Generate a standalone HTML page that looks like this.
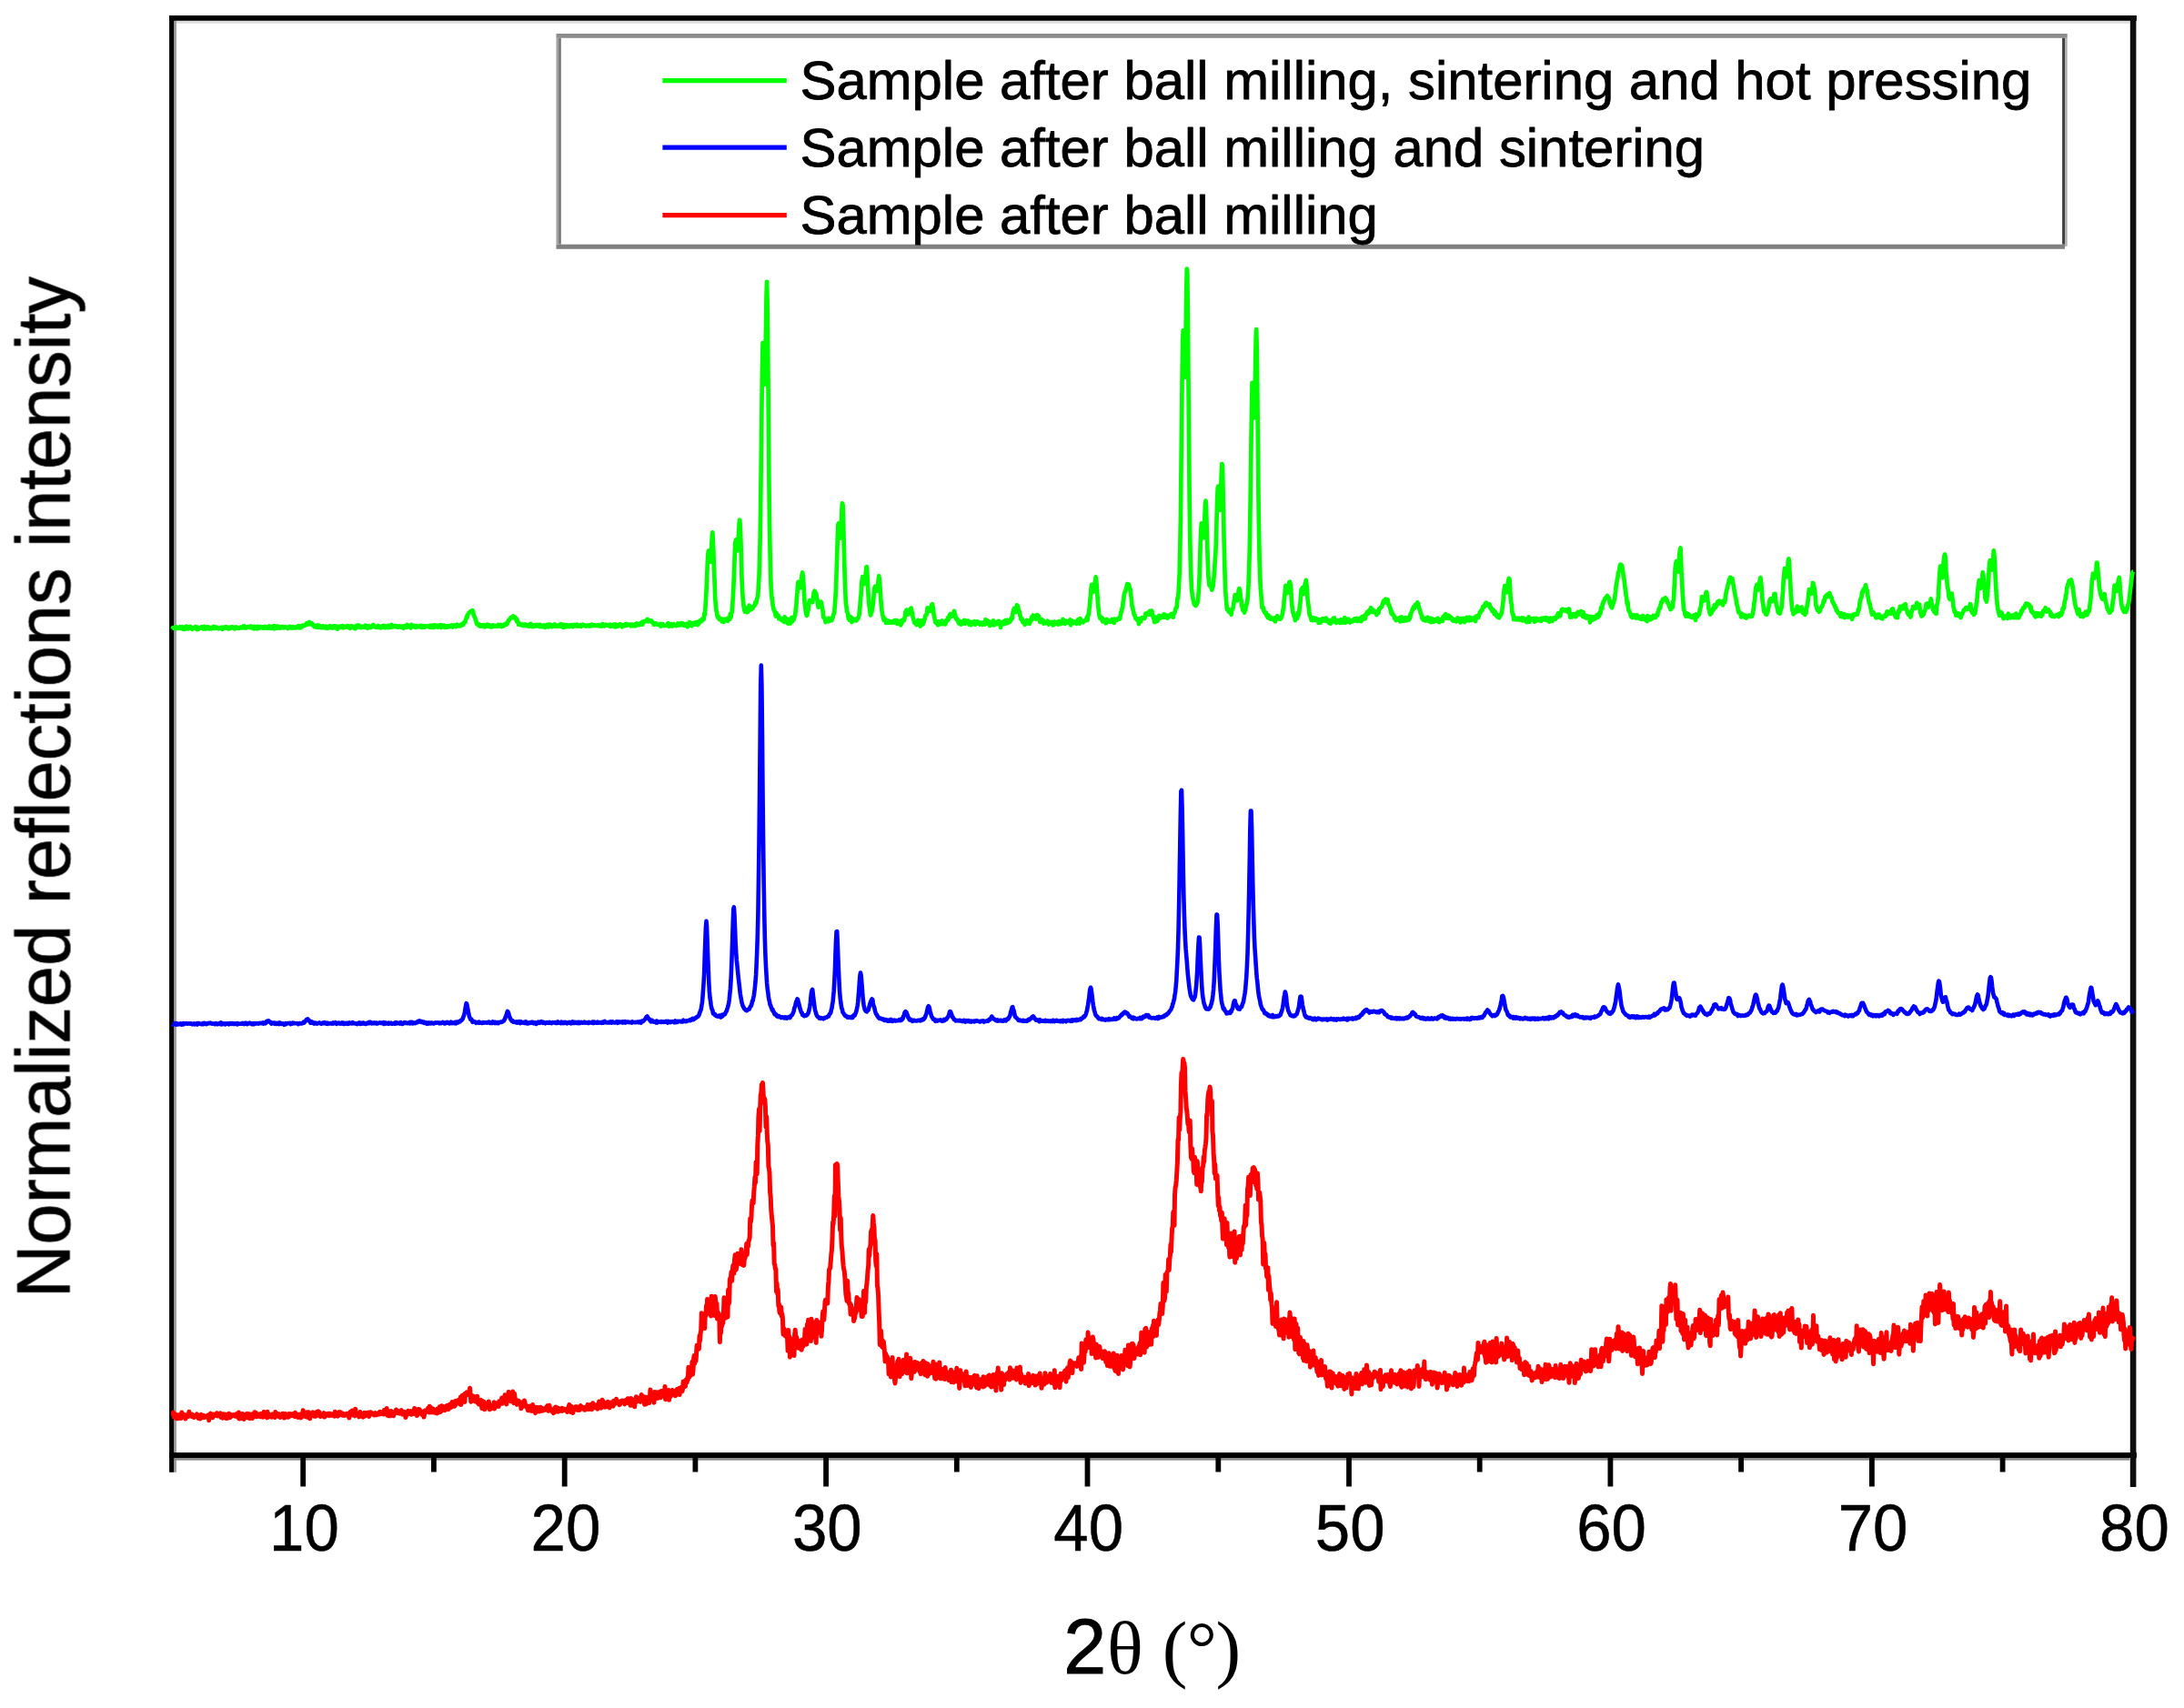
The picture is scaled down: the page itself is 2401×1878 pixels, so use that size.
<!DOCTYPE html>
<html lang="en">
<head>
<meta charset="utf-8">
<title>XRD patterns</title>
<style>
html,body{margin:0;padding:0;background:#fff;}
body{width:2401px;height:1878px;overflow:hidden;}
svg{display:block;}
.sans{font-family:"Liberation Sans",sans-serif;}
.serif{font-family:"Liberation Serif",serif;}
</style>
</head>
<body>
<svg width="2401" height="1878" viewBox="0 0 2401 1878">
<defs><filter id="soft" filterUnits="userSpaceOnUse" x="0" y="0" width="2401" height="1878"><feGaussianBlur stdDeviation="0.6"/></filter></defs>
<rect x="0" y="0" width="2401" height="1878" fill="#ffffff"/>
<g filter="url(#soft)">
<rect x="0" y="0" width="2401" height="1878" fill="#ffffff"/>
<!-- frame -->
<rect x="191.2" y="22.8" width="2150" height="3" fill="#dedede"/>
<rect x="191.2" y="22.8" width="2.8" height="1596" fill="#a0a0a0"/>
<rect x="191.2" y="1603" width="2150" height="2.7" fill="#8a8a8a"/>
<rect x="186.1" y="17" width="2162.8" height="5.8" fill="#000"/>
<rect x="186.1" y="17" width="5.1" height="1601.8" fill="#000"/>
<rect x="186.1" y="1597.1" width="2162.8" height="5.9" fill="#000"/>
<rect x="2341.8" y="17" width="6.6" height="1618" fill="#0a0a0a"/>
<g stroke="#000" stroke-width="5.8" fill="none" stroke-linecap="butt">
<line x1="333.2" y1="1600.0" x2="333.2" y2="1634.5"/><line x1="476.9" y1="1600.0" x2="476.9" y2="1618.5"/><line x1="620.7" y1="1600.0" x2="620.7" y2="1634.5"/><line x1="764.4" y1="1600.0" x2="764.4" y2="1618.5"/><line x1="908.1" y1="1600.0" x2="908.1" y2="1634.5"/><line x1="1051.8" y1="1600.0" x2="1051.8" y2="1618.5"/><line x1="1195.5" y1="1600.0" x2="1195.5" y2="1634.5"/><line x1="1339.3" y1="1600.0" x2="1339.3" y2="1618.5"/><line x1="1483.0" y1="1600.0" x2="1483.0" y2="1634.5"/><line x1="1626.7" y1="1600.0" x2="1626.7" y2="1618.5"/><line x1="1770.4" y1="1600.0" x2="1770.4" y2="1634.5"/><line x1="1914.1" y1="1600.0" x2="1914.1" y2="1618.5"/><line x1="2057.9" y1="1600.0" x2="2057.9" y2="1634.5"/><line x1="2201.6" y1="1600.0" x2="2201.6" y2="1618.5"/>
</g>
<!-- curves -->
<g fill="none" stroke-linejoin="round" stroke-linecap="butt">
<path stroke="#ff0000" stroke-width="5.0" d="M189.5 1557.5L190.1 1556.8L190.6 1552.9L191.2 1558.0L191.8 1555.2L192.4 1558.6L192.9 1559.1L193.5 1555.3L194.1 1557.3L194.7 1559.7L195.2 1559.8L195.8 1558.6L196.4 1556.3L197.0 1557.7L197.5 1555.6L198.1 1559.5L198.7 1557.6L199.3 1559.3L199.8 1553.1L200.4 1556.2L201.0 1556.2L201.6 1556.4L202.1 1555.0L202.7 1557.8L203.3 1555.6L203.9 1560.0L204.4 1556.4L205.0 1556.3L205.6 1555.9L206.2 1557.9L206.7 1557.5L207.3 1555.5L207.9 1552.2L208.5 1556.4L209.0 1555.6L209.6 1557.0L210.2 1555.6L210.8 1557.4L211.3 1555.1L211.9 1557.4L212.5 1556.6L213.1 1558.5L213.6 1556.7L214.2 1557.9L214.8 1556.5L215.4 1556.6L215.9 1555.8L216.5 1554.8L217.1 1557.2L217.7 1556.9L218.2 1559.4L218.8 1557.6L219.4 1559.9L220.0 1560.0L220.5 1557.3L221.1 1555.3L221.7 1556.5L222.3 1558.5L222.8 1556.8L223.4 1558.6L224.0 1556.3L224.6 1557.0L225.1 1558.4L225.7 1557.9L226.3 1557.4L226.9 1557.3L227.4 1557.8L228.0 1556.7L228.6 1558.5L229.2 1555.9L229.7 1561.7L230.3 1557.2L230.9 1555.5L231.5 1554.2L232.0 1555.4L232.6 1557.5L233.2 1556.0L233.8 1558.7L234.3 1556.2L234.9 1555.1L235.5 1556.3L236.1 1555.9L236.6 1556.4L237.2 1554.9L237.8 1556.5L238.4 1553.7L238.9 1557.0L239.5 1556.5L240.1 1556.5L240.7 1555.4L241.2 1556.6L241.8 1557.0L242.4 1553.9L243.0 1558.3L243.5 1556.4L244.1 1557.5L244.7 1559.1L245.3 1554.7L245.8 1555.1L246.4 1555.1L247.0 1556.7L247.6 1555.0L248.1 1555.2L248.7 1559.5L249.3 1556.2L249.9 1557.3L250.4 1558.3L251.0 1559.0L251.6 1554.3L252.2 1557.2L252.7 1557.9L253.3 1558.4L253.9 1555.5L254.5 1555.9L255.0 1556.9L255.6 1556.7L256.2 1556.0L256.8 1555.6L257.3 1556.4L257.9 1556.1L258.5 1557.0L259.1 1555.5L259.6 1554.9L260.2 1555.8L260.8 1556.2L261.4 1558.3L261.9 1555.9L262.5 1553.0L263.1 1560.1L263.7 1558.5L264.2 1557.5L264.8 1557.3L265.4 1556.5L266.0 1559.4L266.5 1554.5L267.1 1557.7L267.7 1557.7L268.3 1560.4L268.8 1556.3L269.4 1559.0L270.0 1557.2L270.6 1554.8L271.1 1554.6L271.7 1558.4L272.3 1554.4L272.9 1555.9L273.4 1559.2L274.0 1554.8L274.6 1557.3L275.2 1559.6L275.7 1558.9L276.3 1557.7L276.9 1555.1L277.5 1559.4L278.0 1557.2L278.6 1556.4L279.2 1554.5L279.8 1552.7L280.3 1557.0L280.9 1555.6L281.5 1553.5L282.1 1557.8L282.6 1556.7L283.2 1555.3L283.8 1555.6L284.4 1557.2L284.9 1557.1L285.5 1554.7L286.1 1557.8L286.7 1555.9L287.2 1554.5L287.8 1556.0L288.4 1556.3L289.0 1558.2L289.5 1557.3L290.1 1552.4L290.7 1554.1L291.3 1557.5L291.8 1556.6L292.4 1554.6L293.0 1555.3L293.6 1558.9L294.1 1552.2L294.7 1558.2L295.3 1557.9L295.9 1555.1L296.4 1555.7L297.0 1556.7L297.6 1556.2L298.2 1556.8L298.7 1558.1L299.3 1555.0L299.9 1556.1L300.5 1556.8L301.0 1555.3L301.6 1556.0L302.2 1558.5L302.8 1552.6L303.3 1556.5L303.9 1555.1L304.5 1554.1L305.1 1555.6L305.6 1556.6L306.2 1557.4L306.8 1554.7L307.4 1557.1L307.9 1558.4L308.5 1556.3L309.1 1557.2L309.6 1556.7L310.2 1557.1L310.8 1554.3L311.4 1558.0L311.9 1556.7L312.5 1559.0L313.1 1557.3L313.7 1554.4L314.2 1557.9L314.8 1558.2L315.4 1557.7L316.0 1555.4L316.5 1555.2L317.1 1558.2L317.7 1554.6L318.3 1557.3L318.8 1556.1L319.4 1554.7L320.0 1555.2L320.6 1554.9L321.1 1556.7L321.7 1554.7L322.3 1555.7L322.9 1555.4L323.4 1556.5L324.0 1557.5L324.6 1553.3L325.2 1556.5L325.7 1554.6L326.3 1555.4L326.9 1555.5L327.5 1558.4L328.0 1558.3L328.6 1555.3L329.2 1555.3L329.8 1558.2L330.3 1556.6L330.9 1558.9L331.5 1554.5L332.1 1557.6L332.6 1554.8L333.2 1550.7L333.8 1557.0L334.4 1554.0L334.9 1556.9L335.5 1555.1L336.1 1557.8L336.7 1553.3L337.2 1552.9L337.8 1558.2L338.4 1557.5L339.0 1555.8L339.5 1552.8L340.1 1557.1L340.7 1559.8L341.3 1554.9L341.8 1554.9L342.4 1554.1L343.0 1556.3L343.6 1555.4L344.1 1552.9L344.7 1554.3L345.3 1557.1L345.9 1553.5L346.4 1555.9L347.0 1557.2L347.6 1556.7L348.2 1552.4L348.7 1556.4L349.3 1553.5L349.9 1551.9L350.5 1555.9L351.0 1552.6L351.6 1555.0L352.2 1557.5L352.8 1556.3L353.3 1555.1L353.9 1556.9L354.5 1555.4L355.1 1556.7L355.6 1557.2L356.2 1553.6L356.8 1558.1L357.4 1555.0L357.9 1555.4L358.5 1555.6L359.1 1554.8L359.7 1554.5L360.2 1556.1L360.8 1554.2L361.4 1556.0L362.0 1556.5L362.5 1554.2L363.1 1554.6L363.7 1556.1L364.3 1555.1L364.8 1556.2L365.4 1555.0L366.0 1554.6L366.6 1554.7L367.1 1555.7L367.7 1557.1L368.3 1552.2L368.9 1554.2L369.4 1554.4L370.0 1553.7L370.6 1554.2L371.2 1557.1L371.7 1556.8L372.3 1554.0L372.9 1552.5L373.5 1555.7L374.0 1555.8L374.6 1552.9L375.2 1555.3L375.8 1555.7L376.3 1556.1L376.9 1554.1L377.5 1555.8L378.1 1554.7L378.6 1556.4L379.2 1555.4L379.8 1556.0L380.4 1554.9L380.9 1554.5L381.5 1555.3L382.1 1556.4L382.7 1554.2L383.2 1555.5L383.8 1559.1L384.4 1553.7L385.0 1552.5L385.5 1553.2L386.1 1554.3L386.7 1554.8L387.3 1550.9L387.8 1551.3L388.4 1556.1L389.0 1552.3L389.6 1556.0L390.1 1556.9L390.7 1549.3L391.3 1555.7L391.9 1554.8L392.4 1554.1L393.0 1555.4L393.6 1554.6L394.2 1555.6L394.7 1557.9L395.3 1555.2L395.9 1552.5L396.5 1557.1L397.0 1556.6L397.6 1557.2L398.2 1555.3L398.8 1556.2L399.3 1558.1L399.9 1554.5L400.5 1553.5L401.1 1557.1L401.6 1553.9L402.2 1556.6L402.8 1553.6L403.4 1553.7L403.9 1555.0L404.5 1555.1L405.1 1553.1L405.7 1557.4L406.2 1553.7L406.8 1555.7L407.4 1552.8L408.0 1553.4L408.5 1553.4L409.1 1554.7L409.7 1554.7L410.3 1554.8L410.8 1554.4L411.4 1556.0L412.0 1556.0L412.6 1553.6L413.1 1554.6L413.7 1555.1L414.3 1555.6L414.9 1555.2L415.4 1553.7L416.0 1553.7L416.6 1554.4L417.2 1555.1L417.7 1552.3L418.3 1552.4L418.9 1553.5L419.5 1554.3L420.0 1553.0L420.6 1553.4L421.2 1552.7L421.8 1555.0L422.3 1550.5L422.9 1554.1L423.5 1552.9L424.1 1554.1L424.6 1554.4L425.2 1548.6L425.8 1556.0L426.4 1555.3L426.9 1556.8L427.5 1555.3L428.1 1555.6L428.7 1554.9L429.2 1556.8L429.8 1551.5L430.4 1553.7L430.9 1552.2L431.5 1555.4L432.1 1554.3L432.7 1556.7L433.2 1554.0L433.8 1553.4L434.4 1553.4L435.0 1552.4L435.5 1550.0L436.1 1553.6L436.7 1552.9L437.3 1552.8L437.8 1551.5L438.4 1553.8L439.0 1551.7L439.6 1554.1L440.1 1553.1L440.7 1552.9L441.3 1550.6L441.9 1554.1L442.4 1555.1L443.0 1553.2L443.6 1552.4L444.2 1554.5L444.7 1554.8L445.3 1552.6L445.9 1558.4L446.5 1555.6L447.0 1556.1L447.6 1554.1L448.2 1554.0L448.8 1551.4L449.3 1552.7L449.9 1553.3L450.5 1554.5L451.1 1552.2L451.6 1551.6L452.2 1555.3L452.8 1553.3L453.4 1554.8L453.9 1553.3L454.5 1551.9L455.1 1553.0L455.7 1548.4L456.2 1554.8L456.8 1554.0L457.4 1555.1L458.0 1552.5L458.5 1556.6L459.1 1555.1L459.7 1549.5L460.3 1549.4L460.8 1553.2L461.4 1550.0L462.0 1552.4L462.6 1552.3L463.1 1552.0L463.7 1555.4L464.3 1553.6L464.9 1553.7L465.4 1552.9L466.0 1558.1L466.6 1554.9L467.2 1550.9L467.7 1553.3L468.3 1550.7L468.9 1551.8L469.5 1551.9L470.0 1549.3L470.6 1548.3L471.2 1549.5L471.8 1552.9L472.3 1546.3L472.9 1552.9L473.5 1547.4L474.1 1550.0L474.6 1550.4L475.2 1552.9L475.8 1551.4L476.4 1549.1L476.9 1550.0L477.5 1551.6L478.1 1553.3L478.7 1551.5L479.2 1550.7L479.8 1550.3L480.4 1554.0L481.0 1549.0L481.5 1549.6L482.1 1551.2L482.7 1553.0L483.3 1546.7L483.8 1552.2L484.4 1552.5L485.0 1550.5L485.6 1545.8L486.1 1548.2L486.7 1549.3L487.3 1550.1L487.9 1546.7L488.4 1548.8L489.0 1550.7L489.6 1547.9L490.2 1548.3L490.7 1547.8L491.3 1545.5L491.9 1547.6L492.5 1547.7L493.0 1549.6L493.6 1545.8L494.2 1544.3L494.8 1545.8L495.3 1544.5L495.9 1547.6L496.5 1544.5L497.1 1541.6L497.6 1546.6L498.2 1544.5L498.8 1544.7L499.4 1544.8L499.9 1546.2L500.5 1540.6L501.1 1544.2L501.7 1542.3L502.2 1541.9L502.8 1541.1L503.4 1539.7L504.0 1541.2L504.5 1540.3L505.1 1541.9L505.7 1543.9L506.3 1536.3L506.8 1544.5L507.4 1541.6L508.0 1534.5L508.6 1537.1L509.1 1537.1L509.7 1540.4L510.3 1533.3L510.9 1541.4L511.4 1532.2L512.0 1534.1L512.6 1533.1L513.2 1530.8L513.7 1531.0L514.3 1532.6L514.9 1533.6L515.5 1532.5L516.0 1531.5L516.6 1526.3L517.2 1534.0L517.8 1541.2L518.3 1540.7L518.9 1539.4L519.5 1534.8L520.1 1538.0L520.6 1535.1L521.2 1535.7L521.8 1538.0L522.4 1541.0L522.9 1536.9L523.5 1536.8L524.1 1539.1L524.7 1535.3L525.2 1542.4L525.8 1543.2L526.4 1544.0L527.0 1543.1L527.5 1539.6L528.1 1540.9L528.7 1539.4L529.3 1543.1L529.8 1548.4L530.4 1540.4L531.0 1545.0L531.6 1547.2L532.1 1541.3L532.7 1549.7L533.3 1543.0L533.9 1544.7L534.4 1546.4L535.0 1547.9L535.6 1547.8L536.2 1545.5L536.7 1544.8L537.3 1541.0L537.9 1545.5L538.5 1549.8L539.0 1545.1L539.6 1548.4L540.2 1548.7L540.8 1547.3L541.3 1545.5L541.9 1545.3L542.5 1546.3L543.1 1541.8L543.6 1549.1L544.2 1542.8L544.8 1543.4L545.4 1542.9L545.9 1543.3L546.5 1544.6L547.1 1546.3L547.7 1543.3L548.2 1546.5L548.8 1540.8L549.4 1543.3L549.9 1543.3L550.5 1541.1L551.1 1542.2L551.7 1536.9L552.2 1543.3L552.8 1541.3L553.4 1539.0L554.0 1537.0L554.5 1540.1L555.1 1533.8L555.7 1539.0L556.3 1539.3L556.8 1544.0L557.4 1535.6L558.0 1540.0L558.6 1537.6L559.1 1530.4L559.7 1531.5L560.3 1534.0L560.9 1539.6L561.4 1540.7L562.0 1535.7L562.6 1538.1L563.2 1537.8L563.7 1529.9L564.3 1541.3L564.9 1542.6L565.5 1532.2L566.0 1536.5L566.6 1539.5L567.2 1539.9L567.8 1543.6L568.3 1544.3L568.9 1539.9L569.5 1543.6L570.1 1540.3L570.6 1541.6L571.2 1543.3L571.8 1544.5L572.4 1541.7L572.9 1548.7L573.5 1544.6L574.1 1544.4L574.7 1546.7L575.2 1543.6L575.8 1546.3L576.4 1539.9L577.0 1542.0L577.5 1545.6L578.1 1545.7L578.7 1546.3L579.3 1545.9L579.8 1549.0L580.4 1550.7L581.0 1547.0L581.6 1550.7L582.1 1549.4L582.7 1546.0L583.3 1545.8L583.9 1549.0L584.4 1551.4L585.0 1547.0L585.6 1544.5L586.2 1551.2L586.7 1551.6L587.3 1548.6L587.9 1551.5L588.5 1553.6L589.0 1547.3L589.6 1548.3L590.2 1548.4L590.8 1551.6L591.3 1547.4L591.9 1548.5L592.5 1552.0L593.1 1551.5L593.6 1551.6L594.2 1547.3L594.8 1550.3L595.4 1548.1L595.9 1551.3L596.5 1550.5L597.1 1550.9L597.7 1549.0L598.2 1549.7L598.8 1550.2L599.4 1549.0L600.0 1550.1L600.5 1547.3L601.1 1546.9L601.7 1545.8L602.3 1549.2L602.8 1551.3L603.4 1550.4L604.0 1545.2L604.6 1550.4L605.1 1549.6L605.7 1549.2L606.3 1550.0L606.9 1550.8L607.4 1552.5L608.0 1552.2L608.6 1553.7L609.2 1550.8L609.7 1548.3L610.3 1552.4L610.9 1547.0L611.5 1551.4L612.0 1547.4L612.6 1548.4L613.2 1552.2L613.8 1548.3L614.3 1551.9L614.9 1551.0L615.5 1549.3L616.1 1551.2L616.6 1550.9L617.2 1549.9L617.8 1548.3L618.4 1551.4L618.9 1548.9L619.5 1549.5L620.1 1550.6L620.7 1549.4L621.2 1550.2L621.8 1550.3L622.4 1550.2L623.0 1549.9L623.5 1552.5L624.1 1548.5L624.7 1548.6L625.3 1546.9L625.8 1544.5L626.4 1550.9L627.0 1550.5L627.6 1552.5L628.1 1546.3L628.7 1547.7L629.3 1548.1L629.9 1553.5L630.4 1551.2L631.0 1548.8L631.6 1549.1L632.2 1549.8L632.7 1546.7L633.3 1549.8L633.9 1546.7L634.5 1549.2L635.0 1550.4L635.6 1549.4L636.2 1547.3L636.8 1548.1L637.3 1550.4L637.9 1547.5L638.5 1545.6L639.1 1547.9L639.6 1547.3L640.2 1547.9L640.8 1548.3L641.4 1547.4L641.9 1547.4L642.5 1550.1L643.1 1549.3L643.7 1550.1L644.2 1548.0L644.8 1546.9L645.4 1548.4L646.0 1544.4L646.5 1545.0L647.1 1549.4L647.7 1546.3L648.3 1545.8L648.8 1544.8L649.4 1548.2L650.0 1544.3L650.6 1549.8L651.1 1547.4L651.7 1542.8L652.3 1545.6L652.9 1544.3L653.4 1547.8L654.0 1547.7L654.6 1545.3L655.2 1544.8L655.7 1547.3L656.3 1544.7L656.9 1549.2L657.5 1544.4L658.0 1546.7L658.6 1541.1L659.2 1546.6L659.8 1544.1L660.3 1546.2L660.9 1548.1L661.5 1544.9L662.1 1539.2L662.6 1540.2L663.2 1545.3L663.8 1542.8L664.4 1542.1L664.9 1547.3L665.5 1544.2L666.1 1546.9L666.7 1546.8L667.2 1543.5L667.8 1544.7L668.4 1541.3L668.9 1545.2L669.5 1544.0L670.1 1547.9L670.7 1546.0L671.2 1543.4L671.8 1542.0L672.4 1543.1L673.0 1543.6L673.5 1545.4L674.1 1546.0L674.7 1540.2L675.3 1540.6L675.8 1544.0L676.4 1539.9L677.0 1542.7L677.6 1538.3L678.1 1542.0L678.7 1541.5L679.3 1541.8L679.9 1540.9L680.4 1543.7L681.0 1544.7L681.6 1544.2L682.2 1541.5L682.7 1541.3L683.3 1540.3L683.9 1540.0L684.5 1541.4L685.0 1541.3L685.6 1541.1L686.2 1542.2L686.8 1543.8L687.3 1539.7L687.9 1540.7L688.5 1542.7L689.1 1541.7L689.6 1538.9L690.2 1537.8L690.8 1542.6L691.4 1537.9L691.9 1541.8L692.5 1537.9L693.1 1545.3L693.7 1537.5L694.2 1545.3L694.8 1542.3L695.4 1544.0L696.0 1543.5L696.5 1541.5L697.1 1539.1L697.7 1546.7L698.3 1538.6L698.8 1540.2L699.4 1535.8L700.0 1539.4L700.6 1541.0L701.1 1537.3L701.7 1539.5L702.3 1538.2L702.9 1538.0L703.4 1540.6L704.0 1541.2L704.6 1536.5L705.2 1533.5L705.7 1539.8L706.3 1535.1L706.9 1536.9L707.5 1535.7L708.0 1540.9L708.6 1544.3L709.2 1536.0L709.8 1544.1L710.3 1538.0L710.9 1536.4L711.5 1540.6L712.1 1542.9L712.6 1536.4L713.2 1536.0L713.8 1542.4L714.4 1539.4L714.9 1528.1L715.5 1536.0L716.1 1533.9L716.7 1534.4L717.2 1536.5L717.8 1534.5L718.4 1534.6L719.0 1542.2L719.5 1530.6L720.1 1536.0L720.7 1537.2L721.3 1530.7L721.8 1531.5L722.4 1531.4L723.0 1537.6L723.6 1531.3L724.1 1536.2L724.7 1530.7L725.3 1530.3L725.9 1535.7L726.4 1536.8L727.0 1529.6L727.6 1530.5L728.2 1534.5L728.7 1530.4L729.3 1529.6L729.9 1529.7L730.5 1534.1L731.0 1524.4L731.6 1538.7L732.2 1538.1L732.8 1536.8L733.3 1531.8L733.9 1530.2L734.5 1534.1L735.1 1528.5L735.6 1539.3L736.2 1529.9L736.8 1535.9L737.4 1534.5L737.9 1530.1L738.5 1530.7L739.1 1528.5L739.7 1531.6L740.2 1533.1L740.8 1531.0L741.4 1529.6L742.0 1530.7L742.5 1534.8L743.1 1533.4L743.7 1531.8L744.3 1527.6L744.8 1527.9L745.4 1531.2L746.0 1527.7L746.6 1526.4L747.1 1533.6L747.7 1528.7L748.3 1528.9L748.9 1525.5L749.4 1528.3L750.0 1529.7L750.6 1526.8L751.2 1519.0L751.7 1521.8L752.3 1524.8L752.9 1522.3L753.5 1524.3L754.0 1517.3L754.6 1517.0L755.2 1520.0L755.8 1514.2L756.3 1517.2L756.9 1503.3L757.5 1505.9L758.1 1514.1L758.6 1512.4L759.2 1511.1L759.8 1510.8L760.4 1509.8L760.9 1497.5L761.5 1511.2L762.1 1505.9L762.7 1492.9L763.2 1490.5L763.8 1499.1L764.4 1490.9L765.0 1496.5L765.5 1489.5L766.1 1479.3L766.7 1480.8L767.3 1481.0L767.8 1480.5L768.4 1483.2L769.0 1469.1L769.6 1474.2L770.1 1465.7L770.7 1463.2L771.3 1443.7L771.9 1454.3L772.4 1444.6L773.0 1458.1L773.6 1458.6L774.2 1451.0L774.7 1460.7L775.3 1444.5L775.9 1446.6L776.5 1435.7L777.0 1439.8L777.6 1428.6L778.2 1434.0L778.8 1444.2L779.3 1436.3L779.9 1433.9L780.5 1435.5L781.1 1440.3L781.6 1447.0L782.2 1425.2L782.8 1436.6L783.4 1435.8L783.9 1435.1L784.5 1436.9L785.1 1441.2L785.7 1446.5L786.2 1425.4L786.8 1431.0L787.4 1442.9L788.0 1433.3L788.5 1450.2L789.1 1442.7L789.7 1450.3L790.2 1444.3L790.8 1447.6L791.4 1475.8L792.0 1452.6L792.5 1465.7L793.1 1453.8L793.7 1458.1L794.3 1446.2L794.8 1454.9L795.4 1445.9L796.0 1426.8L796.6 1427.0L797.1 1444.8L797.7 1449.2L798.3 1436.4L798.9 1432.1L799.4 1433.6L800.0 1448.0L800.6 1418.3L801.2 1433.4L801.7 1432.3L802.3 1407.4L802.9 1405.2L803.5 1404.5L804.0 1398.5L804.6 1408.4L805.2 1398.9L805.8 1391.4L806.3 1395.9L806.9 1400.1L807.5 1385.4L808.1 1379.7L808.6 1391.6L809.2 1396.3L809.8 1393.6L810.4 1386.7L810.9 1378.3L811.5 1385.7L812.1 1383.8L812.7 1384.7L813.2 1380.3L813.8 1389.6L814.4 1389.5L815.0 1373.7L815.5 1390.4L816.1 1378.0L816.7 1387.6L817.3 1386.2L817.8 1391.4L818.4 1383.5L819.0 1383.4L819.6 1380.4L820.1 1378.0L820.7 1367.6L821.3 1379.6L821.9 1367.2L822.4 1370.8L823.0 1364.2L823.6 1363.6L824.2 1360.2L824.7 1339.9L825.3 1343.6L825.9 1339.9L826.5 1326.3L827.0 1320.0L827.6 1321.8L828.2 1322.8L828.8 1310.3L829.3 1304.7L829.9 1294.5L830.5 1300.5L831.1 1277.8L831.6 1277.7L832.2 1291.0L832.8 1258.8L833.4 1248.4L833.9 1227.9L834.5 1219.5L835.1 1243.6L835.7 1218.6L836.2 1203.8L836.8 1202.1L837.4 1192.5L838.0 1198.1L838.5 1190.4L839.1 1201.5L839.7 1212.1L840.3 1207.3L840.8 1208.6L841.4 1216.9L842.0 1239.1L842.6 1227.6L843.1 1241.5L843.7 1254.6L844.3 1258.8L844.9 1282.5L845.4 1284.6L846.0 1289.4L846.6 1311.2L847.2 1315.6L847.7 1329.5L848.3 1336.4L848.9 1342.4L849.5 1348.1L850.0 1369.5L850.6 1366.8L851.2 1389.5L851.8 1390.4L852.3 1394.9L852.9 1395.2L853.5 1420.3L854.1 1411.1L854.6 1422.5L855.2 1417.9L855.8 1435.9L856.4 1433.9L856.9 1442.1L857.5 1443.9L858.1 1439.8L858.7 1437.1L859.2 1447.1L859.8 1444.5L860.4 1449.1L861.0 1467.2L861.5 1463.6L862.1 1461.0L862.7 1465.5L863.3 1469.0L863.8 1465.4L864.4 1464.9L865.0 1467.8L865.6 1472.0L866.1 1485.3L866.7 1462.5L867.3 1472.9L867.9 1469.6L868.4 1492.3L869.0 1471.5L869.6 1485.5L870.2 1481.1L870.7 1480.4L871.3 1484.7L871.9 1479.8L872.5 1474.4L873.0 1490.6L873.6 1467.7L874.2 1462.3L874.8 1470.2L875.3 1481.0L875.9 1470.5L876.5 1476.0L877.1 1481.9L877.6 1479.8L878.2 1477.5L878.8 1482.4L879.4 1474.2L879.9 1481.6L880.5 1474.8L881.1 1484.3L881.7 1480.8L882.2 1472.9L882.8 1480.6L883.4 1478.4L884.0 1477.4L884.5 1473.2L885.1 1461.4L885.7 1465.8L886.3 1475.9L886.8 1478.1L887.4 1456.3L888.0 1460.4L888.6 1451.3L889.1 1456.0L889.7 1470.0L890.3 1460.3L890.9 1468.1L891.4 1474.6L892.0 1450.3L892.6 1463.9L893.2 1465.0L893.7 1465.6L894.3 1469.7L894.9 1470.3L895.5 1465.6L896.0 1453.8L896.6 1469.3L897.2 1476.4L897.8 1451.6L898.3 1458.6L898.9 1461.7L899.5 1455.8L900.1 1459.8L900.6 1459.7L901.2 1465.4L901.8 1453.7L902.4 1454.4L902.9 1469.3L903.5 1462.1L904.1 1449.3L904.7 1442.1L905.2 1449.1L905.8 1451.4L906.4 1443.0L907.0 1431.4L907.5 1429.3L908.1 1430.3L908.7 1432.0L909.2 1430.4L909.8 1433.1L910.4 1414.6L911.0 1408.7L911.5 1395.9L912.1 1395.1L912.7 1394.2L913.3 1386.4L913.8 1379.5L914.4 1374.6L915.0 1361.7L915.6 1343.9L916.1 1346.0L916.7 1335.6L917.3 1314.7L917.9 1337.3L918.4 1280.7L919.0 1280.4L919.6 1281.1L920.2 1279.5L920.7 1282.0L921.3 1300.0L921.9 1315.7L922.5 1321.1L923.0 1329.8L923.6 1352.6L924.2 1338.9L924.8 1359.6L925.3 1370.0L925.9 1374.9L926.5 1384.4L927.1 1391.5L927.6 1395.2L928.2 1397.5L928.8 1403.9L929.4 1414.4L929.9 1423.3L930.5 1426.5L931.1 1430.6L931.7 1408.2L932.2 1422.0L932.8 1422.0L933.4 1432.9L934.0 1434.7L934.5 1433.0L935.1 1445.2L935.7 1435.1L936.3 1440.8L936.8 1444.8L937.4 1445.0L938.0 1439.3L938.6 1452.6L939.1 1447.6L939.7 1449.5L940.3 1443.8L940.9 1443.3L941.4 1435.6L942.0 1426.5L942.6 1432.3L943.2 1428.7L943.7 1440.0L944.3 1428.6L944.9 1435.4L945.5 1431.6L946.0 1438.2L946.6 1436.2L947.2 1447.6L947.8 1443.2L948.3 1447.5L948.9 1435.4L949.5 1419.6L950.1 1439.0L950.6 1443.5L951.2 1421.7L951.8 1431.8L952.4 1414.8L952.9 1412.1L953.5 1405.2L954.1 1396.3L954.7 1391.3L955.2 1373.8L955.8 1380.8L956.4 1372.2L957.0 1368.6L957.5 1354.9L958.1 1352.2L958.7 1360.1L959.3 1345.1L959.8 1336.4L960.4 1345.0L961.0 1350.1L961.6 1368.1L962.1 1363.3L962.7 1386.5L963.3 1392.3L963.9 1378.7L964.4 1413.3L965.0 1416.2L965.6 1424.6L966.2 1442.4L966.7 1454.5L967.3 1478.7L967.9 1466.0L968.5 1463.1L969.0 1472.7L969.6 1480.8L970.2 1473.7L970.8 1481.8L971.3 1474.9L971.9 1480.2L972.5 1487.7L973.1 1497.1L973.6 1488.2L974.2 1490.0L974.8 1496.0L975.4 1491.6L975.9 1495.6L976.5 1494.6L977.1 1511.0L977.7 1499.3L978.2 1510.7L978.8 1504.3L979.4 1514.1L980.0 1499.4L980.5 1506.1L981.1 1492.4L981.7 1512.6L982.3 1508.9L982.8 1503.5L983.4 1516.5L984.0 1521.0L984.6 1513.6L985.1 1513.9L985.7 1505.4L986.3 1500.5L986.9 1496.6L987.4 1510.5L988.0 1494.2L988.6 1503.3L989.2 1513.7L989.7 1506.1L990.3 1496.9L990.9 1499.0L991.5 1510.8L992.0 1497.5L992.6 1500.8L993.2 1495.3L993.8 1502.7L994.3 1499.4L994.9 1508.6L995.5 1497.1L996.1 1500.2L996.6 1489.1L997.2 1510.0L997.8 1509.4L998.4 1500.9L998.9 1503.4L999.5 1505.1L1000.1 1508.7L1000.7 1493.3L1001.2 1497.6L1001.8 1515.7L1002.4 1509.5L1003.0 1506.3L1003.5 1503.2L1004.1 1507.9L1004.7 1508.3L1005.3 1508.4L1005.8 1497.6L1006.4 1503.8L1007.0 1506.0L1007.6 1505.6L1008.1 1498.3L1008.7 1503.0L1009.3 1498.9L1009.9 1502.2L1010.4 1505.9L1011.0 1508.0L1011.6 1508.2L1012.2 1510.6L1012.7 1506.1L1013.3 1498.5L1013.9 1505.8L1014.5 1503.1L1015.0 1496.5L1015.6 1502.4L1016.2 1508.2L1016.8 1511.7L1017.3 1505.5L1017.9 1498.7L1018.5 1506.0L1019.1 1502.5L1019.6 1513.3L1020.2 1499.8L1020.8 1511.3L1021.4 1505.5L1021.9 1509.0L1022.5 1503.1L1023.1 1509.8L1023.7 1507.1L1024.2 1506.2L1024.8 1501.5L1025.4 1504.3L1026.0 1497.3L1026.5 1510.3L1027.1 1506.0L1027.7 1515.6L1028.2 1499.7L1028.8 1516.2L1029.4 1510.3L1030.0 1505.6L1030.5 1510.7L1031.1 1501.5L1031.7 1501.0L1032.3 1514.8L1032.8 1497.9L1033.4 1508.6L1034.0 1515.8L1034.6 1509.3L1035.1 1515.8L1035.7 1507.7L1036.3 1505.5L1036.9 1515.2L1037.4 1513.8L1038.0 1508.9L1038.6 1516.6L1039.2 1503.6L1039.7 1515.0L1040.3 1507.7L1040.9 1511.1L1041.5 1510.6L1042.0 1511.1L1042.6 1513.0L1043.2 1517.7L1043.8 1517.8L1044.3 1511.3L1044.9 1511.4L1045.5 1506.2L1046.1 1519.8L1046.6 1516.4L1047.2 1508.8L1047.8 1513.1L1048.4 1519.9L1048.9 1509.2L1049.5 1514.3L1050.1 1513.2L1050.7 1512.1L1051.2 1514.2L1051.8 1504.3L1052.4 1519.1L1053.0 1512.4L1053.5 1515.5L1054.1 1508.4L1054.7 1526.4L1055.3 1518.4L1055.8 1506.8L1056.4 1513.3L1057.0 1514.9L1057.6 1512.1L1058.1 1510.6L1058.7 1511.0L1059.3 1513.4L1059.9 1518.3L1060.4 1518.8L1061.0 1523.8L1061.6 1517.4L1062.2 1508.1L1062.7 1517.8L1063.3 1523.5L1063.9 1513.4L1064.5 1519.6L1065.0 1520.3L1065.6 1514.4L1066.2 1518.1L1066.8 1514.5L1067.3 1525.5L1067.9 1521.9L1068.5 1519.3L1069.1 1522.1L1069.6 1522.0L1070.2 1515.2L1070.8 1513.1L1071.4 1512.5L1071.9 1513.2L1072.5 1522.6L1073.1 1523.8L1073.7 1525.7L1074.2 1512.8L1074.8 1518.7L1075.4 1524.2L1076.0 1526.7L1076.5 1517.2L1077.1 1516.9L1077.7 1516.8L1078.3 1520.5L1078.8 1522.1L1079.4 1522.8L1080.0 1516.3L1080.6 1524.9L1081.1 1513.7L1081.7 1521.0L1082.3 1524.2L1082.9 1523.1L1083.4 1519.9L1084.0 1516.1L1084.6 1517.5L1085.2 1514.4L1085.7 1514.5L1086.3 1513.0L1086.9 1522.6L1087.5 1512.0L1088.0 1514.1L1088.6 1523.4L1089.2 1519.0L1089.8 1525.1L1090.3 1524.2L1090.9 1518.9L1091.5 1522.0L1092.1 1511.5L1092.6 1517.8L1093.2 1524.7L1093.8 1518.7L1094.4 1517.8L1094.9 1529.0L1095.5 1520.0L1096.1 1509.3L1096.7 1521.4L1097.2 1504.0L1097.8 1518.2L1098.4 1517.5L1099.0 1513.4L1099.5 1511.7L1100.1 1513.3L1100.7 1528.2L1101.3 1509.8L1101.8 1511.0L1102.4 1513.7L1103.0 1512.4L1103.6 1522.5L1104.1 1515.4L1104.7 1512.7L1105.3 1516.9L1105.9 1514.4L1106.4 1511.6L1107.0 1510.6L1107.6 1511.1L1108.2 1510.8L1108.7 1509.1L1109.3 1510.5L1109.9 1517.1L1110.5 1503.8L1111.0 1512.0L1111.6 1513.6L1112.2 1509.1L1112.8 1509.2L1113.3 1515.2L1113.9 1506.9L1114.5 1512.2L1115.1 1511.8L1115.6 1510.0L1116.2 1510.2L1116.8 1513.6L1117.4 1517.0L1117.9 1504.1L1118.5 1515.3L1119.1 1506.8L1119.7 1506.1L1120.2 1511.9L1120.8 1512.3L1121.4 1503.1L1122.0 1520.4L1122.5 1510.4L1123.1 1516.5L1123.7 1515.5L1124.3 1517.0L1124.8 1514.8L1125.4 1516.3L1126.0 1515.6L1126.6 1514.0L1127.1 1521.2L1127.7 1517.0L1128.3 1518.1L1128.9 1514.1L1129.4 1513.9L1130.0 1517.8L1130.6 1510.5L1131.2 1523.7L1131.7 1515.4L1132.3 1515.7L1132.9 1514.9L1133.5 1517.9L1134.0 1519.7L1134.6 1520.6L1135.2 1514.3L1135.8 1512.3L1136.3 1516.8L1136.9 1516.9L1137.5 1514.1L1138.1 1523.1L1138.6 1512.9L1139.2 1513.6L1139.8 1521.9L1140.4 1515.8L1140.9 1516.8L1141.5 1513.8L1142.1 1512.0L1142.7 1514.4L1143.2 1510.0L1143.8 1521.0L1144.4 1519.0L1145.0 1526.3L1145.5 1517.4L1146.1 1515.3L1146.7 1522.3L1147.3 1515.4L1147.8 1522.3L1148.4 1515.6L1149.0 1509.7L1149.5 1516.3L1150.1 1516.4L1150.7 1520.2L1151.3 1515.8L1151.8 1519.0L1152.4 1518.9L1153.0 1513.9L1153.6 1512.8L1154.1 1514.4L1154.7 1510.4L1155.3 1518.0L1155.9 1520.4L1156.4 1516.0L1157.0 1514.4L1157.6 1511.8L1158.2 1519.9L1158.7 1521.7L1159.3 1506.8L1159.9 1525.8L1160.5 1523.3L1161.0 1513.6L1161.6 1515.7L1162.2 1516.3L1162.8 1517.1L1163.3 1513.3L1163.9 1516.6L1164.5 1517.5L1165.1 1525.7L1165.6 1513.5L1166.2 1510.4L1166.8 1518.0L1167.4 1512.7L1167.9 1513.3L1168.5 1512.6L1169.1 1510.1L1169.7 1509.3L1170.2 1508.8L1170.8 1507.0L1171.4 1508.2L1172.0 1519.2L1172.5 1509.3L1173.1 1505.3L1173.7 1503.8L1174.3 1514.6L1174.8 1505.0L1175.4 1508.6L1176.0 1498.4L1176.6 1496.1L1177.1 1507.8L1177.7 1497.2L1178.3 1506.7L1178.9 1509.7L1179.4 1500.0L1180.0 1501.2L1180.6 1500.9L1181.2 1498.8L1181.7 1499.9L1182.3 1499.0L1182.9 1499.6L1183.5 1500.4L1184.0 1502.4L1184.6 1501.4L1185.2 1498.4L1185.8 1492.8L1186.3 1499.5L1186.9 1500.4L1187.5 1495.5L1188.1 1491.2L1188.6 1505.6L1189.2 1476.9L1189.8 1493.7L1190.4 1489.9L1190.9 1497.0L1191.5 1498.2L1192.1 1488.9L1192.7 1480.2L1193.2 1486.1L1193.8 1473.0L1194.4 1480.7L1195.0 1473.7L1195.5 1482.0L1196.1 1465.1L1196.7 1474.9L1197.3 1478.5L1197.8 1475.3L1198.4 1474.6L1199.0 1471.8L1199.6 1475.8L1200.1 1488.6L1200.7 1474.3L1201.3 1469.9L1201.9 1472.4L1202.4 1477.4L1203.0 1486.0L1203.6 1480.1L1204.2 1488.0L1204.7 1492.9L1205.3 1478.3L1205.9 1486.5L1206.5 1483.7L1207.0 1492.5L1207.6 1492.3L1208.2 1490.0L1208.8 1480.6L1209.3 1486.1L1209.9 1488.3L1210.5 1488.8L1211.1 1485.9L1211.6 1491.9L1212.2 1493.6L1212.8 1493.4L1213.4 1487.0L1213.9 1490.0L1214.5 1485.7L1215.1 1488.9L1215.7 1497.6L1216.2 1493.0L1216.8 1493.7L1217.4 1501.6L1218.0 1492.3L1218.5 1496.1L1219.1 1487.8L1219.7 1502.2L1220.3 1496.2L1220.8 1502.1L1221.4 1502.3L1222.0 1497.9L1222.6 1501.5L1223.1 1490.3L1223.7 1495.7L1224.3 1488.0L1224.9 1504.5L1225.4 1502.5L1226.0 1507.2L1226.6 1506.7L1227.2 1507.9L1227.7 1497.9L1228.3 1490.3L1228.9 1496.4L1229.5 1510.5L1230.0 1501.6L1230.6 1505.0L1231.2 1502.4L1231.8 1501.1L1232.3 1495.5L1232.9 1490.5L1233.5 1502.0L1234.1 1491.1L1234.6 1505.9L1235.2 1499.1L1235.8 1499.4L1236.4 1495.1L1236.9 1484.3L1237.5 1488.8L1238.1 1499.6L1238.7 1485.6L1239.2 1485.4L1239.8 1501.7L1240.4 1478.9L1241.0 1491.0L1241.5 1493.4L1242.1 1503.1L1242.7 1497.0L1243.3 1492.6L1243.8 1478.0L1244.4 1487.1L1245.0 1477.2L1245.6 1489.7L1246.1 1478.4L1246.7 1493.7L1247.3 1490.9L1247.9 1482.6L1248.4 1488.6L1249.0 1486.8L1249.6 1485.6L1250.2 1484.4L1250.7 1488.9L1251.3 1483.8L1251.9 1480.2L1252.5 1484.9L1253.0 1476.8L1253.6 1489.8L1254.2 1486.4L1254.8 1465.3L1255.3 1477.3L1255.9 1477.9L1256.5 1477.6L1257.1 1481.1L1257.6 1486.6L1258.2 1487.1L1258.8 1461.2L1259.4 1481.3L1259.9 1460.2L1260.5 1481.1L1261.1 1475.9L1261.7 1466.0L1262.2 1467.5L1262.8 1466.7L1263.4 1478.5L1264.0 1464.5L1264.5 1464.7L1265.1 1469.9L1265.7 1478.2L1266.3 1460.7L1266.8 1466.1L1267.4 1457.6L1268.0 1469.5L1268.5 1452.2L1269.1 1462.5L1269.7 1461.4L1270.3 1454.3L1270.8 1464.4L1271.4 1468.4L1272.0 1453.0L1272.6 1453.8L1273.1 1451.1L1273.7 1456.6L1274.3 1451.8L1274.9 1444.3L1275.4 1441.0L1276.0 1433.5L1276.6 1434.8L1277.2 1434.5L1277.7 1444.6L1278.3 1435.9L1278.9 1410.5L1279.5 1420.0L1280.0 1430.4L1280.6 1426.7L1281.2 1401.4L1281.8 1410.8L1282.3 1420.2L1282.9 1399.1L1283.5 1397.6L1284.1 1397.5L1284.6 1384.8L1285.2 1396.6L1285.8 1385.3L1286.4 1380.5L1286.9 1368.5L1287.5 1376.4L1288.1 1359.7L1288.7 1350.1L1289.2 1348.6L1289.8 1332.9L1290.4 1332.0L1291.0 1347.4L1291.5 1314.7L1292.1 1305.4L1292.7 1303.8L1293.3 1297.2L1293.8 1288.7L1294.4 1278.0L1295.0 1253.0L1295.6 1253.4L1296.1 1228.8L1296.7 1242.4L1297.3 1229.4L1297.9 1222.4L1298.4 1192.5L1299.0 1179.4L1299.6 1189.4L1300.2 1172.2L1300.7 1164.6L1301.3 1168.1L1301.9 1168.6L1302.5 1173.9L1303.0 1199.4L1303.6 1206.3L1304.2 1217.8L1304.8 1221.5L1305.3 1226.9L1305.9 1236.2L1306.5 1235.4L1307.1 1243.4L1307.6 1245.3L1308.2 1231.9L1308.8 1257.6L1309.4 1272.3L1309.9 1274.1L1310.5 1262.7L1311.1 1270.5L1311.7 1272.2L1312.2 1287.5L1312.8 1289.6L1313.4 1272.3L1314.0 1275.1L1314.5 1280.5L1315.1 1282.3L1315.7 1302.4L1316.3 1276.7L1316.8 1285.4L1317.4 1284.8L1318.0 1292.3L1318.6 1303.7L1319.1 1290.1L1319.7 1304.7L1320.3 1309.8L1320.9 1294.8L1321.4 1299.5L1322.0 1283.3L1322.6 1282.9L1323.2 1272.1L1323.7 1277.6L1324.3 1265.1L1324.9 1261.6L1325.5 1257.5L1326.0 1251.3L1326.6 1225.6L1327.2 1226.4L1327.8 1208.7L1328.3 1203.6L1328.9 1200.0L1329.5 1199.7L1330.1 1195.1L1330.6 1198.9L1331.2 1218.7L1331.8 1220.8L1332.4 1210.4L1332.9 1243.7L1333.5 1248.3L1334.1 1267.2L1334.7 1275.6L1335.2 1290.1L1335.8 1280.0L1336.4 1296.1L1337.0 1293.4L1337.5 1294.6L1338.1 1292.5L1338.7 1312.0L1339.3 1325.8L1339.8 1316.6L1340.4 1331.0L1341.0 1327.1L1341.6 1336.9L1342.1 1332.9L1342.7 1342.1L1343.3 1333.2L1343.9 1350.2L1344.4 1362.2L1345.0 1358.6L1345.6 1348.2L1346.2 1339.7L1346.7 1357.9L1347.3 1349.0L1347.9 1358.5L1348.5 1368.8L1349.0 1344.6L1349.6 1361.8L1350.2 1363.9L1350.8 1372.3L1351.3 1371.0L1351.9 1382.2L1352.5 1373.4L1353.1 1376.4L1353.6 1356.0L1354.2 1372.5L1354.8 1370.6L1355.4 1373.2L1355.9 1382.1L1356.5 1364.5L1357.1 1354.0L1357.7 1388.3L1358.2 1372.3L1358.8 1370.1L1359.4 1383.7L1360.0 1378.0L1360.5 1372.2L1361.1 1371.9L1361.7 1374.0L1362.3 1359.6L1362.8 1366.3L1363.4 1380.1L1364.0 1366.6L1364.6 1362.7L1365.1 1374.3L1365.7 1358.4L1366.3 1367.5L1366.9 1355.1L1367.4 1348.3L1368.0 1349.5L1368.6 1344.1L1369.2 1325.3L1369.7 1347.2L1370.3 1328.9L1370.9 1336.6L1371.5 1307.4L1372.0 1305.4L1372.6 1294.3L1373.2 1300.3L1373.8 1304.8L1374.3 1314.6L1374.9 1291.8L1375.5 1291.1L1376.1 1300.2L1376.6 1295.1L1377.2 1284.5L1377.8 1285.5L1378.4 1283.6L1378.9 1299.4L1379.5 1285.7L1380.1 1289.2L1380.7 1303.5L1381.2 1291.4L1381.8 1307.3L1382.4 1290.0L1383.0 1299.4L1383.5 1319.1L1384.1 1317.4L1384.7 1311.1L1385.3 1316.0L1385.8 1320.0L1386.4 1343.8L1387.0 1346.9L1387.5 1358.6L1388.1 1362.0L1388.7 1390.2L1389.3 1383.3L1389.8 1366.5L1390.4 1385.6L1391.0 1378.7L1391.6 1394.8L1392.1 1395.3L1392.7 1403.8L1393.3 1403.4L1393.9 1393.7L1394.4 1418.5L1395.0 1403.1L1395.6 1413.8L1396.2 1418.8L1396.7 1429.4L1397.3 1422.1L1397.9 1433.5L1398.5 1438.3L1399.0 1455.4L1399.6 1438.0L1400.2 1447.2L1400.8 1452.0L1401.3 1447.1L1401.9 1451.3L1402.5 1458.6L1403.1 1447.5L1403.6 1431.8L1404.2 1452.8L1404.8 1458.4L1405.4 1461.1L1405.9 1461.9L1406.5 1468.0L1407.1 1460.3L1407.7 1455.8L1408.2 1452.2L1408.8 1451.2L1409.4 1468.6L1410.0 1456.6L1410.5 1454.8L1411.1 1471.9L1411.7 1449.9L1412.3 1465.8L1412.8 1450.8L1413.4 1453.8L1414.0 1453.1L1414.6 1459.4L1415.1 1453.3L1415.7 1462.9L1416.3 1451.0L1416.9 1470.3L1417.4 1453.4L1418.0 1442.9L1418.6 1450.1L1419.2 1451.0L1419.7 1461.4L1420.3 1449.7L1420.9 1470.3L1421.5 1455.6L1422.0 1459.9L1422.6 1473.2L1423.2 1450.0L1423.8 1483.8L1424.3 1462.2L1424.9 1455.4L1425.5 1482.9L1426.1 1470.8L1426.6 1459.9L1427.2 1479.3L1427.8 1487.8L1428.4 1488.8L1428.9 1481.8L1429.5 1470.6L1430.1 1475.0L1430.7 1486.2L1431.2 1484.2L1431.8 1479.7L1432.4 1493.3L1433.0 1474.4L1433.5 1496.1L1434.1 1477.5L1434.7 1482.6L1435.3 1486.4L1435.8 1493.3L1436.4 1496.9L1437.0 1478.8L1437.6 1483.9L1438.1 1486.2L1438.7 1490.7L1439.3 1486.9L1439.9 1485.7L1440.4 1503.3L1441.0 1498.7L1441.6 1494.9L1442.2 1501.1L1442.7 1494.3L1443.3 1486.6L1443.9 1485.1L1444.5 1501.1L1445.0 1497.3L1445.6 1497.6L1446.2 1492.5L1446.8 1500.0L1447.3 1501.0L1447.9 1508.4L1448.5 1508.2L1449.1 1497.3L1449.6 1512.5L1450.2 1507.6L1450.8 1511.6L1451.4 1502.4L1451.9 1509.8L1452.5 1495.6L1453.1 1512.0L1453.7 1501.9L1454.2 1509.0L1454.8 1503.8L1455.4 1508.2L1456.0 1509.2L1456.5 1502.6L1457.1 1510.9L1457.7 1515.9L1458.3 1511.9L1458.8 1517.8L1459.4 1524.2L1460.0 1513.5L1460.6 1520.2L1461.1 1514.5L1461.7 1508.1L1462.3 1518.0L1462.9 1508.3L1463.4 1514.8L1464.0 1526.1L1464.6 1511.7L1465.2 1509.8L1465.7 1513.8L1466.3 1517.9L1466.9 1520.1L1467.5 1513.5L1468.0 1513.5L1468.6 1519.6L1469.2 1516.6L1469.8 1522.0L1470.3 1513.5L1470.9 1524.2L1471.5 1519.0L1472.1 1517.7L1472.6 1510.6L1473.2 1516.8L1473.8 1517.9L1474.4 1523.8L1474.9 1519.5L1475.5 1514.3L1476.1 1512.7L1476.7 1523.2L1477.2 1514.0L1477.8 1527.4L1478.4 1520.7L1479.0 1517.3L1479.5 1516.0L1480.1 1526.1L1480.7 1519.2L1481.3 1520.8L1481.8 1511.0L1482.4 1520.8L1483.0 1515.6L1483.6 1510.0L1484.1 1519.2L1484.7 1519.7L1485.3 1514.7L1485.9 1533.0L1486.4 1515.0L1487.0 1516.2L1487.6 1521.4L1488.2 1521.5L1488.7 1521.1L1489.3 1518.4L1489.9 1526.5L1490.5 1515.5L1491.0 1510.4L1491.6 1513.7L1492.2 1517.6L1492.8 1518.3L1493.3 1527.0L1493.9 1516.8L1494.5 1514.7L1495.1 1513.9L1495.6 1512.2L1496.2 1519.3L1496.8 1509.6L1497.4 1521.9L1497.9 1510.1L1498.5 1511.2L1499.1 1514.5L1499.7 1505.8L1500.2 1514.4L1500.8 1513.5L1501.4 1520.2L1502.0 1517.0L1502.5 1500.9L1503.1 1515.0L1503.7 1508.1L1504.3 1508.2L1504.8 1508.9L1505.4 1523.4L1506.0 1511.1L1506.6 1513.4L1507.1 1517.9L1507.7 1522.7L1508.3 1511.6L1508.8 1514.3L1509.4 1515.0L1510.0 1514.2L1510.6 1512.8L1511.1 1508.3L1511.7 1511.5L1512.3 1510.2L1512.9 1509.4L1513.4 1511.7L1514.0 1514.2L1514.6 1511.3L1515.2 1512.8L1515.7 1519.3L1516.3 1518.6L1516.9 1510.4L1517.5 1506.4L1518.0 1527.7L1518.6 1514.5L1519.2 1524.1L1519.8 1515.4L1520.3 1524.4L1520.9 1518.0L1521.5 1515.6L1522.1 1513.4L1522.6 1515.3L1523.2 1511.8L1523.8 1517.7L1524.4 1516.1L1524.9 1518.9L1525.5 1519.1L1526.1 1511.3L1526.7 1518.0L1527.2 1516.8L1527.8 1521.8L1528.4 1524.6L1529.0 1514.9L1529.5 1506.8L1530.1 1516.7L1530.7 1516.7L1531.3 1512.3L1531.8 1519.0L1532.4 1516.0L1533.0 1520.2L1533.6 1511.2L1534.1 1518.5L1534.7 1516.3L1535.3 1516.2L1535.9 1521.9L1536.4 1514.5L1537.0 1515.5L1537.6 1520.9L1538.2 1510.3L1538.7 1520.6L1539.3 1514.0L1539.9 1506.7L1540.5 1524.0L1541.0 1525.1L1541.6 1517.8L1542.2 1512.5L1542.8 1508.8L1543.3 1518.5L1543.9 1524.0L1544.5 1509.5L1545.1 1516.1L1545.6 1523.6L1546.2 1519.7L1546.8 1514.6L1547.4 1525.2L1547.9 1508.6L1548.5 1517.1L1549.1 1519.4L1549.7 1507.2L1550.2 1511.1L1550.8 1511.2L1551.4 1526.9L1552.0 1512.3L1552.5 1511.8L1553.1 1509.2L1553.7 1525.0L1554.3 1521.9L1554.8 1506.9L1555.4 1507.3L1556.0 1514.2L1556.6 1512.0L1557.1 1512.9L1557.7 1507.1L1558.3 1501.4L1558.9 1511.7L1559.4 1505.9L1560.0 1524.5L1560.6 1512.0L1561.2 1512.5L1561.7 1513.3L1562.3 1507.9L1562.9 1512.3L1563.5 1505.5L1564.0 1511.4L1564.6 1513.9L1565.2 1511.7L1565.8 1497.1L1566.3 1514.6L1566.9 1507.7L1567.5 1516.8L1568.1 1512.4L1568.6 1511.9L1569.2 1514.6L1569.8 1508.9L1570.4 1512.6L1570.9 1510.6L1571.5 1515.3L1572.1 1517.2L1572.7 1508.6L1573.2 1510.6L1573.8 1508.9L1574.4 1522.2L1575.0 1509.3L1575.5 1512.9L1576.1 1512.3L1576.7 1509.1L1577.3 1516.6L1577.8 1512.7L1578.4 1519.5L1579.0 1510.1L1579.6 1516.6L1580.1 1526.0L1580.7 1519.8L1581.3 1515.7L1581.9 1520.4L1582.4 1510.5L1583.0 1518.9L1583.6 1518.5L1584.2 1519.4L1584.7 1519.7L1585.3 1520.7L1585.9 1514.6L1586.5 1515.1L1587.0 1512.8L1587.6 1519.9L1588.2 1509.2L1588.8 1517.0L1589.3 1513.7L1589.9 1518.5L1590.5 1528.0L1591.1 1515.0L1591.6 1522.6L1592.2 1524.0L1592.8 1512.3L1593.4 1516.8L1593.9 1518.7L1594.5 1513.6L1595.1 1515.5L1595.7 1516.5L1596.2 1518.3L1596.8 1515.1L1597.4 1522.8L1598.0 1520.1L1598.5 1517.2L1599.1 1518.9L1599.7 1509.6L1600.3 1510.6L1600.8 1511.3L1601.4 1518.4L1602.0 1524.4L1602.6 1515.3L1603.1 1512.2L1603.7 1513.2L1604.3 1518.5L1604.9 1511.5L1605.4 1513.4L1606.0 1520.6L1606.6 1523.2L1607.2 1518.0L1607.7 1517.4L1608.3 1516.0L1608.9 1520.1L1609.5 1504.0L1610.0 1518.2L1610.6 1518.1L1611.2 1515.4L1611.8 1515.0L1612.3 1518.3L1612.9 1513.7L1613.5 1518.6L1614.1 1511.4L1614.6 1516.6L1615.2 1518.6L1615.8 1508.6L1616.4 1518.0L1616.9 1514.4L1617.5 1513.2L1618.1 1517.7L1618.7 1512.7L1619.2 1505.1L1619.8 1511.7L1620.4 1512.6L1621.0 1502.2L1621.5 1500.1L1622.1 1497.1L1622.7 1492.8L1623.3 1487.7L1623.8 1495.1L1624.4 1495.1L1625.0 1476.4L1625.6 1482.8L1626.1 1479.8L1626.7 1485.7L1627.3 1486.7L1627.8 1480.6L1628.4 1485.5L1629.0 1483.3L1629.6 1481.7L1630.1 1481.7L1630.7 1487.5L1631.3 1477.4L1631.9 1475.2L1632.4 1490.9L1633.0 1492.7L1633.6 1498.2L1634.2 1486.4L1634.7 1479.1L1635.3 1489.6L1635.9 1496.9L1636.5 1482.9L1637.0 1486.0L1637.6 1483.2L1638.2 1476.6L1638.8 1495.2L1639.3 1484.0L1639.9 1498.0L1640.5 1484.1L1641.1 1475.0L1641.6 1480.5L1642.2 1480.3L1642.8 1482.1L1643.4 1485.3L1643.9 1484.3L1644.5 1498.1L1645.1 1471.5L1645.7 1479.9L1646.2 1487.5L1646.8 1491.9L1647.4 1487.5L1648.0 1486.6L1648.5 1490.5L1649.1 1485.5L1649.7 1484.8L1650.3 1489.3L1650.8 1476.9L1651.4 1486.9L1652.0 1481.3L1652.6 1488.4L1653.1 1485.2L1653.7 1495.0L1654.3 1490.1L1654.9 1488.3L1655.4 1480.6L1656.0 1489.7L1656.6 1471.0L1657.2 1491.7L1657.7 1491.4L1658.3 1486.7L1658.9 1489.9L1659.5 1475.4L1660.0 1481.6L1660.6 1478.7L1661.2 1488.9L1661.8 1488.8L1662.3 1495.7L1662.9 1477.4L1663.5 1478.5L1664.1 1487.9L1664.6 1481.2L1665.2 1481.7L1665.8 1491.4L1666.4 1488.4L1666.9 1485.9L1667.5 1498.1L1668.1 1491.6L1668.7 1484.9L1669.2 1493.8L1669.8 1496.3L1670.4 1493.3L1671.0 1504.6L1671.5 1501.0L1672.1 1504.0L1672.7 1505.7L1673.3 1499.7L1673.8 1500.6L1674.4 1503.1L1675.0 1501.1L1675.6 1511.7L1676.1 1499.6L1676.7 1497.7L1677.3 1508.5L1677.9 1505.0L1678.4 1499.0L1679.0 1510.8L1679.6 1511.4L1680.2 1503.3L1680.7 1502.0L1681.3 1512.6L1681.9 1512.4L1682.5 1513.0L1683.0 1507.5L1683.6 1513.7L1684.2 1517.9L1684.8 1513.2L1685.3 1512.9L1685.9 1515.4L1686.5 1512.1L1687.1 1509.7L1687.6 1511.5L1688.2 1514.6L1688.8 1511.3L1689.4 1513.2L1689.9 1507.7L1690.5 1509.3L1691.1 1502.3L1691.7 1514.3L1692.2 1511.6L1692.8 1504.6L1693.4 1512.1L1694.0 1505.8L1694.5 1512.4L1695.1 1519.6L1695.7 1510.5L1696.3 1506.1L1696.8 1507.5L1697.4 1511.1L1698.0 1507.7L1698.6 1513.1L1699.1 1500.2L1699.7 1516.8L1700.3 1509.0L1700.9 1509.6L1701.4 1516.3L1702.0 1514.7L1702.6 1500.7L1703.2 1502.7L1703.7 1514.2L1704.3 1507.7L1704.9 1505.1L1705.5 1513.6L1706.0 1509.0L1706.6 1511.6L1707.2 1505.4L1707.8 1507.3L1708.3 1508.6L1708.9 1510.9L1709.5 1514.7L1710.1 1501.4L1710.6 1505.5L1711.2 1505.7L1711.8 1510.1L1712.4 1505.8L1712.9 1509.8L1713.5 1515.1L1714.1 1510.2L1714.7 1515.6L1715.2 1509.3L1715.8 1500.3L1716.4 1509.2L1717.0 1510.8L1717.5 1506.0L1718.1 1508.5L1718.7 1515.6L1719.3 1511.5L1719.8 1503.5L1720.4 1502.5L1721.0 1512.2L1721.6 1511.8L1722.1 1502.6L1722.7 1507.6L1723.3 1508.9L1723.9 1513.5L1724.4 1512.5L1725.0 1520.3L1725.6 1504.6L1726.2 1498.7L1726.7 1507.3L1727.3 1513.0L1727.9 1501.7L1728.5 1501.9L1729.0 1508.5L1729.6 1507.3L1730.2 1513.8L1730.8 1504.3L1731.3 1520.6L1731.9 1511.3L1732.5 1511.2L1733.1 1499.3L1733.6 1508.7L1734.2 1515.8L1734.8 1504.5L1735.4 1515.3L1735.9 1509.9L1736.5 1512.0L1737.1 1507.6L1737.7 1510.6L1738.2 1495.3L1738.8 1503.9L1739.4 1501.9L1740.0 1504.7L1740.5 1501.6L1741.1 1496.9L1741.7 1505.7L1742.3 1505.0L1742.8 1502.8L1743.4 1507.9L1744.0 1500.3L1744.6 1507.4L1745.1 1506.2L1745.7 1496.5L1746.3 1505.9L1746.8 1499.3L1747.4 1502.6L1748.0 1497.9L1748.6 1507.6L1749.1 1502.4L1749.7 1483.7L1750.3 1493.3L1750.9 1491.1L1751.4 1496.5L1752.0 1501.9L1752.6 1497.9L1753.2 1486.6L1753.7 1483.8L1754.3 1496.3L1754.9 1494.2L1755.5 1500.6L1756.0 1498.6L1756.6 1496.3L1757.2 1503.0L1757.8 1496.0L1758.3 1497.9L1758.9 1489.9L1759.5 1494.8L1760.1 1502.7L1760.6 1483.9L1761.2 1482.4L1761.8 1486.9L1762.4 1496.7L1762.9 1489.1L1763.5 1483.1L1764.1 1491.5L1764.7 1486.4L1765.2 1486.1L1765.8 1476.4L1766.4 1471.9L1767.0 1487.4L1767.5 1479.7L1768.1 1488.0L1768.7 1496.8L1769.3 1487.7L1769.8 1472.2L1770.4 1482.1L1771.0 1475.0L1771.6 1480.8L1772.1 1484.4L1772.7 1474.5L1773.3 1480.3L1773.9 1476.4L1774.4 1478.4L1775.0 1480.5L1775.6 1473.2L1776.2 1481.9L1776.7 1483.0L1777.3 1466.6L1777.9 1472.0L1778.5 1473.0L1779.0 1458.7L1779.6 1466.5L1780.2 1483.1L1780.8 1478.0L1781.3 1474.2L1781.9 1475.3L1782.5 1481.2L1783.1 1465.1L1783.6 1485.4L1784.2 1470.0L1784.8 1471.6L1785.4 1466.8L1785.9 1477.1L1786.5 1468.5L1787.1 1474.4L1787.7 1468.5L1788.2 1484.2L1788.8 1485.6L1789.4 1470.4L1790.0 1466.3L1790.5 1467.2L1791.1 1483.2L1791.7 1468.0L1792.3 1471.8L1792.8 1478.3L1793.4 1490.4L1794.0 1480.5L1794.6 1478.7L1795.1 1486.3L1795.7 1469.9L1796.3 1474.9L1796.9 1490.2L1797.4 1491.7L1798.0 1488.5L1798.6 1488.1L1799.2 1484.1L1799.7 1485.4L1800.3 1499.8L1800.9 1482.4L1801.5 1498.4L1802.0 1490.8L1802.6 1482.1L1803.2 1496.6L1803.8 1489.0L1804.3 1497.4L1804.9 1497.9L1805.5 1510.5L1806.1 1493.3L1806.6 1485.4L1807.2 1500.0L1807.8 1501.4L1808.4 1495.9L1808.9 1492.7L1809.5 1499.9L1810.1 1500.8L1810.7 1493.6L1811.2 1500.8L1811.8 1495.4L1812.4 1494.0L1813.0 1486.2L1813.5 1488.9L1814.1 1496.6L1814.7 1499.6L1815.3 1498.1L1815.8 1489.2L1816.4 1487.9L1817.0 1482.2L1817.6 1481.7L1818.1 1483.6L1818.7 1491.9L1819.3 1492.6L1819.9 1485.7L1820.4 1486.1L1821.0 1473.9L1821.6 1478.0L1822.2 1483.1L1822.7 1476.8L1823.3 1479.1L1823.9 1463.2L1824.5 1482.7L1825.0 1467.1L1825.6 1462.9L1826.2 1466.6L1826.8 1435.8L1827.3 1459.5L1827.9 1475.3L1828.5 1453.6L1829.1 1462.9L1829.6 1440.5L1830.2 1440.1L1830.8 1436.2L1831.4 1456.4L1831.9 1428.9L1832.5 1443.4L1833.1 1432.6L1833.7 1442.0L1834.2 1426.8L1834.8 1427.8L1835.4 1434.0L1836.0 1415.6L1836.5 1411.4L1837.1 1441.2L1837.7 1425.0L1838.3 1427.5L1838.8 1423.5L1839.4 1427.0L1840.0 1425.7L1840.6 1430.8L1841.1 1420.5L1841.7 1412.7L1842.3 1430.6L1842.9 1450.6L1843.4 1436.2L1844.0 1429.3L1844.6 1457.0L1845.2 1454.8L1845.7 1443.8L1846.3 1455.7L1846.9 1455.5L1847.5 1443.2L1848.0 1463.5L1848.6 1460.5L1849.2 1460.3L1849.8 1466.5L1850.3 1444.4L1850.9 1459.3L1851.5 1472.9L1852.1 1471.6L1852.6 1451.3L1853.2 1468.0L1853.8 1458.8L1854.4 1467.2L1854.9 1459.0L1855.5 1475.8L1856.1 1481.9L1856.7 1474.5L1857.2 1475.0L1857.8 1468.6L1858.4 1465.9L1859.0 1478.9L1859.5 1473.9L1860.1 1469.4L1860.7 1461.9L1861.3 1457.6L1861.8 1472.1L1862.4 1471.2L1863.0 1463.7L1863.6 1463.4L1864.1 1450.6L1864.7 1455.0L1865.3 1451.9L1865.9 1462.4L1866.4 1455.5L1867.0 1455.9L1867.6 1449.2L1868.1 1454.5L1868.7 1440.3L1869.3 1465.7L1869.9 1451.8L1870.4 1454.9L1871.0 1454.1L1871.6 1444.1L1872.2 1461.2L1872.7 1452.3L1873.3 1450.3L1873.9 1460.1L1874.5 1446.1L1875.0 1459.1L1875.6 1468.7L1876.2 1452.7L1876.8 1461.0L1877.3 1448.7L1877.9 1461.9L1878.5 1463.4L1879.1 1449.9L1879.6 1475.7L1880.2 1479.8L1880.8 1450.5L1881.4 1468.6L1881.9 1462.5L1882.5 1463.8L1883.1 1468.4L1883.7 1464.9L1884.2 1461.8L1884.8 1464.1L1885.4 1457.3L1886.0 1460.1L1886.5 1451.3L1887.1 1461.3L1887.7 1467.9L1888.3 1450.8L1888.8 1446.4L1889.4 1457.0L1890.0 1428.8L1890.6 1439.8L1891.1 1429.4L1891.7 1431.0L1892.3 1424.3L1892.9 1428.1L1893.4 1438.2L1894.0 1421.1L1894.6 1426.0L1895.2 1437.1L1895.7 1433.3L1896.3 1436.6L1896.9 1431.7L1897.5 1430.8L1898.0 1433.6L1898.6 1436.5L1899.2 1431.7L1899.8 1426.0L1900.3 1442.4L1900.9 1450.1L1901.5 1445.8L1902.1 1459.8L1902.6 1461.5L1903.2 1454.5L1903.8 1452.5L1904.4 1459.6L1904.9 1453.5L1905.5 1456.9L1906.1 1453.3L1906.7 1455.9L1907.2 1466.4L1907.8 1460.0L1908.4 1468.0L1909.0 1465.3L1909.5 1466.8L1910.1 1469.7L1910.7 1451.4L1911.3 1465.7L1911.8 1472.0L1912.4 1481.5L1913.0 1475.2L1913.6 1491.1L1914.1 1482.2L1914.7 1474.0L1915.3 1463.5L1915.9 1471.3L1916.4 1472.1L1917.0 1474.5L1917.6 1476.7L1918.2 1463.7L1918.7 1477.3L1919.3 1471.0L1919.9 1467.7L1920.5 1462.5L1921.0 1473.2L1921.6 1467.1L1922.2 1453.2L1922.8 1470.0L1923.3 1467.2L1923.9 1455.3L1924.5 1471.9L1925.1 1464.1L1925.6 1468.3L1926.2 1455.1L1926.8 1459.7L1927.4 1465.8L1927.9 1467.4L1928.5 1456.4L1929.1 1441.0L1929.7 1462.3L1930.2 1458.6L1930.8 1470.5L1931.4 1451.9L1932.0 1462.9L1932.5 1447.8L1933.1 1461.1L1933.7 1455.8L1934.3 1460.0L1934.8 1457.5L1935.4 1456.5L1936.0 1469.6L1936.6 1466.4L1937.1 1457.3L1937.7 1449.9L1938.3 1450.6L1938.9 1464.8L1939.4 1456.8L1940.0 1450.8L1940.6 1451.0L1941.2 1466.5L1941.7 1456.9L1942.3 1449.1L1942.9 1467.3L1943.5 1458.5L1944.0 1444.9L1944.6 1445.8L1945.2 1457.7L1945.8 1449.6L1946.3 1451.8L1946.9 1469.0L1947.5 1470.1L1948.1 1468.8L1948.6 1458.6L1949.2 1456.9L1949.8 1446.1L1950.4 1445.7L1950.9 1455.5L1951.5 1455.8L1952.1 1461.9L1952.7 1460.8L1953.2 1458.1L1953.8 1459.2L1954.4 1456.3L1955.0 1464.4L1955.5 1445.8L1956.1 1469.5L1956.7 1458.7L1957.3 1443.8L1957.8 1456.2L1958.4 1467.3L1959.0 1449.3L1959.6 1458.0L1960.1 1453.4L1960.7 1465.2L1961.3 1455.6L1961.9 1449.0L1962.4 1457.3L1963.0 1457.4L1963.6 1454.6L1964.2 1449.5L1964.7 1442.9L1965.3 1453.4L1965.9 1441.2L1966.5 1447.0L1967.0 1454.2L1967.6 1461.9L1968.2 1460.5L1968.8 1440.3L1969.3 1461.4L1969.9 1438.4L1970.5 1456.4L1971.1 1456.1L1971.6 1462.7L1972.2 1458.0L1972.8 1465.4L1973.4 1453.5L1973.9 1458.0L1974.5 1466.4L1975.1 1456.5L1975.7 1457.1L1976.2 1462.6L1976.8 1450.9L1977.4 1461.5L1978.0 1456.1L1978.5 1475.6L1979.1 1474.3L1979.7 1470.5L1980.3 1482.1L1980.8 1467.3L1981.4 1463.2L1982.0 1468.9L1982.6 1468.9L1983.1 1464.7L1983.7 1469.8L1984.3 1458.1L1984.9 1460.1L1985.4 1469.9L1986.0 1458.6L1986.6 1476.6L1987.1 1471.6L1987.7 1464.0L1988.3 1477.2L1988.9 1470.8L1989.4 1481.8L1990.0 1467.9L1990.6 1465.6L1991.2 1473.2L1991.7 1462.3L1992.3 1478.2L1992.9 1473.5L1993.5 1446.2L1994.0 1470.9L1994.6 1472.9L1995.2 1462.4L1995.8 1469.8L1996.3 1469.9L1996.9 1457.8L1997.5 1475.3L1998.1 1473.3L1998.6 1468.9L1999.2 1471.4L1999.8 1475.4L2000.4 1483.8L2000.9 1479.5L2001.5 1474.5L2002.1 1474.2L2002.7 1473.7L2003.2 1485.1L2003.8 1481.1L2004.4 1475.0L2005.0 1489.4L2005.5 1485.7L2006.1 1474.1L2006.7 1484.5L2007.3 1482.5L2007.8 1484.2L2008.4 1487.0L2009.0 1479.7L2009.6 1478.7L2010.1 1474.8L2010.7 1485.0L2011.3 1482.5L2011.9 1470.8L2012.4 1483.6L2013.0 1486.2L2013.6 1484.8L2014.2 1481.7L2014.7 1489.0L2015.3 1480.0L2015.9 1473.5L2016.5 1494.8L2017.0 1474.1L2017.6 1486.4L2018.2 1496.9L2018.8 1481.3L2019.3 1493.2L2019.9 1483.3L2020.5 1483.1L2021.1 1472.7L2021.6 1489.7L2022.2 1480.7L2022.8 1490.5L2023.4 1479.2L2023.9 1486.2L2024.5 1486.4L2025.1 1494.7L2025.7 1491.3L2026.2 1477.5L2026.8 1492.1L2027.4 1484.8L2028.0 1480.8L2028.5 1482.4L2029.1 1492.3L2029.7 1474.5L2030.3 1482.1L2030.8 1477.7L2031.4 1485.1L2032.0 1482.6L2032.6 1475.9L2033.1 1481.9L2033.7 1481.6L2034.3 1479.9L2034.9 1482.5L2035.4 1489.6L2036.0 1480.4L2036.6 1480.2L2037.2 1483.8L2037.7 1476.8L2038.3 1476.2L2038.9 1472.8L2039.5 1471.8L2040.0 1470.8L2040.6 1477.2L2041.2 1457.8L2041.8 1471.7L2042.3 1476.5L2042.9 1482.8L2043.5 1486.1L2044.1 1463.6L2044.6 1470.1L2045.2 1474.3L2045.8 1462.1L2046.4 1469.9L2046.9 1476.4L2047.5 1473.5L2048.1 1461.7L2048.7 1481.1L2049.2 1469.0L2049.8 1476.1L2050.4 1463.4L2051.0 1475.6L2051.5 1482.9L2052.1 1483.5L2052.7 1483.3L2053.3 1480.6L2053.8 1470.3L2054.4 1466.6L2055.0 1487.7L2055.6 1468.1L2056.1 1470.8L2056.7 1483.2L2057.3 1478.6L2057.9 1487.7L2058.4 1475.0L2059.0 1486.3L2059.6 1499.8L2060.2 1474.2L2060.7 1478.5L2061.3 1474.9L2061.9 1477.8L2062.5 1475.8L2063.0 1484.6L2063.6 1486.1L2064.2 1481.2L2064.8 1485.5L2065.3 1472.4L2065.9 1482.8L2066.5 1475.4L2067.1 1487.6L2067.6 1482.4L2068.2 1465.6L2068.8 1479.5L2069.4 1470.0L2069.9 1477.2L2070.5 1486.8L2071.1 1494.2L2071.7 1482.5L2072.2 1482.6L2072.8 1482.8L2073.4 1477.1L2074.0 1464.7L2074.5 1484.7L2075.1 1480.0L2075.7 1478.2L2076.3 1480.3L2076.8 1481.2L2077.4 1478.4L2078.0 1484.9L2078.6 1476.8L2079.1 1485.4L2079.7 1474.2L2080.3 1473.6L2080.9 1468.2L2081.4 1469.8L2082.0 1457.0L2082.6 1466.1L2083.2 1473.3L2083.7 1481.8L2084.3 1468.2L2084.9 1471.9L2085.5 1472.9L2086.0 1473.6L2086.6 1459.2L2087.2 1469.6L2087.8 1489.2L2088.3 1480.3L2088.9 1468.0L2089.5 1474.3L2090.1 1480.0L2090.6 1470.9L2091.2 1476.8L2091.8 1473.3L2092.4 1465.9L2092.9 1472.4L2093.5 1463.0L2094.1 1471.1L2094.7 1473.9L2095.2 1467.2L2095.8 1474.7L2096.4 1472.7L2097.0 1471.1L2097.5 1467.2L2098.1 1464.4L2098.7 1471.4L2099.3 1471.2L2099.8 1477.2L2100.4 1456.2L2101.0 1471.6L2101.6 1467.0L2102.1 1465.6L2102.7 1459.4L2103.3 1485.2L2103.9 1473.3L2104.4 1468.2L2105.0 1471.1L2105.6 1455.2L2106.1 1465.8L2106.7 1467.9L2107.3 1465.3L2107.9 1454.3L2108.4 1460.7L2109.0 1474.5L2109.6 1467.6L2110.2 1461.6L2110.7 1461.4L2111.3 1474.7L2111.9 1457.1L2112.5 1447.1L2113.0 1437.0L2113.6 1448.9L2114.2 1446.4L2114.8 1430.7L2115.3 1440.6L2115.9 1442.4L2116.5 1439.2L2117.1 1423.9L2117.6 1430.6L2118.2 1429.3L2118.8 1447.1L2119.4 1435.5L2119.9 1427.9L2120.5 1440.6L2121.1 1421.9L2121.7 1431.7L2122.2 1439.1L2122.8 1427.8L2123.4 1427.6L2124.0 1422.4L2124.5 1429.2L2125.1 1441.6L2125.7 1438.7L2126.3 1443.8L2126.8 1431.9L2127.4 1456.0L2128.0 1424.0L2128.6 1429.7L2129.1 1420.4L2129.7 1441.2L2130.3 1439.8L2130.9 1454.4L2131.4 1434.5L2132.0 1435.1L2132.6 1412.5L2133.2 1420.5L2133.7 1438.1L2134.3 1431.7L2134.9 1440.8L2135.5 1428.0L2136.0 1437.4L2136.6 1435.4L2137.2 1420.0L2137.8 1436.9L2138.3 1439.9L2138.9 1431.1L2139.5 1435.6L2140.1 1433.9L2140.6 1426.6L2141.2 1433.6L2141.8 1442.6L2142.4 1421.1L2142.9 1433.8L2143.5 1429.7L2144.1 1435.0L2144.7 1435.0L2145.2 1437.7L2145.8 1444.1L2146.4 1441.5L2147.0 1450.3L2147.5 1433.6L2148.1 1456.9L2148.7 1446.5L2149.3 1446.7L2149.8 1460.6L2150.4 1458.8L2151.0 1458.4L2151.6 1458.7L2152.1 1456.3L2152.7 1447.6L2153.3 1460.0L2153.9 1459.0L2154.4 1461.0L2155.0 1455.2L2155.6 1455.4L2156.2 1451.8L2156.7 1468.1L2157.3 1452.3L2157.9 1462.1L2158.5 1454.7L2159.0 1449.7L2159.6 1456.6L2160.2 1447.7L2160.8 1456.2L2161.3 1458.3L2161.9 1452.0L2162.5 1455.7L2163.1 1459.2L2163.6 1458.0L2164.2 1449.1L2164.8 1458.6L2165.4 1451.8L2165.9 1450.2L2166.5 1454.7L2167.1 1453.1L2167.7 1461.8L2168.2 1456.6L2168.8 1451.3L2169.4 1470.5L2170.0 1463.4L2170.5 1437.6L2171.1 1441.9L2171.7 1444.7L2172.3 1461.0L2172.8 1443.1L2173.4 1450.8L2174.0 1448.7L2174.6 1459.4L2175.1 1447.1L2175.7 1453.1L2176.3 1447.9L2176.9 1458.8L2177.4 1452.1L2178.0 1453.4L2178.6 1444.9L2179.2 1445.6L2179.7 1453.9L2180.3 1460.0L2180.9 1444.2L2181.5 1448.2L2182.0 1436.3L2182.6 1455.1L2183.2 1434.5L2183.8 1446.0L2184.3 1445.6L2184.9 1436.0L2185.5 1432.7L2186.1 1440.3L2186.6 1448.7L2187.2 1430.3L2187.8 1437.8L2188.4 1420.4L2188.9 1439.6L2189.5 1432.1L2190.1 1437.1L2190.7 1441.4L2191.2 1436.4L2191.8 1447.9L2192.4 1451.3L2193.0 1452.2L2193.5 1442.7L2194.1 1440.3L2194.7 1450.2L2195.3 1452.9L2195.8 1441.6L2196.4 1445.8L2197.0 1444.9L2197.6 1453.2L2198.1 1444.0L2198.7 1430.8L2199.3 1453.7L2199.9 1456.9L2200.4 1452.0L2201.0 1457.4L2201.6 1451.2L2202.2 1442.7L2202.7 1455.9L2203.3 1450.4L2203.9 1445.3L2204.5 1464.1L2205.0 1456.3L2205.6 1436.0L2206.2 1463.1L2206.8 1460.2L2207.3 1457.1L2207.9 1458.6L2208.5 1466.8L2209.1 1468.9L2209.6 1470.2L2210.2 1474.7L2210.8 1462.1L2211.4 1480.0L2211.9 1489.1L2212.5 1470.5L2213.1 1473.7L2213.7 1474.7L2214.2 1480.9L2214.8 1462.0L2215.4 1480.5L2216.0 1468.6L2216.5 1473.5L2217.1 1476.8L2217.7 1478.9L2218.3 1473.1L2218.8 1478.4L2219.4 1484.0L2220.0 1477.7L2220.6 1485.8L2221.1 1474.6L2221.7 1461.9L2222.3 1476.1L2222.9 1476.9L2223.4 1477.2L2224.0 1466.1L2224.6 1468.0L2225.2 1475.0L2225.7 1478.7L2226.3 1477.1L2226.9 1488.0L2227.4 1483.2L2228.0 1481.6L2228.6 1478.0L2229.2 1468.9L2229.7 1482.9L2230.3 1478.3L2230.9 1483.2L2231.5 1494.3L2232.0 1481.0L2232.6 1495.9L2233.2 1477.1L2233.8 1477.2L2234.3 1474.3L2234.9 1482.7L2235.5 1466.9L2236.1 1483.7L2236.6 1485.2L2237.2 1487.6L2237.8 1484.8L2238.4 1487.9L2238.9 1487.5L2239.5 1483.1L2240.1 1484.8L2240.7 1479.2L2241.2 1481.5L2241.8 1493.3L2242.4 1474.6L2243.0 1490.9L2243.5 1488.5L2244.1 1471.8L2244.7 1471.2L2245.3 1478.6L2245.8 1485.1L2246.4 1479.5L2247.0 1487.3L2247.6 1480.6L2248.1 1472.1L2248.7 1485.2L2249.3 1487.0L2249.9 1479.2L2250.4 1479.0L2251.0 1470.5L2251.6 1486.1L2252.2 1492.2L2252.7 1480.3L2253.3 1469.1L2253.9 1469.0L2254.5 1478.2L2255.0 1468.7L2255.6 1473.8L2256.2 1468.7L2256.8 1478.3L2257.3 1468.0L2257.9 1483.7L2258.5 1487.8L2259.1 1487.2L2259.6 1463.9L2260.2 1484.7L2260.8 1478.0L2261.4 1479.3L2261.9 1478.2L2262.5 1479.5L2263.1 1477.2L2263.7 1475.1L2264.2 1472.7L2264.8 1468.2L2265.4 1480.8L2266.0 1471.5L2266.5 1469.3L2267.1 1478.3L2267.7 1475.0L2268.3 1470.1L2268.8 1470.6L2269.4 1456.0L2270.0 1461.3L2270.6 1466.7L2271.1 1471.3L2271.7 1471.7L2272.3 1459.1L2272.9 1464.4L2273.4 1469.3L2274.0 1473.9L2274.6 1461.3L2275.2 1460.1L2275.7 1456.5L2276.3 1465.4L2276.9 1467.8L2277.5 1472.7L2278.0 1463.0L2278.6 1471.6L2279.2 1464.8L2279.8 1465.7L2280.3 1454.2L2280.9 1476.4L2281.5 1461.5L2282.1 1471.9L2282.6 1467.6L2283.2 1459.8L2283.8 1457.4L2284.4 1467.4L2284.9 1457.0L2285.5 1455.1L2286.1 1454.9L2286.7 1454.6L2287.2 1455.3L2287.8 1471.4L2288.4 1460.8L2289.0 1468.5L2289.5 1463.2L2290.1 1458.7L2290.7 1456.8L2291.3 1451.4L2291.8 1461.6L2292.4 1459.4L2293.0 1459.2L2293.6 1458.1L2294.1 1462.8L2294.7 1454.6L2295.3 1449.0L2295.9 1453.8L2296.4 1444.9L2297.0 1459.9L2297.6 1470.1L2298.2 1454.5L2298.7 1465.2L2299.3 1472.9L2299.9 1455.9L2300.5 1461.6L2301.0 1462.9L2301.6 1469.5L2302.2 1460.3L2302.8 1451.9L2303.3 1452.7L2303.9 1449.6L2304.5 1455.3L2305.1 1461.5L2305.6 1460.9L2306.2 1452.3L2306.8 1460.3L2307.4 1442.9L2307.9 1455.0L2308.5 1465.3L2309.1 1454.3L2309.7 1451.7L2310.2 1464.1L2310.8 1464.5L2311.4 1454.5L2312.0 1438.0L2312.5 1458.7L2313.1 1467.0L2313.7 1445.8L2314.3 1469.7L2314.8 1444.9L2315.4 1459.3L2316.0 1458.0L2316.6 1456.2L2317.1 1443.6L2317.7 1455.0L2318.3 1437.1L2318.9 1446.8L2319.4 1445.3L2320.0 1444.7L2320.6 1434.2L2321.2 1435.9L2321.7 1426.7L2322.3 1453.1L2322.9 1440.4L2323.5 1432.9L2324.0 1440.0L2324.6 1437.9L2325.2 1450.7L2325.8 1434.7L2326.3 1448.9L2326.9 1430.0L2327.5 1441.3L2328.1 1447.2L2328.6 1443.0L2329.2 1453.8L2329.8 1448.8L2330.4 1444.4L2330.9 1446.4L2331.5 1461.9L2332.1 1453.5L2332.7 1453.0L2333.2 1445.4L2333.8 1448.7L2334.4 1454.3L2335.0 1468.0L2335.5 1473.8L2336.1 1461.3L2336.7 1483.0L2337.3 1469.7L2337.8 1469.8L2338.4 1471.1L2339.0 1463.6L2339.6 1477.9L2340.1 1472.1L2340.7 1476.3L2341.3 1459.5L2341.9 1461.8L2342.4 1478.4L2343.0 1483.5L2343.6 1471.2L2344.2 1471.1L2344.7 1472.7L2345.3 1469.5"/>
<path stroke="#0000ff" stroke-width="4.6" d="M189.5 1126.0L190.1 1126.6L190.6 1126.4L191.2 1125.8L191.8 1125.3L192.4 1126.1L192.9 1125.5L193.5 1126.5L194.1 1125.1L194.7 1125.6L195.2 1126.5L195.8 1125.8L196.4 1126.1L197.0 1126.1L197.5 1125.6L198.1 1126.1L198.7 1125.4L199.3 1125.6L199.8 1126.7L200.4 1125.7L201.0 1125.9L201.6 1125.3L202.1 1126.3L202.7 1125.4L203.3 1125.4L203.9 1125.5L204.4 1125.3L205.0 1125.1L205.6 1125.6L206.2 1125.5L206.7 1125.7L207.3 1125.3L207.9 1125.3L208.5 1125.6L209.0 1125.7L209.6 1125.3L210.2 1125.7L210.8 1125.6L211.3 1126.2L211.9 1126.0L212.5 1125.9L213.1 1126.2L213.6 1125.4L214.2 1126.3L214.8 1125.8L215.4 1125.5L215.9 1125.9L216.5 1125.2L217.1 1126.5L217.7 1125.8L218.2 1125.0L218.8 1125.2L219.4 1125.5L220.0 1125.5L220.5 1125.9L221.1 1126.1L221.7 1126.1L222.3 1125.9L222.8 1125.3L223.4 1126.2L224.0 1126.2L224.6 1124.8L225.1 1125.4L225.7 1125.5L226.3 1125.3L226.9 1126.1L227.4 1125.9L228.0 1125.7L228.6 1125.1L229.2 1124.8L229.7 1125.3L230.3 1125.3L230.9 1125.3L231.5 1124.7L232.0 1125.0L232.6 1125.5L233.2 1125.8L233.8 1125.4L234.3 1125.5L234.9 1125.6L235.5 1125.6L236.1 1126.2L236.6 1125.3L237.2 1125.7L237.8 1125.1L238.4 1126.1L238.9 1125.9L239.5 1126.1L240.1 1125.7L240.7 1125.6L241.2 1125.1L241.8 1125.8L242.4 1126.2L243.0 1124.4L243.5 1126.4L244.1 1125.3L244.7 1125.8L245.3 1125.3L245.8 1125.5L246.4 1126.0L247.0 1125.5L247.6 1126.4L248.1 1125.6L248.7 1125.9L249.3 1125.3L249.9 1125.4L250.4 1125.4L251.0 1125.8L251.6 1126.3L252.2 1125.6L252.7 1125.0L253.3 1125.3L253.9 1125.0L254.5 1125.8L255.0 1125.6L255.6 1125.1L256.2 1125.4L256.8 1126.0L257.3 1125.8L257.9 1125.3L258.5 1125.9L259.1 1125.7L259.6 1125.3L260.2 1125.6L260.8 1126.4L261.4 1125.1L261.9 1126.0L262.5 1125.5L263.1 1125.8L263.7 1125.7L264.2 1125.7L264.8 1125.5L265.4 1125.5L266.0 1125.8L266.5 1125.7L267.1 1124.9L267.7 1125.7L268.3 1126.1L268.8 1125.9L269.4 1125.6L270.0 1124.7L270.6 1125.8L271.1 1125.8L271.7 1126.2L272.3 1125.1L272.9 1125.4L273.4 1125.3L274.0 1125.4L274.6 1124.7L275.2 1125.3L275.7 1125.3L276.3 1125.3L276.9 1126.2L277.5 1125.2L278.0 1125.3L278.6 1126.0L279.2 1125.2L279.8 1126.0L280.3 1125.6L280.9 1125.2L281.5 1125.1L282.1 1125.5L282.6 1125.3L283.2 1125.4L283.8 1125.1L284.4 1125.6L284.9 1125.1L285.5 1125.1L286.1 1125.2L286.7 1124.8L287.2 1125.1L287.8 1125.2L288.4 1124.6L289.0 1124.4L289.5 1125.6L290.1 1124.9L290.7 1124.8L291.3 1124.5L291.8 1125.3L292.4 1124.2L293.0 1123.2L293.6 1123.7L294.1 1122.6L294.7 1122.8L295.3 1122.4L295.9 1123.2L296.4 1123.3L297.0 1123.4L297.6 1124.6L298.2 1125.5L298.7 1124.3L299.3 1125.2L299.9 1125.0L300.5 1125.2L301.0 1124.5L301.6 1124.7L302.2 1125.8L302.8 1125.3L303.3 1125.0L303.9 1126.0L304.5 1125.8L305.1 1125.6L305.6 1124.9L306.2 1125.3L306.8 1126.0L307.4 1124.4L307.9 1124.6L308.5 1125.0L309.1 1125.8L309.6 1125.4L310.2 1125.6L310.8 1125.4L311.4 1125.4L311.9 1125.9L312.5 1126.9L313.1 1125.6L313.7 1125.9L314.2 1125.1L314.8 1126.1L315.4 1125.4L316.0 1125.4L316.5 1125.1L317.1 1125.0L317.7 1125.1L318.3 1124.9L318.8 1124.8L319.4 1126.1L320.0 1125.5L320.6 1125.8L321.1 1125.5L321.7 1124.7L322.3 1125.3L322.9 1124.9L323.4 1124.9L324.0 1125.2L324.6 1125.3L325.2 1125.3L325.7 1125.3L326.3 1125.1L326.9 1125.2L327.5 1125.7L328.0 1126.1L328.6 1125.6L329.2 1125.0L329.8 1125.2L330.3 1125.4L330.9 1125.4L331.5 1125.4L332.1 1125.3L332.6 1124.8L333.2 1124.4L333.8 1123.6L334.4 1124.5L334.9 1123.9L335.5 1122.8L336.1 1122.5L336.7 1121.6L337.2 1120.8L337.8 1121.2L338.4 1120.3L339.0 1122.0L339.5 1121.7L340.1 1122.2L340.7 1123.2L341.3 1124.7L341.8 1123.9L342.4 1124.5L343.0 1123.5L343.6 1124.9L344.1 1124.1L344.7 1124.8L345.3 1125.5L345.9 1124.8L346.4 1125.3L347.0 1124.9L347.6 1124.9L348.2 1125.2L348.7 1125.6L349.3 1125.2L349.9 1125.1L350.5 1124.7L351.0 1124.4L351.6 1125.2L352.2 1125.1L352.8 1125.3L353.3 1125.7L353.9 1125.6L354.5 1124.8L355.1 1125.3L355.6 1125.3L356.2 1125.1L356.8 1124.2L357.4 1124.9L357.9 1125.2L358.5 1125.6L359.1 1125.1L359.7 1124.6L360.2 1125.8L360.8 1125.2L361.4 1125.0L362.0 1125.5L362.5 1125.5L363.1 1125.2L363.7 1125.0L364.3 1125.0L364.8 1125.6L365.4 1125.2L366.0 1125.5L366.6 1124.4L367.1 1125.0L367.7 1125.1L368.3 1125.0L368.9 1124.3L369.4 1125.0L370.0 1125.9L370.6 1125.4L371.2 1125.0L371.7 1124.9L372.3 1124.6L372.9 1125.3L373.5 1124.9L374.0 1125.0L374.6 1125.6L375.2 1125.6L375.8 1125.5L376.3 1124.5L376.9 1125.0L377.5 1125.7L378.1 1124.7L378.6 1125.8L379.2 1125.2L379.8 1125.6L380.4 1125.0L380.9 1124.7L381.5 1124.7L382.1 1125.8L382.7 1125.0L383.2 1124.6L383.8 1125.6L384.4 1124.5L385.0 1125.1L385.5 1125.3L386.1 1125.3L386.7 1125.4L387.3 1125.1L387.8 1124.1L388.4 1125.3L389.0 1125.2L389.6 1125.1L390.1 1125.4L390.7 1125.5L391.3 1125.3L391.9 1125.8L392.4 1126.1L393.0 1125.3L393.6 1125.0L394.2 1124.6L394.7 1125.4L395.3 1124.4L395.9 1125.9L396.5 1125.6L397.0 1124.9L397.6 1125.5L398.2 1124.8L398.8 1124.6L399.3 1125.5L399.9 1124.7L400.5 1125.2L401.1 1125.1L401.6 1125.8L402.2 1125.3L402.8 1125.8L403.4 1125.5L403.9 1124.8L404.5 1124.6L405.1 1124.2L405.7 1125.1L406.2 1123.9L406.8 1124.7L407.4 1124.0L408.0 1124.8L408.5 1125.4L409.1 1124.7L409.7 1124.9L410.3 1124.9L410.8 1125.2L411.4 1124.4L412.0 1125.1L412.6 1125.1L413.1 1124.6L413.7 1124.6L414.3 1125.6L414.9 1125.4L415.4 1125.3L416.0 1124.7L416.6 1124.9L417.2 1124.5L417.7 1124.3L418.3 1124.9L418.9 1124.8L419.5 1124.5L420.0 1124.5L420.6 1125.2L421.2 1124.9L421.8 1124.3L422.3 1126.0L422.9 1124.3L423.5 1125.1L424.1 1124.6L424.6 1125.4L425.2 1125.1L425.8 1125.5L426.4 1125.0L426.9 1124.7L427.5 1125.7L428.1 1125.0L428.7 1124.9L429.2 1125.0L429.8 1124.7L430.4 1125.2L430.9 1125.8L431.5 1125.7L432.1 1125.2L432.7 1125.3L433.2 1125.4L433.8 1124.7L434.4 1125.7L435.0 1125.1L435.5 1124.2L436.1 1125.3L436.7 1124.6L437.3 1125.1L437.8 1125.3L438.4 1124.9L439.0 1125.1L439.6 1125.6L440.1 1124.4L440.7 1124.1L441.3 1124.9L441.9 1124.9L442.4 1125.9L443.0 1125.4L443.6 1125.2L444.2 1124.9L444.7 1124.1L445.3 1124.3L445.9 1124.8L446.5 1125.0L447.0 1124.7L447.6 1125.0L448.2 1125.2L448.8 1124.6L449.3 1124.7L449.9 1124.5L450.5 1125.4L451.1 1124.0L451.6 1125.1L452.2 1125.2L452.8 1123.9L453.4 1124.6L453.9 1125.3L454.5 1124.4L455.1 1124.5L455.7 1124.7L456.2 1125.2L456.8 1124.9L457.4 1124.2L458.0 1123.8L458.5 1123.6L459.1 1124.2L459.7 1122.8L460.3 1123.2L460.8 1123.4L461.4 1122.4L462.0 1122.8L462.6 1123.1L463.1 1123.8L463.7 1123.1L464.3 1124.0L464.9 1124.2L465.4 1124.4L466.0 1123.7L466.6 1124.8L467.2 1124.2L467.7 1124.6L468.3 1124.3L468.9 1125.6L469.5 1124.7L470.0 1125.7L470.6 1124.5L471.2 1124.6L471.8 1125.4L472.3 1124.6L472.9 1125.0L473.5 1125.3L474.1 1124.6L474.6 1124.5L475.2 1124.7L475.8 1125.2L476.4 1125.0L476.9 1125.4L477.5 1124.7L478.1 1124.6L478.7 1124.3L479.2 1124.6L479.8 1124.5L480.4 1124.7L481.0 1124.3L481.5 1124.4L482.1 1124.6L482.7 1125.2L483.3 1124.6L483.8 1124.5L484.4 1125.2L485.0 1125.3L485.6 1124.6L486.1 1124.6L486.7 1123.9L487.3 1124.0L487.9 1124.7L488.4 1125.3L489.0 1125.5L489.6 1125.0L490.2 1124.4L490.7 1124.9L491.3 1124.0L491.9 1124.6L492.5 1124.1L493.0 1124.6L493.6 1125.2L494.2 1125.5L494.8 1124.6L495.3 1124.7L495.9 1123.7L496.5 1124.2L497.1 1125.1L497.6 1124.9L498.2 1124.7L498.8 1124.5L499.4 1125.0L499.9 1124.1L500.5 1124.1L501.1 1125.4L501.7 1123.6L502.2 1124.1L502.8 1123.7L503.4 1124.4L504.0 1123.5L504.5 1123.3L505.1 1123.1L505.7 1123.4L506.3 1122.2L506.8 1121.7L507.4 1121.8L508.0 1121.0L508.6 1120.6L509.1 1119.0L509.7 1117.4L510.3 1115.7L510.9 1113.0L511.4 1110.0L512.0 1106.3L512.6 1103.2L513.2 1104.0L513.7 1106.3L514.3 1109.5L514.9 1113.1L515.5 1115.4L516.0 1118.1L516.6 1119.0L517.2 1120.9L517.8 1120.7L518.3 1120.7L518.9 1121.8L519.5 1123.9L520.1 1122.8L520.6 1123.1L521.2 1123.5L521.8 1123.3L522.4 1123.8L522.9 1123.8L523.5 1124.8L524.1 1124.5L524.7 1124.1L525.2 1124.4L525.8 1124.4L526.4 1123.7L527.0 1124.7L527.5 1123.9L528.1 1124.6L528.7 1124.4L529.3 1124.7L529.8 1125.0L530.4 1124.6L531.0 1124.1L531.6 1124.2L532.1 1124.6L532.7 1124.2L533.3 1124.2L533.9 1124.4L534.4 1124.3L535.0 1124.7L535.6 1124.2L536.2 1124.5L536.7 1124.1L537.3 1123.6L537.9 1124.8L538.5 1124.9L539.0 1124.2L539.6 1124.8L540.2 1124.5L540.8 1123.9L541.3 1124.9L541.9 1123.5L542.5 1124.3L543.1 1124.7L543.6 1123.8L544.2 1125.0L544.8 1124.0L545.4 1124.8L545.9 1124.2L546.5 1124.5L547.1 1124.1L547.7 1125.2L548.2 1124.2L548.8 1124.5L549.4 1124.2L549.9 1123.9L550.5 1123.6L551.1 1123.8L551.7 1123.9L552.2 1123.6L552.8 1123.2L553.4 1122.5L554.0 1122.4L554.5 1120.9L555.1 1120.4L555.7 1118.3L556.3 1117.3L556.8 1115.7L557.4 1113.2L558.0 1112.0L558.6 1112.9L559.1 1114.0L559.7 1116.2L560.3 1118.2L560.9 1119.5L561.4 1120.8L562.0 1121.5L562.6 1122.6L563.2 1121.9L563.7 1122.8L564.3 1123.7L564.9 1123.8L565.5 1123.6L566.0 1123.6L566.6 1124.2L567.2 1123.9L567.8 1123.5L568.3 1124.6L568.9 1124.0L569.5 1124.3L570.1 1123.5L570.6 1123.1L571.2 1124.5L571.8 1125.1L572.4 1123.3L572.9 1124.1L573.5 1124.6L574.1 1124.5L574.7 1124.4L575.2 1124.4L575.8 1124.0L576.4 1124.9L577.0 1124.9L577.5 1124.6L578.1 1123.4L578.7 1125.2L579.3 1124.5L579.8 1124.7L580.4 1125.4L581.0 1125.1L581.6 1124.5L582.1 1125.0L582.7 1124.8L583.3 1124.2L583.9 1124.6L584.4 1123.7L585.0 1123.8L585.6 1124.6L586.2 1125.2L586.7 1124.1L587.3 1125.1L587.9 1124.6L588.5 1125.3L589.0 1124.4L589.6 1125.9L590.2 1124.7L590.8 1124.4L591.3 1124.6L591.9 1123.7L592.5 1124.7L593.1 1124.4L593.6 1124.8L594.2 1124.4L594.8 1123.3L595.4 1123.3L595.9 1124.2L596.5 1123.9L597.1 1124.9L597.7 1124.0L598.2 1124.7L598.8 1124.4L599.4 1125.2L600.0 1124.6L600.5 1124.6L601.1 1124.1L601.7 1124.7L602.3 1124.8L602.8 1124.5L603.4 1124.8L604.0 1124.0L604.6 1124.4L605.1 1124.7L605.7 1124.4L606.3 1125.1L606.9 1124.8L607.4 1124.2L608.0 1124.1L608.6 1124.5L609.2 1124.2L609.7 1124.3L610.3 1124.0L610.9 1124.8L611.5 1124.6L612.0 1124.6L612.6 1124.9L613.2 1123.4L613.8 1124.5L614.3 1124.4L614.9 1124.8L615.5 1124.7L616.1 1124.7L616.6 1125.1L617.2 1123.6L617.8 1124.0L618.4 1125.0L618.9 1125.1L619.5 1124.1L620.1 1125.0L620.7 1124.8L621.2 1123.8L621.8 1124.2L622.4 1124.6L623.0 1124.4L623.5 1125.3L624.1 1124.7L624.7 1124.8L625.3 1124.1L625.8 1123.9L626.4 1124.2L627.0 1125.1L627.6 1125.3L628.1 1124.1L628.7 1124.4L629.3 1123.3L629.9 1125.0L630.4 1123.9L631.0 1124.8L631.6 1125.0L632.2 1123.8L632.7 1124.0L633.3 1124.7L633.9 1125.0L634.5 1124.2L635.0 1123.9L635.6 1124.6L636.2 1125.0L636.8 1123.9L637.3 1124.0L637.9 1124.9L638.5 1124.5L639.1 1124.0L639.6 1124.4L640.2 1124.6L640.8 1124.8L641.4 1124.5L641.9 1124.4L642.5 1123.6L643.1 1124.6L643.7 1124.6L644.2 1124.5L644.8 1124.4L645.4 1124.4L646.0 1124.8L646.5 1124.2L647.1 1123.8L647.7 1124.8L648.3 1124.2L648.8 1124.2L649.4 1124.5L650.0 1124.2L650.6 1124.3L651.1 1123.8L651.7 1124.9L652.3 1123.7L652.9 1124.9L653.4 1123.7L654.0 1124.0L654.6 1124.1L655.2 1124.7L655.7 1124.4L656.3 1124.1L656.9 1123.7L657.5 1124.7L658.0 1124.3L658.6 1124.5L659.2 1124.2L659.8 1124.1L660.3 1124.6L660.9 1124.4L661.5 1124.8L662.1 1124.4L662.6 1123.6L663.2 1124.6L663.8 1124.3L664.4 1124.2L664.9 1122.9L665.5 1123.9L666.1 1124.3L666.7 1124.0L667.2 1124.4L667.8 1124.5L668.4 1124.2L668.9 1123.8L669.5 1124.4L670.1 1124.4L670.7 1124.1L671.2 1123.4L671.8 1123.7L672.4 1124.6L673.0 1124.1L673.5 1123.4L674.1 1124.1L674.7 1124.2L675.3 1124.5L675.8 1124.4L676.4 1124.4L677.0 1123.8L677.6 1123.4L678.1 1123.9L678.7 1124.8L679.3 1123.5L679.9 1124.6L680.4 1123.5L681.0 1123.6L681.6 1124.2L682.2 1123.8L682.7 1124.0L683.3 1123.6L683.9 1124.2L684.5 1124.5L685.0 1123.4L685.6 1124.3L686.2 1124.3L686.8 1124.4L687.3 1123.1L687.9 1124.5L688.5 1123.6L689.1 1124.0L689.6 1123.9L690.2 1123.6L690.8 1123.7L691.4 1123.7L691.9 1124.1L692.5 1124.3L693.1 1123.9L693.7 1124.3L694.2 1124.1L694.8 1124.5L695.4 1123.4L696.0 1124.0L696.5 1123.9L697.1 1124.0L697.7 1124.1L698.3 1124.3L698.8 1123.9L699.4 1124.1L700.0 1123.7L700.6 1123.7L701.1 1123.5L701.7 1124.2L702.3 1124.0L702.9 1124.2L703.4 1123.4L704.0 1123.4L704.6 1124.6L705.2 1123.8L705.7 1122.6L706.3 1123.4L706.9 1123.0L707.5 1122.4L708.0 1122.0L708.6 1121.3L709.2 1120.7L709.8 1119.7L710.3 1118.6L710.9 1118.1L711.5 1117.5L712.1 1118.6L712.6 1119.6L713.2 1120.0L713.8 1120.7L714.4 1121.9L714.9 1122.0L715.5 1123.4L716.1 1121.6L716.7 1121.9L717.2 1122.6L717.8 1123.4L718.4 1123.6L719.0 1123.1L719.5 1123.4L720.1 1123.3L720.7 1123.7L721.3 1124.4L721.8 1122.5L722.4 1124.6L723.0 1124.0L723.6 1123.4L724.1 1123.8L724.7 1123.6L725.3 1123.8L725.9 1123.8L726.4 1123.9L727.0 1123.1L727.6 1123.9L728.2 1123.3L728.7 1123.5L729.3 1123.9L729.9 1123.4L730.5 1123.7L731.0 1123.7L731.6 1123.6L732.2 1123.0L732.8 1123.8L733.3 1123.6L733.9 1124.5L734.5 1123.0L735.1 1124.0L735.6 1123.3L736.2 1123.3L736.8 1124.2L737.4 1123.4L737.9 1123.8L738.5 1123.5L739.1 1123.0L739.7 1123.3L740.2 1123.2L740.8 1123.2L741.4 1124.2L742.0 1123.5L742.5 1122.5L743.1 1124.1L743.7 1123.4L744.3 1123.6L744.8 1123.9L745.4 1122.8L746.0 1123.3L746.6 1123.0L747.1 1122.9L747.7 1122.9L748.3 1123.0L748.9 1123.5L749.4 1123.3L750.0 1123.0L750.6 1123.4L751.2 1121.7L751.7 1122.8L752.3 1122.8L752.9 1122.8L753.5 1123.2L754.0 1122.6L754.6 1123.1L755.2 1122.3L755.8 1122.6L756.3 1122.3L756.9 1122.0L757.5 1122.3L758.1 1122.2L758.6 1121.4L759.2 1122.1L759.8 1121.4L760.4 1121.4L760.9 1120.0L761.5 1121.0L762.1 1120.0L762.7 1121.0L763.2 1120.0L763.8 1119.9L764.4 1119.7L765.0 1118.8L765.5 1119.0L766.1 1117.9L766.7 1117.8L767.3 1117.7L767.8 1117.1L768.4 1116.2L769.0 1114.3L769.6 1112.6L770.1 1111.5L770.7 1109.8L771.3 1105.8L771.9 1102.9L772.4 1097.1L773.0 1089.0L773.6 1080.7L774.2 1069.1L774.7 1052.9L775.3 1035.5L775.9 1020.0L776.5 1012.7L777.0 1018.7L777.6 1034.4L778.2 1052.2L778.8 1067.4L779.3 1079.9L779.9 1090.0L780.5 1097.2L781.1 1100.8L781.6 1104.9L782.2 1108.1L782.8 1110.2L783.4 1110.8L783.9 1114.5L784.5 1114.5L785.1 1115.2L785.7 1114.8L786.2 1116.3L786.8 1116.1L787.4 1117.2L788.0 1117.3L788.5 1117.4L789.1 1117.7L789.7 1117.4L790.2 1117.7L790.8 1116.6L791.4 1117.9L792.0 1117.4L792.5 1118.5L793.1 1117.3L793.7 1115.9L794.3 1117.4L794.8 1116.0L795.4 1115.4L796.0 1115.4L796.6 1115.4L797.1 1115.0L797.7 1113.2L798.3 1112.4L798.9 1111.3L799.4 1109.4L800.0 1107.7L800.6 1105.6L801.2 1102.7L801.7 1099.5L802.3 1093.1L802.9 1087.5L803.5 1078.5L804.0 1067.0L804.6 1050.7L805.2 1032.2L805.8 1013.4L806.3 999.5L806.9 997.4L807.5 1006.9L808.1 1021.7L808.6 1035.7L809.2 1047.1L809.8 1055.2L810.4 1061.3L810.9 1066.3L811.5 1072.5L812.1 1077.7L812.7 1082.9L813.2 1087.5L813.8 1092.8L814.4 1096.3L815.0 1099.6L815.5 1102.3L816.1 1104.3L816.7 1106.5L817.3 1107.1L817.8 1108.2L818.4 1109.3L819.0 1109.7L819.6 1110.5L820.1 1110.9L820.7 1111.2L821.3 1111.0L821.9 1110.3L822.4 1110.1L823.0 1109.6L823.6 1109.7L824.2 1108.4L824.7 1107.3L825.3 1106.2L825.9 1105.8L826.5 1103.6L827.0 1101.0L827.6 1100.4L828.2 1097.6L828.8 1094.6L829.3 1090.9L829.9 1085.9L830.5 1079.8L831.1 1071.9L831.6 1061.3L832.2 1047.2L832.8 1028.9L833.4 1005.1L833.9 971.6L834.5 926.8L835.1 870.6L835.7 808.6L836.2 753.9L836.8 731.5L837.4 753.9L838.0 808.0L838.5 870.7L839.1 927.3L839.7 972.4L840.3 1006.2L840.8 1030.3L841.4 1049.0L842.0 1062.4L842.6 1072.7L843.1 1080.7L843.7 1087.1L844.3 1091.1L844.9 1096.4L845.4 1098.8L846.0 1101.1L846.6 1104.9L847.2 1105.4L847.7 1107.5L848.3 1108.6L848.9 1110.7L849.5 1110.0L850.0 1112.3L850.6 1112.3L851.2 1114.5L851.8 1115.4L852.3 1115.4L852.9 1115.2L853.5 1116.5L854.1 1117.4L854.6 1116.9L855.2 1116.9L855.8 1118.0L856.4 1117.1L856.9 1117.8L857.5 1118.1L858.1 1118.4L858.7 1119.0L859.2 1118.6L859.8 1118.3L860.4 1118.2L861.0 1118.9L861.5 1119.2L862.1 1119.5L862.7 1119.4L863.3 1118.5L863.8 1119.4L864.4 1118.8L865.0 1119.6L865.6 1118.8L866.1 1118.7L866.7 1118.4L867.3 1118.9L867.9 1118.2L868.4 1119.2L869.0 1118.1L869.6 1116.5L870.2 1116.4L870.7 1116.1L871.3 1115.0L871.9 1113.8L872.5 1112.2L873.0 1109.6L873.6 1107.6L874.2 1106.4L874.8 1103.3L875.3 1101.4L875.9 1100.1L876.5 1098.4L877.1 1098.9L877.6 1101.6L878.2 1103.3L878.8 1105.7L879.4 1108.6L879.9 1110.0L880.5 1111.8L881.1 1113.3L881.7 1113.6L882.2 1116.0L882.8 1116.1L883.4 1116.1L884.0 1117.2L884.5 1116.5L885.1 1116.7L885.7 1116.4L886.3 1116.6L886.8 1116.0L887.4 1115.9L888.0 1114.7L888.6 1113.9L889.1 1112.3L889.7 1109.9L890.3 1106.6L890.9 1102.3L891.4 1096.8L892.0 1091.2L892.6 1088.8L893.2 1088.0L893.7 1092.3L894.3 1097.4L894.9 1102.5L895.5 1106.9L896.0 1110.4L896.6 1112.2L897.2 1114.6L897.8 1116.3L898.3 1117.1L898.9 1118.0L899.5 1117.9L900.1 1118.4L900.6 1119.6L901.2 1119.3L901.8 1119.4L902.4 1119.8L902.9 1119.1L903.5 1119.5L904.1 1119.7L904.7 1119.5L905.2 1120.2L905.8 1119.6L906.4 1119.7L907.0 1118.8L907.5 1118.9L908.1 1118.7L908.7 1118.7L909.2 1118.3L909.8 1117.7L910.4 1117.4L911.0 1117.5L911.5 1115.9L912.1 1114.7L912.7 1114.4L913.3 1113.2L913.8 1110.8L914.4 1108.9L915.0 1104.6L915.6 1101.7L916.1 1096.0L916.7 1089.7L917.3 1078.9L917.9 1066.9L918.4 1050.6L919.0 1035.0L919.6 1024.4L920.2 1024.1L920.7 1034.9L921.3 1051.1L921.9 1065.3L922.5 1078.8L923.0 1089.1L923.6 1096.1L924.2 1101.7L924.8 1105.6L925.3 1108.6L925.9 1109.8L926.5 1113.0L927.1 1113.9L927.6 1114.5L928.2 1115.5L928.8 1116.3L929.4 1117.2L929.9 1116.9L930.5 1117.2L931.1 1117.5L931.7 1118.7L932.2 1118.1L932.8 1118.7L933.4 1118.2L934.0 1118.7L934.5 1118.5L935.1 1118.4L935.7 1119.1L936.3 1118.5L936.8 1117.8L937.4 1119.0L938.0 1117.2L938.6 1116.6L939.1 1115.8L939.7 1116.5L940.3 1114.8L940.9 1113.5L941.4 1112.1L942.0 1109.2L942.6 1106.1L943.2 1102.0L943.7 1095.4L944.3 1088.1L944.9 1079.4L945.5 1072.1L946.0 1069.6L946.6 1072.1L947.2 1079.1L947.8 1086.3L948.3 1094.1L948.9 1099.9L949.5 1104.4L950.1 1107.6L950.6 1109.6L951.2 1110.8L951.8 1111.8L952.4 1112.1L952.9 1112.3L953.5 1110.7L954.1 1111.1L954.7 1110.4L955.2 1108.5L955.8 1105.9L956.4 1103.6L957.0 1101.9L957.5 1100.8L958.1 1099.3L958.7 1098.5L959.3 1099.2L959.8 1102.8L960.4 1106.2L961.0 1106.9L961.6 1109.6L962.1 1111.9L962.7 1113.7L963.3 1115.3L963.9 1115.4L964.4 1117.1L965.0 1117.5L965.6 1118.8L966.2 1119.2L966.7 1119.9L967.3 1119.3L967.9 1119.6L968.5 1120.1L969.0 1120.4L969.6 1120.5L970.2 1120.4L970.8 1120.9L971.3 1120.6L971.9 1121.9L972.5 1121.3L973.1 1121.1L973.6 1121.8L974.2 1121.1L974.8 1122.0L975.4 1121.8L975.9 1122.7L976.5 1122.3L977.1 1121.7L977.7 1122.5L978.2 1122.2L978.8 1122.5L979.4 1120.8L980.0 1122.0L980.5 1122.0L981.1 1122.8L981.7 1121.8L982.3 1122.4L982.8 1122.2L983.4 1121.6L984.0 1122.0L984.6 1122.5L985.1 1122.1L985.7 1122.1L986.3 1122.1L986.9 1122.1L987.4 1122.2L988.0 1121.9L988.6 1121.2L989.2 1121.6L989.7 1121.6L990.3 1122.0L990.9 1120.5L991.5 1121.3L992.0 1119.7L992.6 1119.9L993.2 1117.2L993.8 1116.7L994.3 1114.1L994.9 1112.8L995.5 1112.2L996.1 1112.6L996.6 1113.2L997.2 1115.3L997.8 1116.4L998.4 1118.9L998.9 1118.9L999.5 1120.9L1000.1 1121.4L1000.7 1120.6L1001.2 1121.5L1001.8 1121.3L1002.4 1122.4L1003.0 1122.0L1003.5 1122.8L1004.1 1121.9L1004.7 1122.0L1005.3 1121.8L1005.8 1122.2L1006.4 1122.4L1007.0 1122.2L1007.6 1122.3L1008.1 1122.5L1008.7 1122.2L1009.3 1121.9L1009.9 1121.7L1010.4 1121.8L1011.0 1121.8L1011.6 1122.4L1012.2 1122.2L1012.7 1121.4L1013.3 1121.8L1013.9 1120.9L1014.5 1121.4L1015.0 1120.0L1015.6 1120.7L1016.2 1119.6L1016.8 1119.0L1017.3 1117.7L1017.9 1115.8L1018.5 1114.4L1019.1 1111.9L1019.6 1109.5L1020.2 1107.1L1020.8 1106.3L1021.4 1107.0L1021.9 1108.7L1022.5 1112.3L1023.1 1113.8L1023.7 1116.0L1024.2 1117.8L1024.8 1118.5L1025.4 1119.5L1026.0 1120.7L1026.5 1120.5L1027.1 1120.7L1027.7 1120.7L1028.2 1122.8L1028.8 1121.5L1029.4 1121.8L1030.0 1121.9L1030.5 1122.5L1031.1 1121.8L1031.7 1121.7L1032.3 1122.0L1032.8 1121.8L1033.4 1121.6L1034.0 1121.4L1034.6 1122.2L1035.1 1122.0L1035.7 1122.7L1036.3 1121.8L1036.9 1121.8L1037.4 1122.4L1038.0 1121.0L1038.6 1121.9L1039.2 1121.0L1039.7 1120.5L1040.3 1120.8L1040.9 1120.1L1041.5 1118.8L1042.0 1118.3L1042.6 1117.5L1043.2 1115.6L1043.8 1113.6L1044.3 1112.1L1044.9 1112.4L1045.5 1113.8L1046.1 1115.1L1046.6 1117.1L1047.2 1118.7L1047.8 1118.7L1048.4 1120.2L1048.9 1121.0L1049.5 1121.1L1050.1 1121.2L1050.7 1122.4L1051.2 1121.9L1051.8 1122.1L1052.4 1122.0L1053.0 1122.2L1053.5 1122.3L1054.1 1122.4L1054.7 1121.9L1055.3 1121.9L1055.8 1122.3L1056.4 1122.5L1057.0 1122.4L1057.6 1123.0L1058.1 1122.7L1058.7 1123.1L1059.3 1122.9L1059.9 1121.8L1060.4 1123.0L1061.0 1123.5L1061.6 1122.9L1062.2 1122.8L1062.7 1122.3L1063.3 1123.0L1063.9 1122.4L1064.5 1122.1L1065.0 1123.0L1065.6 1123.3L1066.2 1122.8L1066.8 1122.8L1067.3 1122.6L1067.9 1123.6L1068.5 1123.1L1069.1 1122.7L1069.6 1122.8L1070.2 1123.0L1070.8 1123.4L1071.4 1122.7L1071.9 1122.5L1072.5 1123.0L1073.1 1122.8L1073.7 1122.2L1074.2 1122.8L1074.8 1122.7L1075.4 1122.7L1076.0 1122.9L1076.5 1123.0L1077.1 1123.6L1077.7 1123.1L1078.3 1123.2L1078.8 1122.6L1079.4 1122.8L1080.0 1122.5L1080.6 1122.4L1081.1 1123.1L1081.7 1123.7L1082.3 1123.0L1082.9 1122.8L1083.4 1122.8L1084.0 1122.9L1084.6 1122.4L1085.2 1122.3L1085.7 1122.5L1086.3 1122.8L1086.9 1121.9L1087.5 1120.8L1088.0 1121.5L1088.6 1120.7L1089.2 1119.6L1089.8 1119.0L1090.3 1117.5L1090.9 1118.6L1091.5 1119.2L1092.1 1120.2L1092.6 1120.5L1093.2 1120.6L1093.8 1121.2L1094.4 1121.7L1094.9 1122.2L1095.5 1122.2L1096.1 1122.5L1096.7 1121.4L1097.2 1122.4L1097.8 1122.4L1098.4 1121.9L1099.0 1122.4L1099.5 1122.1L1100.1 1121.8L1100.7 1121.7L1101.3 1122.5L1101.8 1122.5L1102.4 1122.7L1103.0 1122.5L1103.6 1122.3L1104.1 1121.5L1104.7 1121.8L1105.3 1121.6L1105.9 1122.4L1106.4 1120.9L1107.0 1120.5L1107.6 1120.3L1108.2 1120.7L1108.7 1119.3L1109.3 1119.1L1109.9 1117.4L1110.5 1116.5L1111.0 1113.4L1111.6 1111.5L1112.2 1109.5L1112.8 1107.5L1113.3 1107.2L1113.9 1109.9L1114.5 1111.0L1115.1 1113.7L1115.6 1116.5L1116.2 1118.3L1116.8 1118.7L1117.4 1119.0L1117.9 1119.6L1118.5 1120.3L1119.1 1121.0L1119.7 1121.9L1120.2 1121.9L1120.8 1122.1L1121.4 1121.6L1122.0 1122.2L1122.5 1122.3L1123.1 1122.4L1123.7 1122.1L1124.3 1121.9L1124.8 1122.7L1125.4 1122.9L1126.0 1122.1L1126.6 1122.3L1127.1 1122.7L1127.7 1122.8L1128.3 1122.9L1128.9 1122.1L1129.4 1122.6L1130.0 1121.4L1130.6 1120.8L1131.2 1121.3L1131.7 1121.4L1132.3 1120.2L1132.9 1120.3L1133.5 1119.8L1134.0 1118.9L1134.6 1118.2L1135.2 1118.0L1135.8 1117.4L1136.3 1117.9L1136.9 1119.1L1137.5 1120.2L1138.1 1120.2L1138.6 1121.5L1139.2 1121.7L1139.8 1121.4L1140.4 1121.8L1140.9 1121.6L1141.5 1122.4L1142.1 1122.2L1142.7 1123.2L1143.2 1121.2L1143.8 1121.8L1144.4 1122.2L1145.0 1122.7L1145.5 1122.3L1146.1 1122.2L1146.7 1122.7L1147.3 1122.3L1147.8 1122.7L1148.4 1123.0L1149.0 1123.0L1149.5 1121.9L1150.1 1122.3L1150.7 1122.8L1151.3 1122.5L1151.8 1122.3L1152.4 1122.9L1153.0 1122.6L1153.6 1122.8L1154.1 1123.0L1154.7 1122.4L1155.3 1123.1L1155.9 1122.7L1156.4 1122.7L1157.0 1123.0L1157.6 1121.9L1158.2 1121.9L1158.7 1122.1L1159.3 1123.0L1159.9 1122.6L1160.5 1122.3L1161.0 1122.1L1161.6 1121.8L1162.2 1122.7L1162.8 1122.5L1163.3 1122.7L1163.9 1122.9L1164.5 1122.6L1165.1 1123.1L1165.6 1122.3L1166.2 1123.2L1166.8 1122.7L1167.4 1122.2L1167.9 1122.5L1168.5 1123.4L1169.1 1121.9L1169.7 1122.2L1170.2 1122.2L1170.8 1122.5L1171.4 1122.4L1172.0 1123.2L1172.5 1122.2L1173.1 1122.6L1173.7 1122.1L1174.3 1121.8L1174.8 1122.2L1175.4 1122.1L1176.0 1122.5L1176.6 1122.8L1177.1 1121.9L1177.7 1122.6L1178.3 1121.6L1178.9 1122.8L1179.4 1121.4L1180.0 1121.7L1180.6 1122.0L1181.2 1121.7L1181.7 1121.3L1182.3 1122.0L1182.9 1121.2L1183.5 1122.0L1184.0 1120.9L1184.6 1121.9L1185.2 1121.7L1185.8 1121.4L1186.3 1121.5L1186.9 1120.8L1187.5 1120.7L1188.1 1121.1L1188.6 1119.9L1189.2 1120.0L1189.8 1119.7L1190.4 1119.3L1190.9 1118.9L1191.5 1117.4L1192.1 1117.9L1192.7 1117.2L1193.2 1116.6L1193.8 1115.2L1194.4 1112.9L1195.0 1111.0L1195.5 1108.0L1196.1 1104.9L1196.7 1100.6L1197.3 1096.6L1197.8 1091.5L1198.4 1087.7L1199.0 1085.8L1199.6 1087.4L1200.1 1091.5L1200.7 1095.7L1201.3 1101.0L1201.9 1105.3L1202.4 1108.0L1203.0 1111.0L1203.6 1112.7L1204.2 1115.4L1204.7 1116.1L1205.3 1117.3L1205.9 1117.5L1206.5 1117.9L1207.0 1118.7L1207.6 1119.7L1208.2 1120.2L1208.8 1120.1L1209.3 1120.0L1209.9 1120.3L1210.5 1120.8L1211.1 1120.0L1211.6 1121.0L1212.2 1120.3L1212.8 1120.9L1213.4 1121.2L1213.9 1121.0L1214.5 1121.0L1215.1 1121.6L1215.7 1120.9L1216.2 1120.9L1216.8 1120.7L1217.4 1121.2L1218.0 1121.4L1218.5 1121.1L1219.1 1120.3L1219.7 1121.3L1220.3 1121.3L1220.8 1120.7L1221.4 1120.9L1222.0 1121.0L1222.6 1120.6L1223.1 1120.9L1223.7 1120.8L1224.3 1120.2L1224.9 1119.4L1225.4 1120.0L1226.0 1120.9L1226.6 1120.7L1227.2 1119.8L1227.7 1119.3L1228.3 1120.2L1228.9 1119.6L1229.5 1119.5L1230.0 1119.4L1230.6 1118.4L1231.2 1117.8L1231.8 1116.9L1232.3 1116.8L1232.9 1115.7L1233.5 1115.9L1234.1 1114.7L1234.6 1114.9L1235.2 1113.6L1235.8 1113.5L1236.4 1112.8L1236.9 1113.5L1237.5 1112.9L1238.1 1114.2L1238.7 1114.4L1239.2 1113.9L1239.8 1114.7L1240.4 1116.1L1241.0 1116.5L1241.5 1117.9L1242.1 1117.1L1242.7 1117.9L1243.3 1118.3L1243.8 1118.8L1244.4 1119.7L1245.0 1119.1L1245.6 1118.7L1246.1 1120.3L1246.7 1119.9L1247.3 1119.2L1247.9 1119.6L1248.4 1119.9L1249.0 1120.1L1249.6 1120.5L1250.2 1120.0L1250.7 1119.9L1251.3 1119.7L1251.9 1120.0L1252.5 1120.1L1253.0 1120.2L1253.6 1119.0L1254.2 1119.4L1254.8 1119.9L1255.3 1120.2L1255.9 1119.6L1256.5 1117.9L1257.1 1117.7L1257.6 1118.4L1258.2 1117.7L1258.8 1117.2L1259.4 1117.6L1259.9 1116.0L1260.5 1116.8L1261.1 1116.4L1261.7 1116.4L1262.2 1116.2L1262.8 1117.0L1263.4 1118.6L1264.0 1118.3L1264.5 1118.9L1265.1 1119.1L1265.7 1119.0L1266.3 1119.5L1266.8 1119.4L1267.4 1119.3L1268.0 1119.2L1268.5 1119.1L1269.1 1119.5L1269.7 1119.3L1270.3 1119.9L1270.8 1119.2L1271.4 1118.9L1272.0 1118.4L1272.6 1119.5L1273.1 1120.1L1273.7 1118.9L1274.3 1117.9L1274.9 1119.1L1275.4 1118.3L1276.0 1118.7L1276.6 1118.4L1277.2 1118.4L1277.7 1118.0L1278.3 1117.6L1278.9 1118.0L1279.5 1117.1L1280.0 1117.5L1280.6 1116.4L1281.2 1116.4L1281.8 1115.7L1282.3 1116.0L1282.9 1114.9L1283.5 1114.4L1284.1 1114.6L1284.6 1113.8L1285.2 1112.9L1285.8 1111.8L1286.4 1111.4L1286.9 1110.6L1287.5 1109.6L1288.1 1107.8L1288.7 1106.9L1289.2 1104.1L1289.8 1103.0L1290.4 1100.2L1291.0 1098.1L1291.5 1094.1L1292.1 1091.1L1292.7 1084.8L1293.3 1078.0L1293.8 1068.0L1294.4 1056.8L1295.0 1042.5L1295.6 1021.8L1296.1 996.8L1296.7 964.1L1297.3 928.4L1297.9 892.7L1298.4 870.0L1299.0 868.8L1299.6 889.4L1300.2 920.9L1300.7 953.9L1301.3 983.3L1301.9 1005.4L1302.5 1022.0L1303.0 1033.2L1303.6 1043.2L1304.2 1050.4L1304.8 1057.2L1305.3 1064.3L1305.9 1071.5L1306.5 1077.2L1307.1 1082.4L1307.6 1086.8L1308.2 1090.3L1308.8 1093.9L1309.4 1095.7L1309.9 1096.7L1310.5 1097.9L1311.1 1099.0L1311.7 1099.3L1312.2 1099.4L1312.8 1097.0L1313.4 1096.8L1314.0 1094.2L1314.5 1089.4L1315.1 1084.3L1315.7 1075.4L1316.3 1065.0L1316.8 1051.9L1317.4 1039.6L1318.0 1030.6L1318.6 1030.8L1319.1 1039.1L1319.7 1053.3L1320.3 1066.2L1320.9 1078.0L1321.4 1086.8L1322.0 1093.6L1322.6 1097.6L1323.2 1101.2L1323.7 1103.6L1324.3 1105.0L1324.9 1107.6L1325.5 1108.1L1326.0 1109.3L1326.6 1109.5L1327.2 1108.8L1327.8 1109.2L1328.3 1109.7L1328.9 1109.5L1329.5 1109.0L1330.1 1107.9L1330.6 1107.3L1331.2 1105.1L1331.8 1103.7L1332.4 1100.8L1332.9 1098.5L1333.5 1093.7L1334.1 1087.7L1334.7 1078.8L1335.2 1066.5L1335.8 1052.5L1336.4 1035.2L1337.0 1017.2L1337.5 1005.5L1338.1 1005.7L1338.7 1017.1L1339.3 1035.8L1339.8 1052.5L1340.4 1068.4L1341.0 1078.6L1341.6 1088.3L1342.1 1093.4L1342.7 1099.3L1343.3 1103.2L1343.9 1105.0L1344.4 1107.4L1345.0 1109.2L1345.6 1108.7L1346.2 1110.0L1346.7 1111.7L1347.3 1111.8L1347.9 1112.6L1348.5 1114.4L1349.0 1114.3L1349.6 1113.9L1350.2 1113.4L1350.8 1114.0L1351.3 1113.8L1351.9 1113.3L1352.5 1113.8L1353.1 1111.6L1353.6 1112.4L1354.2 1110.3L1354.8 1109.6L1355.4 1106.9L1355.9 1104.2L1356.5 1101.7L1357.1 1100.3L1357.7 1100.2L1358.2 1102.8L1358.8 1104.3L1359.4 1105.6L1360.0 1106.7L1360.5 1108.4L1361.1 1109.3L1361.7 1108.6L1362.3 1109.4L1362.8 1109.7L1363.4 1108.5L1364.0 1107.3L1364.6 1107.5L1365.1 1106.8L1365.7 1104.7L1366.3 1103.2L1366.9 1101.7L1367.4 1098.9L1368.0 1095.4L1368.6 1091.8L1369.2 1087.1L1369.7 1081.0L1370.3 1073.6L1370.9 1062.1L1371.5 1048.9L1372.0 1030.5L1372.6 1006.3L1373.2 978.7L1373.8 945.4L1374.3 912.8L1374.9 891.5L1375.5 891.5L1376.1 910.3L1376.6 938.7L1377.2 968.7L1377.8 995.1L1378.4 1014.8L1378.9 1030.3L1379.5 1042.8L1380.1 1051.5L1380.7 1061.0L1381.2 1068.3L1381.8 1075.8L1382.4 1080.6L1383.0 1087.6L1383.5 1091.6L1384.1 1095.8L1384.7 1098.4L1385.3 1101.1L1385.8 1104.4L1386.4 1106.0L1387.0 1107.7L1387.5 1109.1L1388.1 1110.2L1388.7 1110.2L1389.3 1111.7L1389.8 1112.4L1390.4 1114.2L1391.0 1114.5L1391.6 1113.9L1392.1 1114.1L1392.7 1115.5L1393.3 1115.8L1393.9 1116.5L1394.4 1115.7L1395.0 1117.2L1395.6 1116.8L1396.2 1117.5L1396.7 1117.2L1397.3 1117.0L1397.9 1117.0L1398.5 1118.1L1399.0 1116.1L1399.6 1118.2L1400.2 1118.1L1400.8 1117.5L1401.3 1118.2L1401.9 1117.8L1402.5 1117.2L1403.1 1117.6L1403.6 1117.9L1404.2 1117.5L1404.8 1117.0L1405.4 1117.5L1405.9 1117.2L1406.5 1117.0L1407.1 1116.0L1407.7 1115.9L1408.2 1113.9L1408.8 1112.8L1409.4 1110.5L1410.0 1108.7L1410.5 1105.5L1411.1 1101.4L1411.7 1096.3L1412.3 1093.4L1412.8 1090.5L1413.4 1092.5L1414.0 1095.6L1414.6 1102.0L1415.1 1106.0L1415.7 1108.7L1416.3 1111.4L1416.9 1112.5L1417.4 1113.9L1418.0 1114.9L1418.6 1116.2L1419.2 1116.3L1419.7 1116.9L1420.3 1116.6L1420.9 1116.6L1421.5 1117.5L1422.0 1117.5L1422.6 1117.5L1423.2 1116.8L1423.8 1117.0L1424.3 1115.7L1424.9 1115.4L1425.5 1115.2L1426.1 1113.5L1426.6 1111.8L1427.2 1109.7L1427.8 1108.0L1428.4 1103.4L1428.9 1099.7L1429.5 1095.9L1430.1 1095.6L1430.7 1096.0L1431.2 1100.2L1431.8 1104.3L1432.4 1107.8L1433.0 1110.6L1433.5 1112.1L1434.1 1114.8L1434.7 1116.8L1435.3 1117.0L1435.8 1118.4L1436.4 1118.3L1437.0 1118.8L1437.6 1118.5L1438.1 1118.9L1438.7 1119.5L1439.3 1119.9L1439.9 1119.1L1440.4 1119.1L1441.0 1119.8L1441.6 1119.9L1442.2 1120.3L1442.7 1120.9L1443.3 1119.9L1443.9 1121.1L1444.5 1120.6L1445.0 1120.4L1445.6 1119.6L1446.2 1121.1L1446.8 1121.3L1447.3 1120.7L1447.9 1120.8L1448.5 1120.4L1449.1 1119.7L1449.6 1120.3L1450.2 1120.0L1450.8 1120.0L1451.4 1120.3L1451.9 1120.4L1452.5 1121.0L1453.1 1121.3L1453.7 1120.6L1454.2 1121.1L1454.8 1120.6L1455.4 1120.6L1456.0 1120.9L1456.5 1120.5L1457.1 1120.9L1457.7 1120.6L1458.3 1120.4L1458.8 1120.5L1459.4 1121.5L1460.0 1120.9L1460.6 1120.6L1461.1 1120.9L1461.7 1120.5L1462.3 1120.6L1462.9 1120.6L1463.4 1120.0L1464.0 1120.7L1464.6 1121.0L1465.2 1120.9L1465.7 1120.7L1466.3 1121.3L1466.9 1120.4L1467.5 1121.3L1468.0 1121.2L1468.6 1120.9L1469.2 1121.5L1469.8 1120.4L1470.3 1120.9L1470.9 1120.7L1471.5 1120.4L1472.1 1120.6L1472.6 1120.9L1473.2 1120.9L1473.8 1121.0L1474.4 1120.4L1474.9 1120.6L1475.5 1120.6L1476.1 1120.4L1476.7 1120.6L1477.2 1119.7L1477.8 1120.1L1478.4 1120.4L1479.0 1120.4L1479.5 1120.8L1480.1 1120.3L1480.7 1121.3L1481.3 1119.8L1481.8 1121.3L1482.4 1120.0L1483.0 1119.8L1483.6 1120.0L1484.1 1120.0L1484.7 1120.1L1485.3 1120.0L1485.9 1120.3L1486.4 1120.4L1487.0 1119.5L1487.6 1120.5L1488.2 1119.9L1488.7 1119.7L1489.3 1120.0L1489.9 1119.5L1490.5 1120.0L1491.0 1118.7L1491.6 1119.6L1492.2 1118.6L1492.8 1119.0L1493.3 1118.2L1493.9 1118.8L1494.5 1117.9L1495.1 1117.6L1495.6 1116.4L1496.2 1115.6L1496.8 1115.8L1497.4 1115.7L1497.9 1114.4L1498.5 1112.9L1499.1 1113.5L1499.7 1111.8L1500.2 1111.8L1500.8 1110.7L1501.4 1110.6L1502.0 1111.2L1502.5 1110.1L1503.1 1111.2L1503.7 1111.9L1504.3 1112.3L1504.8 1112.0L1505.4 1113.5L1506.0 1113.0L1506.6 1113.0L1507.1 1112.1L1507.7 1112.7L1508.3 1112.8L1508.8 1112.6L1509.4 1112.3L1510.0 1111.8L1510.6 1111.7L1511.1 1112.1L1511.7 1112.5L1512.3 1112.3L1512.9 1112.6L1513.4 1113.1L1514.0 1112.9L1514.6 1113.2L1515.2 1113.0L1515.7 1112.3L1516.3 1113.1L1516.9 1112.4L1517.5 1111.4L1518.0 1111.1L1518.6 1111.1L1519.2 1111.1L1519.8 1111.2L1520.3 1112.2L1520.9 1112.6L1521.5 1113.0L1522.1 1114.8L1522.6 1114.7L1523.2 1115.6L1523.8 1115.5L1524.4 1116.1L1524.9 1116.6L1525.5 1117.9L1526.1 1118.2L1526.7 1118.0L1527.2 1118.3L1527.8 1118.8L1528.4 1118.4L1529.0 1118.9L1529.5 1119.5L1530.1 1118.8L1530.7 1119.6L1531.3 1119.4L1531.8 1119.6L1532.4 1119.5L1533.0 1120.0L1533.6 1120.1L1534.1 1120.0L1534.7 1119.1L1535.3 1119.9L1535.9 1120.4L1536.4 1119.4L1537.0 1119.2L1537.6 1119.8L1538.2 1120.3L1538.7 1119.4L1539.3 1120.1L1539.9 1119.8L1540.5 1119.9L1541.0 1120.1L1541.6 1119.8L1542.2 1119.6L1542.8 1119.9L1543.3 1120.4L1543.9 1120.0L1544.5 1119.9L1545.1 1119.1L1545.6 1119.2L1546.2 1118.7L1546.8 1119.5L1547.4 1119.3L1547.9 1118.8L1548.5 1118.6L1549.1 1117.7L1549.7 1117.2L1550.2 1117.3L1550.8 1115.9L1551.4 1115.8L1552.0 1115.3L1552.5 1113.3L1553.1 1112.9L1553.7 1113.8L1554.3 1113.7L1554.8 1114.5L1555.4 1115.3L1556.0 1115.2L1556.6 1117.0L1557.1 1117.5L1557.7 1117.9L1558.3 1118.1L1558.9 1118.2L1559.4 1118.3L1560.0 1118.3L1560.6 1118.8L1561.2 1119.0L1561.7 1119.6L1562.3 1119.3L1562.9 1119.0L1563.5 1119.9L1564.0 1119.0L1564.6 1119.8L1565.2 1120.3L1565.8 1119.4L1566.3 1119.5L1566.9 1120.1L1567.5 1120.7L1568.1 1120.1L1568.6 1120.0L1569.2 1120.3L1569.8 1119.4L1570.4 1119.5L1570.9 1120.5L1571.5 1120.6L1572.1 1120.5L1572.7 1120.3L1573.2 1120.4L1573.8 1119.4L1574.4 1119.7L1575.0 1119.9L1575.5 1120.5L1576.1 1120.1L1576.7 1120.0L1577.3 1119.4L1577.8 1119.9L1578.4 1119.9L1579.0 1119.9L1579.6 1119.5L1580.1 1120.3L1580.7 1118.6L1581.3 1119.3L1581.9 1118.0L1582.4 1117.6L1583.0 1118.1L1583.6 1117.2L1584.2 1116.6L1584.7 1116.7L1585.3 1117.7L1585.9 1116.4L1586.5 1116.8L1587.0 1117.9L1587.6 1117.5L1588.2 1119.3L1588.8 1118.0L1589.3 1118.8L1589.9 1119.6L1590.5 1119.3L1591.1 1119.3L1591.6 1119.0L1592.2 1119.7L1592.8 1120.3L1593.4 1119.8L1593.9 1119.6L1594.5 1120.7L1595.1 1120.5L1595.7 1120.4L1596.2 1120.1L1596.8 1119.8L1597.4 1120.7L1598.0 1120.3L1598.5 1120.1L1599.1 1120.2L1599.7 1120.5L1600.3 1120.7L1600.8 1120.3L1601.4 1120.1L1602.0 1119.8L1602.6 1120.2L1603.1 1120.2L1603.7 1120.5L1604.3 1120.3L1604.9 1120.1L1605.4 1120.3L1606.0 1120.6L1606.6 1120.3L1607.2 1120.2L1607.7 1120.2L1608.3 1120.1L1608.9 1120.4L1609.5 1120.6L1610.0 1120.1L1610.6 1120.2L1611.2 1120.4L1611.8 1120.6L1612.3 1120.9L1612.9 1119.6L1613.5 1120.6L1614.1 1120.0L1614.6 1120.5L1615.2 1120.6L1615.8 1121.0L1616.4 1119.9L1616.9 1120.6L1617.5 1119.0L1618.1 1120.1L1618.7 1119.0L1619.2 1119.7L1619.8 1119.5L1620.4 1119.3L1621.0 1119.9L1621.5 1119.4L1622.1 1119.3L1622.7 1119.4L1623.3 1119.4L1623.8 1119.8L1624.4 1119.3L1625.0 1119.0L1625.6 1118.6L1626.1 1119.5L1626.7 1119.2L1627.3 1119.2L1627.8 1118.4L1628.4 1119.0L1629.0 1118.5L1629.6 1118.9L1630.1 1117.3L1630.7 1117.3L1631.3 1117.1L1631.9 1115.5L1632.4 1114.8L1633.0 1113.6L1633.6 1112.7L1634.2 1112.3L1634.7 1111.3L1635.3 1110.5L1635.9 1112.3L1636.5 1111.4L1637.0 1113.1L1637.6 1113.5L1638.2 1114.6L1638.8 1115.3L1639.3 1116.0L1639.9 1116.4L1640.5 1117.2L1641.1 1116.4L1641.6 1116.3L1642.2 1116.2L1642.8 1116.0L1643.4 1117.0L1643.9 1115.9L1644.5 1115.7L1645.1 1116.1L1645.7 1115.4L1646.2 1114.9L1646.8 1112.8L1647.4 1112.3L1648.0 1110.7L1648.5 1109.5L1649.1 1107.1L1649.7 1104.5L1650.3 1101.6L1650.8 1099.4L1651.4 1095.2L1652.0 1094.8L1652.6 1095.9L1653.1 1097.9L1653.7 1100.8L1654.3 1104.8L1654.9 1107.7L1655.4 1110.0L1656.0 1111.3L1656.6 1112.2L1657.2 1113.9L1657.7 1115.9L1658.3 1116.6L1658.9 1116.2L1659.5 1117.2L1660.0 1118.1L1660.6 1118.4L1661.2 1117.7L1661.8 1118.2L1662.3 1118.5L1662.9 1118.2L1663.5 1119.6L1664.1 1118.1L1664.6 1119.2L1665.2 1119.6L1665.8 1119.4L1666.4 1119.6L1666.9 1118.4L1667.5 1119.4L1668.1 1119.6L1668.7 1119.6L1669.2 1119.0L1669.8 1119.5L1670.4 1119.3L1671.0 1120.3L1671.5 1119.4L1672.1 1119.7L1672.7 1119.7L1673.3 1119.7L1673.8 1120.5L1674.4 1120.4L1675.0 1120.0L1675.6 1119.7L1676.1 1119.6L1676.7 1119.0L1677.3 1119.9L1677.9 1120.0L1678.4 1119.8L1679.0 1119.5L1679.6 1120.4L1680.2 1120.2L1680.7 1120.0L1681.3 1120.6L1681.9 1120.0L1682.5 1120.7L1683.0 1119.8L1683.6 1120.0L1684.2 1119.6L1684.8 1120.3L1685.3 1119.7L1685.9 1120.1L1686.5 1120.0L1687.1 1119.6L1687.6 1120.9L1688.2 1120.4L1688.8 1119.8L1689.4 1120.3L1689.9 1120.0L1690.5 1119.7L1691.1 1120.7L1691.7 1120.2L1692.2 1120.1L1692.8 1120.1L1693.4 1120.1L1694.0 1120.2L1694.5 1119.9L1695.1 1119.9L1695.7 1119.8L1696.3 1119.1L1696.8 1119.7L1697.4 1120.3L1698.0 1120.4L1698.6 1119.8L1699.1 1119.3L1699.7 1120.1L1700.3 1119.2L1700.9 1119.1L1701.4 1118.9L1702.0 1118.6L1702.6 1120.3L1703.2 1119.4L1703.7 1118.1L1704.3 1118.9L1704.9 1118.4L1705.5 1119.5L1706.0 1118.7L1706.6 1118.6L1707.2 1119.0L1707.8 1119.3L1708.3 1118.1L1708.9 1118.2L1709.5 1117.5L1710.1 1118.0L1710.6 1117.4L1711.2 1116.9L1711.8 1116.0L1712.4 1116.5L1712.9 1115.0L1713.5 1115.0L1714.1 1114.4L1714.7 1112.8L1715.2 1112.8L1715.8 1112.9L1716.4 1112.4L1717.0 1113.2L1717.5 1113.9L1718.1 1113.6L1718.7 1114.8L1719.3 1115.7L1719.8 1115.9L1720.4 1116.3L1721.0 1116.3L1721.6 1117.2L1722.1 1117.5L1722.7 1117.6L1723.3 1118.4L1723.9 1117.8L1724.4 1117.7L1725.0 1118.7L1725.6 1118.2L1726.2 1118.3L1726.7 1118.2L1727.3 1117.3L1727.9 1116.9L1728.5 1117.8L1729.0 1115.9L1729.6 1116.2L1730.2 1116.9L1730.8 1115.7L1731.3 1116.2L1731.9 1115.5L1732.5 1117.1L1733.1 1116.3L1733.6 1117.0L1734.2 1116.3L1734.8 1117.6L1735.4 1117.8L1735.9 1117.6L1736.5 1118.3L1737.1 1118.1L1737.7 1118.5L1738.2 1118.3L1738.8 1118.4L1739.4 1118.1L1740.0 1119.0L1740.5 1118.7L1741.1 1118.5L1741.7 1119.6L1742.3 1118.9L1742.8 1118.9L1743.4 1118.6L1744.0 1119.4L1744.6 1119.0L1745.1 1118.6L1745.7 1118.8L1746.3 1119.2L1746.8 1118.9L1747.4 1119.4L1748.0 1119.3L1748.6 1119.8L1749.1 1118.5L1749.7 1118.7L1750.3 1118.5L1750.9 1118.5L1751.4 1118.5L1752.0 1118.2L1752.6 1118.7L1753.2 1117.6L1753.7 1118.1L1754.3 1118.2L1754.9 1118.1L1755.5 1117.4L1756.0 1117.3L1756.6 1116.9L1757.2 1116.7L1757.8 1115.9L1758.3 1115.7L1758.9 1115.2L1759.5 1114.7L1760.1 1112.6L1760.6 1111.9L1761.2 1110.4L1761.8 1109.2L1762.4 1107.7L1762.9 1107.3L1763.5 1107.5L1764.1 1107.7L1764.7 1108.4L1765.2 1110.3L1765.8 1110.9L1766.4 1111.7L1767.0 1112.7L1767.5 1113.2L1768.1 1113.5L1768.7 1114.4L1769.3 1114.2L1769.8 1113.8L1770.4 1114.8L1771.0 1114.0L1771.6 1113.1L1772.1 1113.3L1772.7 1112.3L1773.3 1111.8L1773.9 1110.0L1774.4 1108.7L1775.0 1106.1L1775.6 1103.6L1776.2 1100.9L1776.7 1096.6L1777.3 1093.0L1777.9 1087.5L1778.5 1084.4L1779.0 1082.4L1779.6 1085.0L1780.2 1087.9L1780.8 1091.8L1781.3 1097.2L1781.9 1100.9L1782.5 1105.5L1783.1 1107.7L1783.6 1109.1L1784.2 1111.4L1784.8 1112.6L1785.4 1113.3L1785.9 1114.1L1786.5 1114.8L1787.1 1115.0L1787.7 1116.1L1788.2 1116.1L1788.8 1116.6L1789.4 1116.7L1790.0 1116.8L1790.5 1118.1L1791.1 1117.6L1791.7 1117.9L1792.3 1118.9L1792.8 1117.8L1793.4 1117.6L1794.0 1117.3L1794.6 1117.5L1795.1 1118.4L1795.7 1117.6L1796.3 1117.3L1796.9 1118.3L1797.4 1118.3L1798.0 1119.1L1798.6 1117.8L1799.2 1118.9L1799.7 1117.4L1800.3 1119.0L1800.9 1118.6L1801.5 1118.0L1802.0 1119.0L1802.6 1118.5L1803.2 1118.7L1803.8 1118.5L1804.3 1119.0L1804.9 1118.7L1805.5 1118.0L1806.1 1118.0L1806.6 1118.0L1807.2 1118.7L1807.8 1118.6L1808.4 1118.4L1808.9 1118.2L1809.5 1118.0L1810.1 1118.3L1810.7 1118.5L1811.2 1118.4L1811.8 1118.7L1812.4 1118.7L1813.0 1117.7L1813.5 1118.9L1814.1 1118.3L1814.7 1117.7L1815.3 1117.6L1815.8 1117.5L1816.4 1116.9L1817.0 1116.7L1817.6 1116.8L1818.1 1116.4L1818.7 1115.0L1819.3 1116.3L1819.9 1114.9L1820.4 1115.5L1821.0 1114.8L1821.6 1114.3L1822.2 1114.4L1822.7 1113.1L1823.3 1112.5L1823.9 1112.4L1824.5 1111.8L1825.0 1110.7L1825.6 1110.0L1826.2 1109.5L1826.8 1109.5L1827.3 1109.1L1827.9 1109.1L1828.5 1108.6L1829.1 1108.4L1829.6 1109.3L1830.2 1110.4L1830.8 1110.3L1831.4 1109.4L1831.9 1110.4L1832.5 1110.1L1833.1 1110.2L1833.7 1109.9L1834.2 1109.3L1834.8 1108.4L1835.4 1108.3L1836.0 1106.3L1836.5 1104.5L1837.1 1101.9L1837.7 1098.6L1838.3 1093.9L1838.8 1088.9L1839.4 1083.7L1840.0 1080.7L1840.6 1080.6L1841.1 1083.9L1841.7 1088.0L1842.3 1092.0L1842.9 1096.1L1843.4 1098.6L1844.0 1099.0L1844.6 1098.9L1845.2 1097.2L1845.7 1098.0L1846.3 1097.4L1846.9 1099.6L1847.5 1101.2L1848.0 1103.9L1848.6 1107.8L1849.2 1109.4L1849.8 1111.5L1850.3 1112.3L1850.9 1114.0L1851.5 1114.2L1852.1 1114.8L1852.6 1115.6L1853.2 1115.5L1853.8 1115.8L1854.4 1116.8L1854.9 1116.4L1855.5 1116.7L1856.1 1116.9L1856.7 1116.8L1857.2 1117.1L1857.8 1117.7L1858.4 1117.4L1859.0 1116.3L1859.5 1115.9L1860.1 1116.5L1860.7 1115.8L1861.3 1115.6L1861.8 1116.2L1862.4 1116.1L1863.0 1116.4L1863.6 1116.2L1864.1 1116.6L1864.7 1114.9L1865.3 1114.4L1865.9 1114.0L1866.4 1113.4L1867.0 1111.7L1867.6 1110.0L1868.1 1107.8L1868.7 1108.0L1869.3 1106.7L1869.9 1107.5L1870.4 1108.4L1871.0 1109.7L1871.6 1110.4L1872.2 1111.9L1872.7 1112.0L1873.3 1113.6L1873.9 1113.9L1874.5 1115.0L1875.0 1114.6L1875.6 1115.0L1876.2 1114.8L1876.8 1116.0L1877.3 1115.2L1877.9 1114.6L1878.5 1114.6L1879.1 1113.9L1879.6 1114.6L1880.2 1114.0L1880.8 1112.9L1881.4 1112.1L1881.9 1110.2L1882.5 1110.3L1883.1 1108.2L1883.7 1107.7L1884.2 1105.1L1884.8 1104.5L1885.4 1104.2L1886.0 1104.4L1886.5 1104.6L1887.1 1106.2L1887.7 1106.9L1888.3 1107.7L1888.8 1107.9L1889.4 1109.4L1890.0 1109.0L1890.6 1109.1L1891.1 1108.7L1891.7 1108.6L1892.3 1108.2L1892.9 1109.6L1893.4 1109.5L1894.0 1109.4L1894.6 1109.6L1895.2 1109.9L1895.7 1109.2L1896.3 1109.6L1896.9 1108.6L1897.5 1107.4L1898.0 1105.7L1898.6 1103.8L1899.2 1102.0L1899.8 1099.4L1900.3 1097.3L1900.9 1097.2L1901.5 1097.9L1902.1 1099.9L1902.6 1103.2L1903.2 1105.1L1903.8 1106.9L1904.4 1109.5L1904.9 1110.6L1905.5 1112.6L1906.1 1113.5L1906.7 1113.8L1907.2 1114.8L1907.8 1114.9L1908.4 1115.2L1909.0 1114.9L1909.5 1115.0L1910.1 1116.0L1910.7 1117.1L1911.3 1115.9L1911.8 1116.5L1912.4 1116.3L1913.0 1116.9L1913.6 1116.4L1914.1 1116.7L1914.7 1116.9L1915.3 1116.5L1915.9 1116.7L1916.4 1116.6L1917.0 1116.9L1917.6 1116.8L1918.2 1116.8L1918.7 1116.6L1919.3 1115.8L1919.9 1115.9L1920.5 1116.1L1921.0 1115.6L1921.6 1115.7L1922.2 1114.4L1922.8 1114.2L1923.3 1113.7L1923.9 1113.5L1924.5 1112.3L1925.1 1111.2L1925.6 1110.4L1926.2 1108.5L1926.8 1106.3L1927.4 1104.7L1927.9 1101.9L1928.5 1099.3L1929.1 1096.7L1929.7 1094.2L1930.2 1093.6L1930.8 1094.3L1931.4 1096.6L1932.0 1098.9L1932.5 1102.2L1933.1 1104.0L1933.7 1106.5L1934.3 1108.9L1934.8 1109.2L1935.4 1110.5L1936.0 1112.2L1936.6 1113.0L1937.1 1113.6L1937.7 1113.9L1938.3 1114.3L1938.9 1113.8L1939.4 1114.0L1940.0 1114.1L1940.6 1113.1L1941.2 1112.6L1941.7 1112.2L1942.3 1111.9L1942.9 1110.5L1943.5 1108.0L1944.0 1106.7L1944.6 1105.6L1945.2 1105.8L1945.8 1107.0L1946.3 1108.5L1946.9 1109.7L1947.5 1111.8L1948.1 1112.7L1948.6 1112.5L1949.2 1113.2L1949.8 1114.0L1950.4 1113.7L1950.9 1113.7L1951.5 1113.1L1952.1 1113.5L1952.7 1111.9L1953.2 1112.1L1953.8 1111.6L1954.4 1109.4L1955.0 1108.7L1955.5 1106.5L1956.1 1103.4L1956.7 1100.6L1957.3 1097.3L1957.8 1092.3L1958.4 1088.0L1959.0 1083.6L1959.6 1082.7L1960.1 1084.3L1960.7 1087.4L1961.3 1091.6L1961.9 1095.5L1962.4 1099.1L1963.0 1100.8L1963.6 1103.1L1964.2 1102.8L1964.7 1103.0L1965.3 1101.9L1965.9 1102.8L1966.5 1104.3L1967.0 1106.3L1967.6 1107.8L1968.2 1109.8L1968.8 1110.7L1969.3 1112.5L1969.9 1112.8L1970.5 1114.3L1971.1 1114.5L1971.6 1115.1L1972.2 1115.3L1972.8 1115.5L1973.4 1115.8L1973.9 1115.6L1974.5 1115.0L1975.1 1116.3L1975.7 1115.5L1976.2 1116.3L1976.8 1116.1L1977.4 1116.0L1978.0 1115.8L1978.5 1115.8L1979.1 1115.7L1979.7 1115.4L1980.3 1115.2L1980.8 1115.1L1981.4 1115.0L1982.0 1114.1L1982.6 1113.9L1983.1 1112.7L1983.7 1112.2L1984.3 1110.8L1984.9 1110.3L1985.4 1109.2L1986.0 1107.6L1986.6 1104.8L1987.1 1103.6L1987.7 1100.8L1988.3 1099.6L1988.9 1099.0L1989.4 1100.4L1990.0 1101.1L1990.6 1103.8L1991.2 1105.3L1991.7 1106.6L1992.3 1108.4L1992.9 1110.1L1993.5 1110.1L1994.0 1111.1L1994.6 1111.8L1995.2 1112.0L1995.8 1112.3L1996.3 1113.2L1996.9 1112.6L1997.5 1112.3L1998.1 1112.1L1998.6 1111.4L1999.2 1112.1L1999.8 1111.1L2000.4 1112.5L2000.9 1110.9L2001.5 1110.1L2002.1 1109.6L2002.7 1109.7L2003.2 1110.0L2003.8 1109.7L2004.4 1110.4L2005.0 1110.7L2005.5 1111.0L2006.1 1111.4L2006.7 1111.6L2007.3 1111.7L2007.8 1111.8L2008.4 1111.9L2009.0 1112.7L2009.6 1113.4L2010.1 1113.2L2010.7 1112.9L2011.3 1113.8L2011.9 1112.9L2012.4 1112.8L2013.0 1112.8L2013.6 1112.7L2014.2 1112.8L2014.7 1112.1L2015.3 1111.8L2015.9 1112.5L2016.5 1112.3L2017.0 1112.3L2017.6 1112.4L2018.2 1112.2L2018.8 1113.2L2019.3 1112.6L2019.9 1112.9L2020.5 1113.9L2021.1 1113.8L2021.6 1114.0L2022.2 1114.3L2022.8 1114.2L2023.4 1115.2L2023.9 1115.1L2024.5 1115.6L2025.1 1116.2L2025.7 1116.2L2026.2 1116.1L2026.8 1116.3L2027.4 1116.3L2028.0 1117.1L2028.5 1115.6L2029.1 1116.3L2029.7 1116.2L2030.3 1116.8L2030.8 1116.6L2031.4 1116.7L2032.0 1117.5L2032.6 1116.8L2033.1 1117.0L2033.7 1116.5L2034.3 1116.3L2034.9 1116.1L2035.4 1117.1L2036.0 1116.0L2036.6 1116.2L2037.2 1117.2L2037.7 1116.3L2038.3 1116.0L2038.9 1115.7L2039.5 1115.0L2040.0 1115.4L2040.6 1115.3L2041.2 1114.0L2041.8 1113.7L2042.3 1113.9L2042.9 1112.2L2043.5 1111.7L2044.1 1111.1L2044.6 1108.4L2045.2 1107.1L2045.8 1105.1L2046.4 1103.1L2046.9 1103.5L2047.5 1102.8L2048.1 1102.8L2048.7 1104.2L2049.2 1105.3L2049.8 1106.6L2050.4 1108.5L2051.0 1109.8L2051.5 1111.0L2052.1 1112.8L2052.7 1112.9L2053.3 1113.4L2053.8 1114.5L2054.4 1115.1L2055.0 1116.0L2055.6 1115.7L2056.1 1115.2L2056.7 1115.6L2057.3 1116.6L2057.9 1116.0L2058.4 1116.6L2059.0 1117.3L2059.6 1116.0L2060.2 1116.0L2060.7 1116.6L2061.3 1116.7L2061.9 1117.2L2062.5 1116.1L2063.0 1117.1L2063.6 1116.7L2064.2 1116.1L2064.8 1116.7L2065.3 1116.9L2065.9 1117.4L2066.5 1116.3L2067.1 1116.8L2067.6 1115.8L2068.2 1116.7L2068.8 1116.1L2069.4 1116.6L2069.9 1115.0L2070.5 1114.8L2071.1 1114.2L2071.7 1115.2L2072.2 1113.6L2072.8 1112.4L2073.4 1112.2L2074.0 1112.3L2074.5 1111.8L2075.1 1111.5L2075.7 1110.9L2076.3 1111.7L2076.8 1111.5L2077.4 1112.3L2078.0 1113.8L2078.6 1114.4L2079.1 1114.3L2079.7 1114.0L2080.3 1114.6L2080.9 1115.0L2081.4 1115.9L2082.0 1115.0L2082.6 1114.6L2083.2 1114.6L2083.7 1114.5L2084.3 1114.4L2084.9 1114.2L2085.5 1114.7L2086.0 1113.1L2086.6 1111.7L2087.2 1112.3L2087.8 1110.7L2088.3 1109.9L2088.9 1109.2L2089.5 1109.2L2090.1 1109.1L2090.6 1109.6L2091.2 1109.9L2091.8 1110.9L2092.4 1111.2L2092.9 1111.9L2093.5 1112.7L2094.1 1113.3L2094.7 1113.1L2095.2 1113.6L2095.8 1114.8L2096.4 1114.8L2097.0 1115.0L2097.5 1114.7L2098.1 1114.4L2098.7 1114.5L2099.3 1113.6L2099.8 1112.6L2100.4 1112.0L2101.0 1111.4L2101.6 1110.5L2102.1 1109.2L2102.7 1108.1L2103.3 1107.4L2103.9 1106.5L2104.4 1107.9L2105.0 1107.6L2105.6 1107.4L2106.1 1109.6L2106.7 1109.9L2107.3 1111.1L2107.9 1112.0L2108.4 1113.0L2109.0 1113.2L2109.6 1113.7L2110.2 1113.8L2110.7 1115.0L2111.3 1114.1L2111.9 1113.7L2112.5 1113.5L2113.0 1113.9L2113.6 1113.5L2114.2 1113.4L2114.8 1113.1L2115.3 1111.8L2115.9 1111.7L2116.5 1110.7L2117.1 1110.1L2117.6 1109.5L2118.2 1109.6L2118.8 1109.4L2119.4 1109.7L2119.9 1110.3L2120.5 1110.4L2121.1 1111.9L2121.7 1111.9L2122.2 1111.7L2122.8 1112.0L2123.4 1111.3L2124.0 1111.5L2124.5 1110.4L2125.1 1110.4L2125.7 1109.5L2126.3 1108.1L2126.8 1107.0L2127.4 1104.2L2128.0 1101.9L2128.6 1098.5L2129.1 1094.2L2129.7 1089.0L2130.3 1084.7L2130.9 1080.3L2131.4 1078.6L2132.0 1079.3L2132.6 1083.4L2133.2 1087.7L2133.7 1093.3L2134.3 1096.3L2134.9 1098.5L2135.5 1100.9L2136.0 1101.7L2136.6 1100.7L2137.2 1099.9L2137.8 1099.2L2138.3 1096.6L2138.9 1096.3L2139.5 1099.0L2140.1 1100.5L2140.6 1103.0L2141.2 1105.9L2141.8 1108.5L2142.4 1110.5L2142.9 1111.0L2143.5 1111.5L2144.1 1113.3L2144.7 1113.5L2145.2 1113.8L2145.8 1114.0L2146.4 1115.2L2147.0 1114.8L2147.5 1114.5L2148.1 1114.8L2148.7 1115.1L2149.3 1114.8L2149.8 1115.3L2150.4 1116.0L2151.0 1115.9L2151.6 1116.0L2152.1 1116.0L2152.7 1115.6L2153.3 1115.7L2153.9 1114.7L2154.4 1115.7L2155.0 1115.5L2155.6 1115.2L2156.2 1115.0L2156.7 1114.2L2157.3 1114.2L2157.9 1113.4L2158.5 1113.5L2159.0 1113.0L2159.6 1112.2L2160.2 1112.3L2160.8 1110.6L2161.3 1110.1L2161.9 1109.1L2162.5 1108.2L2163.1 1108.0L2163.6 1107.7L2164.2 1107.6L2164.8 1108.9L2165.4 1108.8L2165.9 1109.7L2166.5 1109.5L2167.1 1109.8L2167.7 1110.3L2168.2 1111.1L2168.8 1109.1L2169.4 1108.4L2170.0 1107.5L2170.5 1106.2L2171.1 1104.5L2171.7 1102.5L2172.3 1099.3L2172.8 1096.9L2173.4 1094.6L2174.0 1093.5L2174.6 1094.2L2175.1 1096.7L2175.7 1099.2L2176.3 1102.3L2176.9 1104.1L2177.4 1105.7L2178.0 1106.7L2178.6 1107.8L2179.2 1109.0L2179.7 1109.3L2180.3 1110.0L2180.9 1108.9L2181.5 1109.1L2182.0 1108.1L2182.6 1106.3L2183.2 1105.4L2183.8 1104.2L2184.3 1101.6L2184.9 1098.5L2185.5 1095.4L2186.1 1090.2L2186.6 1085.2L2187.2 1080.1L2187.8 1075.4L2188.4 1074.2L2188.9 1074.8L2189.5 1078.4L2190.1 1084.3L2190.7 1089.0L2191.2 1092.5L2191.8 1094.6L2192.4 1096.4L2193.0 1096.8L2193.5 1096.8L2194.1 1097.6L2194.7 1098.5L2195.3 1101.5L2195.8 1102.9L2196.4 1105.9L2197.0 1107.6L2197.6 1109.2L2198.1 1111.9L2198.7 1112.7L2199.3 1113.0L2199.9 1113.6L2200.4 1114.1L2201.0 1114.3L2201.6 1113.2L2202.2 1113.8L2202.7 1115.3L2203.3 1114.1L2203.9 1116.0L2204.5 1115.9L2205.0 1115.8L2205.6 1116.0L2206.2 1116.2L2206.8 1115.7L2207.3 1116.8L2207.9 1116.0L2208.5 1115.8L2209.1 1117.0L2209.6 1116.3L2210.2 1116.4L2210.8 1116.8L2211.4 1117.3L2211.9 1116.3L2212.5 1116.4L2213.1 1115.7L2213.7 1116.3L2214.2 1117.0L2214.8 1115.9L2215.4 1115.8L2216.0 1115.3L2216.5 1115.4L2217.1 1115.3L2217.7 1115.8L2218.3 1115.8L2218.8 1114.6L2219.4 1115.4L2220.0 1115.6L2220.6 1115.1L2221.1 1114.1L2221.7 1114.5L2222.3 1113.6L2222.9 1113.0L2223.4 1112.6L2224.0 1112.4L2224.6 1112.9L2225.2 1113.3L2225.7 1112.4L2226.3 1112.6L2226.9 1114.3L2227.4 1113.6L2228.0 1115.3L2228.6 1114.8L2229.2 1114.2L2229.7 1115.5L2230.3 1115.7L2230.9 1114.6L2231.5 1115.4L2232.0 1116.2L2232.6 1114.9L2233.2 1115.8L2233.8 1115.8L2234.3 1116.4L2234.9 1116.1L2235.5 1115.2L2236.1 1114.6L2236.6 1114.9L2237.2 1114.9L2237.8 1114.6L2238.4 1114.2L2238.9 1113.6L2239.5 1114.3L2240.1 1113.3L2240.7 1112.9L2241.2 1113.2L2241.8 1113.1L2242.4 1113.1L2243.0 1113.8L2243.5 1113.1L2244.1 1113.9L2244.7 1114.6L2245.3 1114.3L2245.8 1114.8L2246.4 1115.3L2247.0 1115.5L2247.6 1115.5L2248.1 1115.1L2248.7 1115.4L2249.3 1115.9L2249.9 1115.9L2250.4 1116.0L2251.0 1115.9L2251.6 1115.5L2252.2 1116.5L2252.7 1115.8L2253.3 1117.0L2253.9 1117.6L2254.5 1116.7L2255.0 1116.5L2255.6 1116.0L2256.2 1115.9L2256.8 1116.1L2257.3 1116.7L2257.9 1116.2L2258.5 1115.4L2259.1 1116.4L2259.6 1115.7L2260.2 1116.2L2260.8 1115.7L2261.4 1115.2L2261.9 1115.2L2262.5 1115.5L2263.1 1114.7L2263.7 1115.2L2264.2 1113.9L2264.8 1114.4L2265.4 1112.7L2266.0 1112.0L2266.5 1111.8L2267.1 1111.1L2267.7 1108.8L2268.3 1107.4L2268.8 1104.4L2269.4 1101.9L2270.0 1099.8L2270.6 1098.8L2271.1 1096.9L2271.7 1096.9L2272.3 1098.2L2272.9 1101.4L2273.4 1103.8L2274.0 1105.1L2274.6 1106.6L2275.2 1106.9L2275.7 1107.9L2276.3 1107.1L2276.9 1105.4L2277.5 1104.7L2278.0 1104.9L2278.6 1104.6L2279.2 1104.9L2279.8 1107.6L2280.3 1109.2L2280.9 1109.6L2281.5 1112.1L2282.1 1113.3L2282.6 1113.1L2283.2 1113.3L2283.8 1113.9L2284.4 1114.0L2284.9 1114.4L2285.5 1114.7L2286.1 1113.8L2286.7 1114.4L2287.2 1115.3L2287.8 1114.3L2288.4 1114.3L2289.0 1114.3L2289.5 1113.5L2290.1 1113.0L2290.7 1114.3L2291.3 1112.9L2291.8 1111.9L2292.4 1112.1L2293.0 1110.6L2293.6 1109.3L2294.1 1108.1L2294.7 1105.9L2295.3 1103.8L2295.9 1101.8L2296.4 1098.0L2297.0 1094.0L2297.6 1090.8L2298.2 1087.5L2298.7 1085.8L2299.3 1086.3L2299.9 1089.5L2300.5 1093.8L2301.0 1096.4L2301.6 1100.7L2302.2 1102.0L2302.8 1103.0L2303.3 1104.2L2303.9 1105.2L2304.5 1103.7L2305.1 1103.0L2305.6 1101.8L2306.2 1100.4L2306.8 1101.5L2307.4 1103.4L2307.9 1105.5L2308.5 1106.6L2309.1 1109.4L2309.7 1111.0L2310.2 1112.2L2310.8 1113.5L2311.4 1113.4L2312.0 1113.8L2312.5 1113.2L2313.1 1113.8L2313.7 1115.1L2314.3 1114.2L2314.8 1114.8L2315.4 1114.2L2316.0 1114.9L2316.6 1114.5L2317.1 1115.2L2317.7 1114.9L2318.3 1115.1L2318.9 1114.1L2319.4 1114.5L2320.0 1114.8L2320.6 1112.7L2321.2 1113.4L2321.7 1113.1L2322.3 1112.9L2322.9 1111.9L2323.5 1110.8L2324.0 1109.4L2324.6 1108.1L2325.2 1106.2L2325.8 1105.1L2326.3 1104.1L2326.9 1105.0L2327.5 1106.1L2328.1 1108.4L2328.6 1108.6L2329.2 1110.5L2329.8 1111.3L2330.4 1112.3L2330.9 1113.4L2331.5 1113.3L2332.1 1113.2L2332.7 1113.9L2333.2 1114.3L2333.8 1114.0L2334.4 1114.1L2335.0 1112.9L2335.5 1113.6L2336.1 1112.6L2336.7 1111.7L2337.3 1111.7L2337.8 1110.1L2338.4 1110.0L2339.0 1109.7L2339.6 1108.0L2340.1 1107.4L2340.7 1108.3L2341.3 1108.6L2341.9 1109.5L2342.4 1109.3L2343.0 1110.7L2343.6 1112.8L2344.2 1112.4L2344.7 1113.3L2345.3 1114.1"/>
<path stroke="#00ff00" stroke-width="4.7" d="M189.5 691.8L190.1 690.1L190.6 690.5L191.2 690.8L191.8 689.9L192.4 690.5L192.9 690.5L193.5 689.1L194.1 691.2L194.7 690.9L195.2 690.0L195.8 690.3L196.4 690.8L197.0 690.2L197.5 690.3L198.1 689.3L198.7 690.8L199.3 690.5L199.8 690.6L200.4 689.3L201.0 691.7L201.6 690.5L202.1 690.1L202.7 691.9L203.3 690.4L203.9 689.3L204.4 690.1L205.0 688.7L205.6 691.2L206.2 690.1L206.7 689.8L207.3 691.2L207.9 689.1L208.5 690.8L209.0 688.8L209.6 689.9L210.2 689.5L210.8 691.5L211.3 691.7L211.9 690.1L212.5 691.0L213.1 690.2L213.6 690.8L214.2 689.8L214.8 689.1L215.4 689.0L215.9 690.6L216.5 692.0L217.1 690.5L217.7 689.9L218.2 691.8L218.8 690.5L219.4 690.4L220.0 690.5L220.5 690.2L221.1 690.1L221.7 689.2L222.3 690.7L222.8 690.2L223.4 691.2L224.0 690.0L224.6 688.9L225.1 690.2L225.7 691.6L226.3 690.0L226.9 689.6L227.4 689.4L228.0 689.5L228.6 690.0L229.2 689.4L229.7 691.4L230.3 690.0L230.9 690.3L231.5 691.3L232.0 691.4L232.6 690.1L233.2 690.5L233.8 690.8L234.3 690.1L234.9 688.9L235.5 690.7L236.1 690.9L236.6 690.5L237.2 689.5L237.8 690.1L238.4 689.8L238.9 690.0L239.5 691.2L240.1 691.3L240.7 690.7L241.2 690.6L241.8 690.7L242.4 690.2L243.0 690.1L243.5 689.7L244.1 690.1L244.7 691.9L245.3 690.8L245.8 689.9L246.4 689.8L247.0 689.5L247.6 690.4L248.1 690.4L248.7 689.1L249.3 690.5L249.9 689.7L250.4 691.2L251.0 690.3L251.6 691.4L252.2 689.8L252.7 689.9L253.3 690.3L253.9 690.9L254.5 690.5L255.0 689.2L255.6 690.2L256.2 690.1L256.8 689.8L257.3 689.6L257.9 691.4L258.5 689.8L259.1 689.5L259.6 690.6L260.2 690.2L260.8 690.0L261.4 690.7L261.9 690.4L262.5 690.3L263.1 690.8L263.7 690.3L264.2 689.6L264.8 689.8L265.4 689.7L266.0 690.2L266.5 689.2L267.1 688.7L267.7 690.1L268.3 689.0L268.8 688.6L269.4 690.3L270.0 689.5L270.6 690.4L271.1 689.6L271.7 689.2L272.3 689.1L272.9 689.6L273.4 689.8L274.0 689.4L274.6 689.8L275.2 688.8L275.7 690.0L276.3 688.6L276.9 689.8L277.5 690.5L278.0 690.8L278.6 691.3L279.2 688.8L279.8 690.5L280.3 690.9L280.9 690.7L281.5 689.3L282.1 690.3L282.6 691.3L283.2 688.8L283.8 690.3L284.4 690.8L284.9 689.4L285.5 690.4L286.1 689.1L286.7 689.3L287.2 689.3L287.8 690.1L288.4 689.8L289.0 690.6L289.5 689.2L290.1 689.8L290.7 690.6L291.3 690.3L291.8 688.9L292.4 690.4L293.0 689.5L293.6 690.2L294.1 690.1L294.7 690.8L295.3 690.0L295.9 688.5L296.4 688.8L297.0 690.4L297.6 689.7L298.2 690.7L298.7 690.1L299.3 689.3L299.9 690.7L300.5 689.2L301.0 688.3L301.6 691.4L302.2 688.4L302.8 690.3L303.3 690.5L303.9 689.9L304.5 688.6L305.1 690.6L305.6 688.7L306.2 688.8L306.8 689.5L307.4 690.4L307.9 690.0L308.5 690.4L309.1 689.4L309.6 689.6L310.2 688.9L310.8 689.5L311.4 690.2L311.9 689.5L312.5 690.1L313.1 689.3L313.7 689.3L314.2 689.8L314.8 689.6L315.4 690.2L316.0 689.9L316.5 691.0L317.1 689.5L317.7 689.5L318.3 688.9L318.8 689.7L319.4 690.2L320.0 689.1L320.6 689.6L321.1 690.2L321.7 689.6L322.3 689.2L322.9 690.4L323.4 689.7L324.0 689.9L324.6 690.5L325.2 690.4L325.7 689.3L326.3 689.2L326.9 689.7L327.5 689.4L328.0 688.1L328.6 690.4L329.2 689.4L329.8 689.9L330.3 688.4L330.9 690.2L331.5 688.7L332.1 688.9L332.6 687.7L333.2 688.4L333.8 688.1L334.4 687.8L334.9 687.8L335.5 687.1L336.1 687.4L336.7 685.9L337.2 685.2L337.8 685.7L338.4 686.1L339.0 686.5L339.5 686.1L340.1 684.0L340.7 685.5L341.3 686.3L341.8 685.4L342.4 685.2L343.0 686.2L343.6 686.1L344.1 687.5L344.7 687.5L345.3 689.0L345.9 688.6L346.4 688.0L347.0 689.2L347.6 689.6L348.2 688.6L348.7 688.8L349.3 687.5L349.9 689.9L350.5 688.9L351.0 687.7L351.6 688.0L352.2 689.2L352.8 690.0L353.3 689.3L353.9 689.8L354.5 688.6L355.1 688.4L355.6 690.1L356.2 689.8L356.8 689.4L357.4 690.4L357.9 688.7L358.5 689.1L359.1 690.2L359.7 690.8L360.2 689.5L360.8 690.7L361.4 689.0L362.0 689.7L362.5 689.3L363.1 688.3L363.7 689.6L364.3 690.1L364.8 689.3L365.4 689.4L366.0 690.5L366.6 688.5L367.1 688.3L367.7 688.9L368.3 688.5L368.9 690.4L369.4 689.7L370.0 688.8L370.6 689.0L371.2 691.6L371.7 689.0L372.3 688.9L372.9 689.6L373.5 689.9L374.0 689.6L374.6 688.7L375.2 688.5L375.8 689.9L376.3 689.4L376.9 688.2L377.5 690.3L378.1 690.0L378.6 689.2L379.2 689.2L379.8 689.6L380.4 688.9L380.9 688.4L381.5 689.6L382.1 688.3L382.7 689.7L383.2 688.3L383.8 689.3L384.4 689.3L385.0 690.7L385.5 688.6L386.1 688.3L386.7 688.9L387.3 688.5L387.8 688.9L388.4 689.7L389.0 689.9L389.6 690.6L390.1 688.8L390.7 691.3L391.3 690.8L391.9 689.2L392.4 687.6L393.0 689.3L393.6 689.4L394.2 687.6L394.7 689.4L395.3 689.2L395.9 688.7L396.5 689.8L397.0 690.1L397.6 688.9L398.2 689.5L398.8 688.8L399.3 688.7L399.9 689.3L400.5 689.7L401.1 688.9L401.6 687.6L402.2 689.7L402.8 688.1L403.4 689.4L403.9 690.6L404.5 689.2L405.1 688.4L405.7 688.2L406.2 690.1L406.8 689.2L407.4 689.6L408.0 689.9L408.5 689.2L409.1 689.0L409.7 688.5L410.3 686.9L410.8 688.1L411.4 689.2L412.0 689.1L412.6 689.5L413.1 689.1L413.7 689.3L414.3 689.8L414.9 688.5L415.4 689.0L416.0 688.0L416.6 689.9L417.2 689.2L417.7 689.5L418.3 690.3L418.9 690.0L419.5 689.1L420.0 689.8L420.6 688.1L421.2 689.5L421.8 689.3L422.3 687.9L422.9 690.2L423.5 688.6L424.1 689.7L424.6 688.8L425.2 689.9L425.8 690.1L426.4 688.5L426.9 688.0L427.5 689.0L428.1 689.8L428.7 688.8L429.2 688.7L429.8 689.5L430.4 687.0L430.9 688.6L431.5 688.1L432.1 689.3L432.7 688.5L433.2 688.3L433.8 688.8L434.4 688.0L435.0 689.1L435.5 688.6L436.1 688.8L436.7 688.5L437.3 689.7L437.8 689.0L438.4 689.5L439.0 689.4L439.6 688.4L440.1 689.5L440.7 689.3L441.3 689.3L441.9 688.7L442.4 688.7L443.0 689.6L443.6 690.7L444.2 688.4L444.7 689.4L445.3 688.7L445.9 689.6L446.5 689.3L447.0 689.8L447.6 686.9L448.2 688.5L448.8 688.3L449.3 688.9L449.9 688.4L450.5 688.5L451.1 689.5L451.6 690.4L452.2 686.9L452.8 688.7L453.4 689.2L453.9 689.0L454.5 688.7L455.1 687.9L455.7 688.2L456.2 689.5L456.8 689.7L457.4 689.0L458.0 688.3L458.5 689.0L459.1 688.7L459.7 689.3L460.3 689.0L460.8 688.4L461.4 689.0L462.0 688.0L462.6 689.5L463.1 689.8L463.7 688.0L464.3 689.2L464.9 688.1L465.4 689.7L466.0 689.6L466.6 688.7L467.2 689.6L467.7 688.5L468.3 688.4L468.9 688.4L469.5 688.7L470.0 688.6L470.6 689.0L471.2 688.4L471.8 689.4L472.3 689.6L472.9 688.4L473.5 687.7L474.1 689.4L474.6 689.7L475.2 688.7L475.8 687.8L476.4 689.0L476.9 689.9L477.5 687.4L478.1 689.1L478.7 688.5L479.2 688.1L479.8 689.1L480.4 687.8L481.0 689.0L481.5 689.7L482.1 688.9L482.7 688.1L483.3 687.4L483.8 687.7L484.4 687.3L485.0 689.9L485.6 688.5L486.1 687.9L486.7 687.7L487.3 687.9L487.9 688.4L488.4 687.7L489.0 689.9L489.6 688.1L490.2 688.0L490.7 688.8L491.3 689.7L491.9 689.6L492.5 688.2L493.0 688.8L493.6 688.7L494.2 688.9L494.8 688.7L495.3 687.8L495.9 687.5L496.5 688.6L497.1 687.6L497.6 689.5L498.2 688.4L498.8 687.6L499.4 688.1L499.9 688.0L500.5 688.2L501.1 689.0L501.7 687.2L502.2 686.8L502.8 688.4L503.4 688.0L504.0 688.2L504.5 688.3L505.1 687.8L505.7 688.4L506.3 687.0L506.8 687.6L507.4 686.8L508.0 686.3L508.6 687.3L509.1 686.9L509.7 684.5L510.3 684.4L510.9 684.5L511.4 683.9L512.0 681.3L512.6 680.1L513.2 677.5L513.7 678.7L514.3 675.7L514.9 674.8L515.5 673.9L516.0 673.7L516.6 673.2L517.2 672.1L517.8 672.5L518.3 671.6L518.9 672.4L519.5 671.2L520.1 672.4L520.6 675.0L521.2 677.4L521.8 678.5L522.4 679.8L522.9 681.9L523.5 683.0L524.1 685.9L524.7 686.0L525.2 687.0L525.8 686.7L526.4 686.4L527.0 688.0L527.5 688.5L528.1 687.9L528.7 687.5L529.3 688.5L529.8 687.4L530.4 688.4L531.0 687.3L531.6 687.2L532.1 688.4L532.7 688.2L533.3 689.4L533.9 687.8L534.4 688.1L535.0 687.2L535.6 686.7L536.2 686.8L536.7 688.5L537.3 687.2L537.9 689.0L538.5 689.2L539.0 687.9L539.6 689.4L540.2 688.3L540.8 689.0L541.3 688.0L541.9 688.9L542.5 687.4L543.1 688.6L543.6 687.8L544.2 688.0L544.8 688.6L545.4 688.2L545.9 688.0L546.5 688.6L547.1 688.7L547.7 687.0L548.2 688.4L548.8 688.5L549.4 687.4L549.9 688.2L550.5 686.9L551.1 689.0L551.7 687.7L552.2 687.7L552.8 688.6L553.4 687.5L554.0 687.9L554.5 686.6L555.1 686.7L555.7 685.8L556.3 686.3L556.8 686.7L557.4 685.5L558.0 685.2L558.6 682.9L559.1 682.0L559.7 681.3L560.3 681.1L560.9 680.1L561.4 679.2L562.0 679.4L562.6 678.6L563.2 678.5L563.7 679.2L564.3 677.5L564.9 677.9L565.5 679.1L566.0 678.4L566.6 679.7L567.2 679.8L567.8 682.9L568.3 681.0L568.9 682.9L569.5 683.9L570.1 686.7L570.6 686.3L571.2 686.3L571.8 685.9L572.4 687.4L572.9 687.4L573.5 686.9L574.1 686.4L574.7 686.8L575.2 687.9L575.8 688.0L576.4 687.9L577.0 687.7L577.5 686.5L578.1 687.9L578.7 687.1L579.3 688.0L579.8 688.3L580.4 687.5L581.0 687.2L581.6 688.7L582.1 688.3L582.7 687.5L583.3 685.8L583.9 688.0L584.4 688.5L585.0 688.9L585.6 687.5L586.2 687.6L586.7 687.7L587.3 688.7L587.9 687.2L588.5 688.0L589.0 687.4L589.6 688.3L590.2 686.9L590.8 688.4L591.3 687.7L591.9 687.9L592.5 688.5L593.1 688.9L593.6 686.8L594.2 688.8L594.8 688.5L595.4 687.9L595.9 689.1L596.5 688.2L597.1 689.0L597.7 687.6L598.2 687.4L598.8 689.0L599.4 689.7L600.0 688.5L600.5 688.7L601.1 687.7L601.7 687.1L602.3 687.9L602.8 689.2L603.4 686.7L604.0 687.7L604.6 686.6L605.1 688.1L605.7 688.7L606.3 687.1L606.9 687.7L607.4 689.0L608.0 688.0L608.6 687.1L609.2 687.0L609.7 686.5L610.3 688.6L610.9 687.5L611.5 688.8L612.0 688.7L612.6 687.5L613.2 687.6L613.8 688.6L614.3 688.1L614.9 688.2L615.5 686.8L616.1 688.7L616.6 687.3L617.2 686.3L617.8 687.5L618.4 688.3L618.9 689.6L619.5 687.7L620.1 687.0L620.7 689.6L621.2 688.1L621.8 687.8L622.4 687.2L623.0 687.2L623.5 689.1L624.1 687.7L624.7 687.5L625.3 687.6L625.8 689.1L626.4 687.5L627.0 688.4L627.6 688.1L628.1 688.1L628.7 687.3L629.3 688.4L629.9 689.1L630.4 687.9L631.0 687.2L631.6 686.9L632.2 688.0L632.7 687.7L633.3 687.8L633.9 687.9L634.5 686.8L635.0 688.5L635.6 688.1L636.2 687.8L636.8 688.1L637.3 688.6L637.9 687.9L638.5 687.2L639.1 688.7L639.6 687.5L640.2 687.3L640.8 686.7L641.4 687.9L641.9 687.1L642.5 687.4L643.1 688.2L643.7 687.9L644.2 688.6L644.8 688.1L645.4 687.5L646.0 687.6L646.5 687.4L647.1 688.3L647.7 687.8L648.3 687.5L648.8 688.4L649.4 687.9L650.0 687.4L650.6 686.7L651.1 688.1L651.7 688.0L652.3 687.8L652.9 687.4L653.4 687.1L654.0 687.6L654.6 687.9L655.2 687.7L655.7 687.6L656.3 687.4L656.9 688.0L657.5 687.9L658.0 687.2L658.6 688.3L659.2 688.3L659.8 688.3L660.3 687.6L660.9 687.6L661.5 686.8L662.1 688.3L662.6 686.1L663.2 687.4L663.8 687.4L664.4 688.3L664.9 687.7L665.5 686.9L666.1 686.6L666.7 687.1L667.2 687.7L667.8 687.7L668.4 687.5L668.9 687.1L669.5 687.5L670.1 688.4L670.7 686.8L671.2 687.6L671.8 688.8L672.4 688.0L673.0 687.3L673.5 688.1L674.1 687.0L674.7 687.6L675.3 688.8L675.8 689.0L676.4 686.3L677.0 688.1L677.6 689.0L678.1 687.1L678.7 687.7L679.3 688.7L679.9 687.2L680.4 687.9L681.0 687.5L681.6 686.1L682.2 687.8L682.7 687.4L683.3 688.2L683.9 689.1L684.5 688.0L685.0 687.2L685.6 687.8L686.2 687.6L686.8 688.2L687.3 686.4L687.9 686.6L688.5 685.9L689.1 687.9L689.6 687.4L690.2 686.9L690.8 686.8L691.4 686.9L691.9 686.6L692.5 687.1L693.1 686.9L693.7 688.3L694.2 687.5L694.8 686.6L695.4 686.8L696.0 688.1L696.5 687.5L697.1 687.4L697.7 687.7L698.3 688.3L698.8 686.1L699.4 686.4L700.0 685.6L700.6 687.2L701.1 686.5L701.7 686.2L702.3 686.0L702.9 686.9L703.4 686.1L704.0 685.6L704.6 686.6L705.2 684.6L705.7 684.1L706.3 686.7L706.9 684.1L707.5 683.6L708.0 683.1L708.6 683.1L709.2 683.5L709.8 683.2L710.3 682.9L710.9 682.0L711.5 681.0L712.1 682.3L712.6 683.3L713.2 683.0L713.8 682.1L714.4 683.1L714.9 682.4L715.5 683.0L716.1 682.4L716.7 683.6L717.2 684.4L717.8 684.5L718.4 685.6L719.0 686.9L719.5 686.7L720.1 685.5L720.7 685.4L721.3 685.6L721.8 685.5L722.4 686.5L723.0 686.9L723.6 686.8L724.1 686.9L724.7 686.9L725.3 686.7L725.9 686.1L726.4 688.5L727.0 687.9L727.6 686.0L728.2 686.0L728.7 686.3L729.3 686.9L729.9 688.1L730.5 687.9L731.0 688.0L731.6 688.0L732.2 688.0L732.8 687.7L733.3 687.4L733.9 686.8L734.5 685.1L735.1 686.8L735.6 688.8L736.2 686.3L736.8 686.2L737.4 688.0L737.9 686.9L738.5 686.3L739.1 688.5L739.7 687.5L740.2 687.7L740.8 686.2L741.4 687.4L742.0 687.2L742.5 687.7L743.1 688.1L743.7 688.0L744.3 686.9L744.8 687.5L745.4 685.4L746.0 687.5L746.6 687.5L747.1 686.2L747.7 685.8L748.3 686.6L748.9 685.2L749.4 687.0L750.0 686.9L750.6 685.4L751.2 686.6L751.7 687.8L752.3 687.8L752.9 687.7L753.5 686.3L754.0 686.0L754.6 685.9L755.2 687.1L755.8 689.3L756.3 688.1L756.9 688.3L757.5 688.0L758.1 684.1L758.6 685.9L759.2 685.5L759.8 687.7L760.4 688.2L760.9 685.1L761.5 685.9L762.1 686.5L762.7 685.1L763.2 684.8L763.8 684.7L764.4 686.7L765.0 684.1L765.5 686.8L766.1 685.3L766.7 686.0L767.3 686.9L767.8 683.7L768.4 683.3L769.0 684.8L769.6 682.5L770.1 682.6L770.7 683.1L771.3 683.0L771.9 680.6L772.4 681.1L773.0 681.5L773.6 681.2L774.2 674.8L774.7 676.2L775.3 670.8L775.9 660.9L776.5 650.2L777.0 639.7L777.6 624.0L778.2 611.8L778.8 605.9L779.3 605.4L779.9 612.0L780.5 617.2L781.1 617.6L781.6 612.6L782.2 601.8L782.8 589.3L783.4 585.3L783.9 596.5L784.5 610.1L785.1 628.0L785.7 642.3L786.2 657.6L786.8 664.6L787.4 670.9L788.0 673.4L788.5 676.8L789.1 679.0L789.7 677.9L790.2 679.4L790.8 681.0L791.4 679.9L792.0 680.2L792.5 681.0L793.1 680.4L793.7 683.3L794.3 681.2L794.8 683.6L795.4 683.9L796.0 681.0L796.6 682.6L797.1 681.8L797.7 680.8L798.3 681.7L798.9 681.7L799.4 682.7L800.0 682.8L800.6 679.5L801.2 680.0L801.7 680.7L802.3 680.8L802.9 674.9L803.5 678.5L804.0 674.4L804.6 673.4L805.2 665.4L805.8 656.9L806.3 646.8L806.9 633.9L807.5 616.3L808.1 598.8L808.6 595.2L809.2 593.3L809.8 600.4L810.4 605.3L810.9 604.1L811.5 597.8L812.1 586.2L812.7 575.0L813.2 571.7L813.8 579.5L814.4 595.1L815.0 616.5L815.5 635.6L816.1 649.3L816.7 657.7L817.3 664.4L817.8 668.3L818.4 671.0L819.0 672.6L819.6 670.4L820.1 670.8L820.7 673.2L821.3 673.2L821.9 673.1L822.4 667.6L823.0 670.2L823.6 665.7L824.2 670.8L824.7 669.5L825.3 669.1L825.9 668.4L826.5 669.9L827.0 667.3L827.6 668.6L828.2 667.4L828.8 666.5L829.3 666.0L829.9 664.7L830.5 662.1L831.1 663.3L831.6 661.7L832.2 658.5L832.8 656.8L833.4 652.8L833.9 643.2L834.5 634.0L835.1 616.2L835.7 588.9L836.2 552.8L836.8 503.0L837.4 449.6L838.0 402.5L838.5 377.2L839.1 382.1L839.7 407.0L840.3 421.7L840.8 422.6L841.4 397.7L842.0 360.3L842.6 322.3L843.1 309.9L843.7 336.7L844.3 397.0L844.9 467.4L845.4 527.0L846.0 576.7L846.6 608.2L847.2 633.8L847.7 647.3L848.3 655.3L848.9 659.4L849.5 664.2L850.0 667.6L850.6 670.1L851.2 671.5L851.8 672.9L852.3 674.8L852.9 677.5L853.5 673.9L854.1 675.6L854.6 676.0L855.2 677.8L855.8 676.9L856.4 680.5L856.9 680.3L857.5 680.2L858.1 680.0L858.7 681.4L859.2 681.7L859.8 682.1L860.4 680.9L861.0 682.9L861.5 680.2L862.1 684.0L862.7 678.3L863.3 681.8L863.8 681.0L864.4 683.8L865.0 680.8L865.6 685.3L866.1 680.7L866.7 685.6L867.3 683.4L867.9 682.8L868.4 683.3L869.0 685.5L869.6 683.6L870.2 679.2L870.7 683.6L871.3 682.0L871.9 679.1L872.5 681.6L873.0 678.0L873.6 678.2L874.2 675.7L874.8 670.6L875.3 666.8L875.9 657.4L876.5 651.2L877.1 643.1L877.6 639.8L878.2 643.3L878.8 644.1L879.4 645.0L879.9 646.3L880.5 642.0L881.1 637.1L881.7 631.6L882.2 629.5L882.8 633.6L883.4 641.3L884.0 652.4L884.5 662.0L885.1 666.4L885.7 671.7L886.3 674.4L886.8 676.9L887.4 676.2L888.0 672.1L888.6 670.4L889.1 664.6L889.7 661.6L890.3 660.1L890.9 660.2L891.4 661.9L892.0 661.9L892.6 661.1L893.2 662.2L893.7 658.3L894.3 654.9L894.9 650.7L895.5 649.8L896.0 650.3L896.6 652.3L897.2 652.5L897.8 657.1L898.3 658.5L898.9 662.8L899.5 667.6L900.1 666.4L900.6 663.4L901.2 664.9L901.8 662.0L902.4 661.6L902.9 662.3L903.5 666.2L904.1 669.7L904.7 672.9L905.2 678.9L905.8 678.4L906.4 679.6L907.0 680.5L907.5 684.1L908.1 683.0L908.7 681.5L909.2 682.0L909.8 682.7L910.4 683.2L911.0 679.7L911.5 682.9L912.1 681.2L912.7 680.2L913.3 680.3L913.8 681.4L914.4 682.1L915.0 679.2L915.6 678.8L916.1 675.6L916.7 675.3L917.3 672.6L917.9 664.4L918.4 657.9L919.0 648.0L919.6 629.0L920.2 612.1L920.7 594.5L921.3 577.4L921.9 575.5L922.5 581.8L923.0 591.0L923.6 591.6L924.2 590.6L924.8 577.7L925.3 563.8L925.9 553.4L926.5 555.1L927.1 572.1L927.6 592.8L928.2 616.8L928.8 636.9L929.4 652.4L929.9 664.0L930.5 666.7L931.1 672.5L931.7 673.6L932.2 674.9L932.8 680.2L933.4 679.2L934.0 681.9L934.5 681.9L935.1 679.5L935.7 678.6L936.3 684.1L936.8 681.0L937.4 680.2L938.0 682.7L938.6 682.0L939.1 681.0L939.7 681.3L940.3 681.9L940.9 681.6L941.4 682.3L942.0 680.4L942.6 679.9L943.2 680.3L943.7 678.6L944.3 677.4L944.9 672.1L945.5 667.1L946.0 658.7L946.6 653.9L947.2 641.5L947.8 637.4L948.3 634.2L948.9 638.4L949.5 642.5L950.1 640.9L950.6 640.9L951.2 633.4L951.8 630.8L952.4 623.6L952.9 623.2L953.5 631.8L954.1 645.0L954.7 655.6L955.2 663.8L955.8 667.2L956.4 672.0L957.0 676.5L957.5 673.9L958.1 673.7L958.7 670.7L959.3 666.7L959.8 664.5L960.4 657.2L961.0 650.2L961.6 645.4L962.1 644.8L962.7 647.8L963.3 648.8L963.9 649.8L964.4 647.5L965.0 646.0L965.6 638.4L966.2 633.3L966.7 636.1L967.3 642.7L967.9 652.6L968.5 661.6L969.0 666.6L969.6 672.0L970.2 676.3L970.8 677.5L971.3 680.5L971.9 682.2L972.5 682.3L973.1 680.5L973.6 681.4L974.2 685.0L974.8 682.2L975.4 684.7L975.9 684.8L976.5 683.6L977.1 682.8L977.7 684.6L978.2 683.2L978.8 684.2L979.4 684.7L980.0 683.6L980.5 684.3L981.1 684.3L981.7 683.1L982.3 684.5L982.8 683.9L983.4 682.3L984.0 684.4L984.6 684.4L985.1 684.0L985.7 682.0L986.3 685.9L986.9 685.7L987.4 685.7L988.0 685.2L988.6 683.0L989.2 684.8L989.7 683.3L990.3 687.4L990.9 683.6L991.5 685.0L992.0 681.7L992.6 681.7L993.2 681.8L993.8 682.3L994.3 680.4L994.9 677.9L995.5 672.6L996.1 674.4L996.6 670.5L997.2 674.1L997.8 675.5L998.4 674.9L998.9 675.1L999.5 671.0L1000.1 674.4L1000.7 669.5L1001.2 669.9L1001.8 668.7L1002.4 672.5L1003.0 674.0L1003.5 678.0L1004.1 680.5L1004.7 682.3L1005.3 684.8L1005.8 684.2L1006.4 684.2L1007.0 684.2L1007.6 687.0L1008.1 683.6L1008.7 686.1L1009.3 681.9L1009.9 683.4L1010.4 685.1L1011.0 684.3L1011.6 688.6L1012.2 688.0L1012.7 682.4L1013.3 682.9L1013.9 684.1L1014.5 686.4L1015.0 685.4L1015.6 683.9L1016.2 681.0L1016.8 680.8L1017.3 676.8L1017.9 676.3L1018.5 676.3L1019.1 673.8L1019.6 668.3L1020.2 668.8L1020.8 671.1L1021.4 670.3L1021.9 670.7L1022.5 671.9L1023.1 670.5L1023.7 667.8L1024.2 664.8L1024.8 664.2L1025.4 666.5L1026.0 668.9L1026.5 675.2L1027.1 678.0L1027.7 680.9L1028.2 684.0L1028.8 684.6L1029.4 685.1L1030.0 684.2L1030.5 683.7L1031.1 687.3L1031.7 683.4L1032.3 683.6L1032.8 683.4L1033.4 684.9L1034.0 685.2L1034.6 686.1L1035.1 684.4L1035.7 682.4L1036.3 685.2L1036.9 686.0L1037.4 684.7L1038.0 684.5L1038.6 685.3L1039.2 686.4L1039.7 684.2L1040.3 682.1L1040.9 682.8L1041.5 682.6L1042.0 679.4L1042.6 681.4L1043.2 677.7L1043.8 677.7L1044.3 676.0L1044.9 675.0L1045.5 678.1L1046.1 675.9L1046.6 676.1L1047.2 677.0L1047.8 676.7L1048.4 674.1L1048.9 671.9L1049.5 674.4L1050.1 675.8L1050.7 680.0L1051.2 679.0L1051.8 681.4L1052.4 681.7L1053.0 681.3L1053.5 684.0L1054.1 685.4L1054.7 683.1L1055.3 683.7L1055.8 683.2L1056.4 686.6L1057.0 684.0L1057.6 685.7L1058.1 683.8L1058.7 685.1L1059.3 684.2L1059.9 681.9L1060.4 685.2L1061.0 685.8L1061.6 682.3L1062.2 684.9L1062.7 684.6L1063.3 683.7L1063.9 684.9L1064.5 682.6L1065.0 685.6L1065.6 686.8L1066.2 683.5L1066.8 685.1L1067.3 687.2L1067.9 685.4L1068.5 684.5L1069.1 684.0L1069.6 685.5L1070.2 685.1L1070.8 686.1L1071.4 683.2L1071.9 686.7L1072.5 684.7L1073.1 686.1L1073.7 684.3L1074.2 683.5L1074.8 684.5L1075.4 684.0L1076.0 684.7L1076.5 686.1L1077.1 686.7L1077.7 685.5L1078.3 684.5L1078.8 684.6L1079.4 686.0L1080.0 686.8L1080.6 684.8L1081.1 685.1L1081.7 684.2L1082.3 685.5L1082.9 686.5L1083.4 681.3L1084.0 685.6L1084.6 684.5L1085.2 682.1L1085.7 685.6L1086.3 685.1L1086.9 685.7L1087.5 683.3L1088.0 688.1L1088.6 685.3L1089.2 684.7L1089.8 687.2L1090.3 686.0L1090.9 686.3L1091.5 686.7L1092.1 682.3L1092.6 687.4L1093.2 684.6L1093.8 685.5L1094.4 686.3L1094.9 684.1L1095.5 685.5L1096.1 686.1L1096.7 685.0L1097.2 685.7L1097.8 682.9L1098.4 683.4L1099.0 683.4L1099.5 685.5L1100.1 690.0L1100.7 685.3L1101.3 684.7L1101.8 684.8L1102.4 686.2L1103.0 685.8L1103.6 683.2L1104.1 686.1L1104.7 684.7L1105.3 685.8L1105.9 681.9L1106.4 682.4L1107.0 685.2L1107.6 681.9L1108.2 684.7L1108.7 684.5L1109.3 684.0L1109.9 683.9L1110.5 683.2L1111.0 682.5L1111.6 680.0L1112.2 678.6L1112.8 680.1L1113.3 674.9L1113.9 671.8L1114.5 670.2L1115.1 668.9L1115.6 671.3L1116.2 671.5L1116.8 673.1L1117.4 669.4L1117.9 665.4L1118.5 665.9L1119.1 666.9L1119.7 670.8L1120.2 671.9L1120.8 672.6L1121.4 676.7L1122.0 678.2L1122.5 680.9L1123.1 681.1L1123.7 680.7L1124.3 684.0L1124.8 683.9L1125.4 683.6L1126.0 684.4L1126.6 686.8L1127.1 684.3L1127.7 683.6L1128.3 685.4L1128.9 682.0L1129.4 685.2L1130.0 683.1L1130.6 682.9L1131.2 684.0L1131.7 685.9L1132.3 682.2L1132.9 683.8L1133.5 682.1L1134.0 678.7L1134.6 680.7L1135.2 677.6L1135.8 676.5L1136.3 677.7L1136.9 678.3L1137.5 680.3L1138.1 678.3L1138.6 680.6L1139.2 678.0L1139.8 676.1L1140.4 676.1L1140.9 678.5L1141.5 676.9L1142.1 678.0L1142.7 680.9L1143.2 683.8L1143.8 683.8L1144.4 683.9L1145.0 683.8L1145.5 681.3L1146.1 683.9L1146.7 682.0L1147.3 685.6L1147.8 684.5L1148.4 684.4L1149.0 685.1L1149.5 685.0L1150.1 684.9L1150.7 685.1L1151.3 683.8L1151.8 682.8L1152.4 685.1L1153.0 686.6L1153.6 686.0L1154.1 684.4L1154.7 685.5L1155.3 684.1L1155.9 685.2L1156.4 683.9L1157.0 684.9L1157.6 687.4L1158.2 685.7L1158.7 686.7L1159.3 683.6L1159.9 683.7L1160.5 684.6L1161.0 685.4L1161.6 684.4L1162.2 686.0L1162.8 683.9L1163.3 686.5L1163.9 685.9L1164.5 683.1L1165.1 685.4L1165.6 684.3L1166.2 686.0L1166.8 683.9L1167.4 685.0L1167.9 685.3L1168.5 680.9L1169.1 682.0L1169.7 684.7L1170.2 684.4L1170.8 685.9L1171.4 684.8L1172.0 682.8L1172.5 685.0L1173.1 683.5L1173.7 684.2L1174.3 683.8L1174.8 684.9L1175.4 682.5L1176.0 682.9L1176.6 681.4L1177.1 687.3L1177.7 683.0L1178.3 683.2L1178.9 682.8L1179.4 683.5L1180.0 683.7L1180.6 685.1L1181.2 684.5L1181.7 684.7L1182.3 683.4L1182.9 684.1L1183.5 685.8L1184.0 684.1L1184.6 684.5L1185.2 681.3L1185.8 684.7L1186.3 684.3L1186.9 685.6L1187.5 680.1L1188.1 683.8L1188.6 683.5L1189.2 683.7L1189.8 682.6L1190.4 683.6L1190.9 684.2L1191.5 683.1L1192.1 682.5L1192.7 682.4L1193.2 681.9L1193.8 682.1L1194.4 680.6L1195.0 678.3L1195.5 681.9L1196.1 676.2L1196.7 676.1L1197.3 670.9L1197.8 667.3L1198.4 660.0L1199.0 654.2L1199.6 646.8L1200.1 642.8L1200.7 645.6L1201.3 649.8L1201.9 650.8L1202.4 650.4L1203.0 645.8L1203.6 641.9L1204.2 637.5L1204.7 634.4L1205.3 640.2L1205.9 646.7L1206.5 656.1L1207.0 663.0L1207.6 669.2L1208.2 674.6L1208.8 677.7L1209.3 679.5L1209.9 678.7L1210.5 679.8L1211.1 681.3L1211.6 679.2L1212.2 683.4L1212.8 682.6L1213.4 682.4L1213.9 681.5L1214.5 683.7L1215.1 682.3L1215.7 685.3L1216.2 683.4L1216.8 680.9L1217.4 683.9L1218.0 682.2L1218.5 682.2L1219.1 682.6L1219.7 682.7L1220.3 683.3L1220.8 683.9L1221.4 683.5L1222.0 681.8L1222.6 680.9L1223.1 681.6L1223.7 683.1L1224.3 683.7L1224.9 684.9L1225.4 680.5L1226.0 682.3L1226.6 681.8L1227.2 681.3L1227.7 681.8L1228.3 681.0L1228.9 680.7L1229.5 679.7L1230.0 680.5L1230.6 680.6L1231.2 680.3L1231.8 676.0L1232.3 673.5L1232.9 672.4L1233.5 668.9L1234.1 668.3L1234.6 662.3L1235.2 659.7L1235.8 654.0L1236.4 652.0L1236.9 650.0L1237.5 650.0L1238.1 645.8L1238.7 646.3L1239.2 642.2L1239.8 642.5L1240.4 642.4L1241.0 642.9L1241.5 645.2L1242.1 647.9L1242.7 648.4L1243.3 655.4L1243.8 657.6L1244.4 665.8L1245.0 667.5L1245.6 670.6L1246.1 672.8L1246.7 675.2L1247.3 676.9L1247.9 677.2L1248.4 680.1L1249.0 680.1L1249.6 681.3L1250.2 680.6L1250.7 681.8L1251.3 680.1L1251.9 686.1L1252.5 680.4L1253.0 680.9L1253.6 682.8L1254.2 683.2L1254.8 680.5L1255.3 679.2L1255.9 679.4L1256.5 679.7L1257.1 679.5L1257.6 679.5L1258.2 680.0L1258.8 678.6L1259.4 674.7L1259.9 674.7L1260.5 674.4L1261.1 675.3L1261.7 673.8L1262.2 673.6L1262.8 675.6L1263.4 675.9L1264.0 671.9L1264.5 674.0L1265.1 673.3L1265.7 671.5L1266.3 671.6L1266.8 674.9L1267.4 677.1L1268.0 679.7L1268.5 677.7L1269.1 683.9L1269.7 684.1L1270.3 680.2L1270.8 678.7L1271.4 681.0L1272.0 681.7L1272.6 682.7L1273.1 681.5L1273.7 679.8L1274.3 676.9L1274.9 679.6L1275.4 679.6L1276.0 677.9L1276.6 678.8L1277.2 678.9L1277.7 678.3L1278.3 676.8L1278.9 678.4L1279.5 675.5L1280.0 678.9L1280.6 675.7L1281.2 677.9L1281.8 676.8L1282.3 678.8L1282.9 678.4L1283.5 679.6L1284.1 677.9L1284.6 676.7L1285.2 678.3L1285.8 678.0L1286.4 676.1L1286.9 676.9L1287.5 675.1L1288.1 677.1L1288.7 675.9L1289.2 675.8L1289.8 678.6L1290.4 674.5L1291.0 673.8L1291.5 673.1L1292.1 670.7L1292.7 668.6L1293.3 668.7L1293.8 666.6L1294.4 658.3L1295.0 657.9L1295.6 651.6L1296.1 642.0L1296.7 629.6L1297.3 604.1L1297.9 572.1L1298.4 524.6L1299.0 470.0L1299.6 416.0L1300.2 373.2L1300.7 363.3L1301.3 378.6L1301.9 402.2L1302.5 414.7L1303.0 402.1L1303.6 365.3L1304.2 321.0L1304.8 295.6L1305.3 299.5L1305.9 348.1L1306.5 419.0L1307.1 485.9L1307.6 543.8L1308.2 587.9L1308.8 616.8L1309.4 633.4L1309.9 646.7L1310.5 651.7L1311.1 656.1L1311.7 659.5L1312.2 661.4L1312.8 664.2L1313.4 665.0L1314.0 664.3L1314.5 666.0L1315.1 664.9L1315.7 664.1L1316.3 663.0L1316.8 661.4L1317.4 654.9L1318.0 647.6L1318.6 635.6L1319.1 617.4L1319.7 598.7L1320.3 582.4L1320.9 575.3L1321.4 577.8L1322.0 586.2L1322.6 588.4L1323.2 591.2L1323.7 583.6L1324.3 571.9L1324.9 555.5L1325.5 550.7L1326.0 557.9L1326.6 578.1L1327.2 599.3L1327.8 618.1L1328.3 631.6L1328.9 638.5L1329.5 643.6L1330.1 644.4L1330.6 644.3L1331.2 643.6L1331.8 646.9L1332.4 648.7L1332.9 645.5L1333.5 645.1L1334.1 639.2L1334.7 632.6L1335.2 625.8L1335.8 616.2L1336.4 607.3L1337.0 593.3L1337.5 572.3L1338.1 551.5L1338.7 536.9L1339.3 534.6L1339.8 544.2L1340.4 553.7L1341.0 560.8L1341.6 554.6L1342.1 541.5L1342.7 522.7L1343.3 510.1L1343.9 511.3L1344.4 531.5L1345.0 561.6L1345.6 593.9L1346.2 617.8L1346.7 636.3L1347.3 650.8L1347.9 658.1L1348.5 665.4L1349.0 670.2L1349.6 669.4L1350.2 671.5L1350.8 670.1L1351.3 673.2L1351.9 672.6L1352.5 672.4L1353.1 671.4L1353.6 675.8L1354.2 670.7L1354.8 669.9L1355.4 669.2L1355.9 666.4L1356.5 662.5L1357.1 658.3L1357.7 654.0L1358.2 655.5L1358.8 656.0L1359.4 655.5L1360.0 660.4L1360.5 656.7L1361.1 655.8L1361.7 649.2L1362.3 647.1L1362.8 648.4L1363.4 651.6L1364.0 658.8L1364.6 660.0L1365.1 666.2L1365.7 667.3L1366.3 671.0L1366.9 671.3L1367.4 670.3L1368.0 673.7L1368.6 669.9L1369.2 670.4L1369.7 665.6L1370.3 665.3L1370.9 662.9L1371.5 659.1L1372.0 652.5L1372.6 642.2L1373.2 623.9L1373.8 604.1L1374.3 570.9L1374.9 530.0L1375.5 484.9L1376.1 445.2L1376.6 420.8L1377.2 425.5L1377.8 443.9L1378.4 459.6L1378.9 459.1L1379.5 438.1L1380.1 403.7L1380.7 371.0L1381.2 362.2L1381.8 385.8L1382.4 438.2L1383.0 492.9L1383.5 547.7L1384.1 589.3L1384.7 618.7L1385.3 635.3L1385.8 646.7L1386.4 653.8L1387.0 661.0L1387.5 668.1L1388.1 667.7L1388.7 667.8L1389.3 671.5L1389.8 671.9L1390.4 673.7L1391.0 673.8L1391.6 673.4L1392.1 675.2L1392.7 677.4L1393.3 677.4L1393.9 679.1L1394.4 676.4L1395.0 679.6L1395.6 678.6L1396.2 679.0L1396.7 680.7L1397.3 679.0L1397.9 679.8L1398.5 680.4L1399.0 680.6L1399.6 680.9L1400.2 681.7L1400.8 680.8L1401.3 679.5L1401.9 683.5L1402.5 680.2L1403.1 680.7L1403.6 679.2L1404.2 677.2L1404.8 679.1L1405.4 680.1L1405.9 680.6L1406.5 679.8L1407.1 680.6L1407.7 680.5L1408.2 680.0L1408.8 677.9L1409.4 676.8L1410.0 674.3L1410.5 670.3L1411.1 669.0L1411.7 659.8L1412.3 655.1L1412.8 649.9L1413.4 643.8L1414.0 648.2L1414.6 649.3L1415.1 652.2L1415.7 651.4L1416.3 647.1L1416.9 644.8L1417.4 640.1L1418.0 639.8L1418.6 642.4L1419.2 646.4L1419.7 658.0L1420.3 664.6L1420.9 670.1L1421.5 673.6L1422.0 674.5L1422.6 677.6L1423.2 677.3L1423.8 682.2L1424.3 678.2L1424.9 677.1L1425.5 678.0L1426.1 680.1L1426.6 676.7L1427.2 673.0L1427.8 676.3L1428.4 671.7L1428.9 666.3L1429.5 662.3L1430.1 653.7L1430.7 647.8L1431.2 647.7L1431.8 646.3L1432.4 650.4L1433.0 651.8L1433.5 652.9L1434.1 649.3L1434.7 641.7L1435.3 640.8L1435.8 637.8L1436.4 643.1L1437.0 649.1L1437.6 658.9L1438.1 663.7L1438.7 667.1L1439.3 673.4L1439.9 677.2L1440.4 677.7L1441.0 678.5L1441.6 681.8L1442.2 680.1L1442.7 682.1L1443.3 681.2L1443.9 679.2L1444.5 680.1L1445.0 681.1L1445.6 682.1L1446.2 680.7L1446.8 680.0L1447.3 680.6L1447.9 681.4L1448.5 680.9L1449.1 681.4L1449.6 684.8L1450.2 682.7L1450.8 681.2L1451.4 682.4L1451.9 684.5L1452.5 683.3L1453.1 682.3L1453.7 680.7L1454.2 680.2L1454.8 682.1L1455.4 682.4L1456.0 680.4L1456.5 680.8L1457.1 682.5L1457.7 679.6L1458.3 680.3L1458.8 682.6L1459.4 683.4L1460.0 683.1L1460.6 684.0L1461.1 684.8L1461.7 683.9L1462.3 682.3L1462.9 685.6L1463.4 685.0L1464.0 684.0L1464.6 681.6L1465.2 683.3L1465.7 679.9L1466.3 682.3L1466.9 679.4L1467.5 682.2L1468.0 684.1L1468.6 682.8L1469.2 684.9L1469.8 682.7L1470.3 682.9L1470.9 682.3L1471.5 683.4L1472.1 682.7L1472.6 684.3L1473.2 684.9L1473.8 683.2L1474.4 681.2L1474.9 683.5L1475.5 684.5L1476.1 683.6L1476.7 683.1L1477.2 683.9L1477.8 684.4L1478.4 679.1L1479.0 684.7L1479.5 683.7L1480.1 683.3L1480.7 681.9L1481.3 682.9L1481.8 683.4L1482.4 680.6L1483.0 683.6L1483.6 682.6L1484.1 684.5L1484.7 683.4L1485.3 682.2L1485.9 682.5L1486.4 683.3L1487.0 682.6L1487.6 683.1L1488.2 681.4L1488.7 680.6L1489.3 681.5L1489.9 680.3L1490.5 681.1L1491.0 682.6L1491.6 679.9L1492.2 680.3L1492.8 682.9L1493.3 681.1L1493.9 681.7L1494.5 679.9L1495.1 680.0L1495.6 680.8L1496.2 683.2L1496.8 681.4L1497.4 678.2L1497.9 680.7L1498.5 681.0L1499.1 680.2L1499.7 677.1L1500.2 678.1L1500.8 680.4L1501.4 675.6L1502.0 676.5L1502.5 674.3L1503.1 672.9L1503.7 673.3L1504.3 674.6L1504.8 674.1L1505.4 670.8L1506.0 671.0L1506.6 670.1L1507.1 668.2L1507.7 671.7L1508.3 673.0L1508.8 673.0L1509.4 670.5L1510.0 673.2L1510.6 673.3L1511.1 671.8L1511.7 672.7L1512.3 672.5L1512.9 673.7L1513.4 676.0L1514.0 672.3L1514.6 671.8L1515.2 674.2L1515.7 672.6L1516.3 669.2L1516.9 669.4L1517.5 668.5L1518.0 667.5L1518.6 667.4L1519.2 666.9L1519.8 663.9L1520.3 663.1L1520.9 660.9L1521.5 662.4L1522.1 662.2L1522.6 659.7L1523.2 658.8L1523.8 662.6L1524.4 661.3L1524.9 659.5L1525.5 659.3L1526.1 662.4L1526.7 665.9L1527.2 665.3L1527.8 667.4L1528.4 668.8L1529.0 672.0L1529.5 674.5L1530.1 672.4L1530.7 674.9L1531.3 676.1L1531.8 676.5L1532.4 676.5L1533.0 679.9L1533.6 679.5L1534.1 680.7L1534.7 682.1L1535.3 679.9L1535.9 681.3L1536.4 680.2L1537.0 680.8L1537.6 681.5L1538.2 680.9L1538.7 679.1L1539.3 683.3L1539.9 681.5L1540.5 679.8L1541.0 678.4L1541.6 681.3L1542.2 682.3L1542.8 682.7L1543.3 682.9L1543.9 680.8L1544.5 682.1L1545.1 679.1L1545.6 681.3L1546.2 682.3L1546.8 680.0L1547.4 680.4L1547.9 680.5L1548.5 680.1L1549.1 681.4L1549.7 677.2L1550.2 679.5L1550.8 674.7L1551.4 674.1L1552.0 672.2L1552.5 671.4L1553.1 669.0L1553.7 668.7L1554.3 666.9L1554.8 669.0L1555.4 666.1L1556.0 664.9L1556.6 665.4L1557.1 665.3L1557.7 663.8L1558.3 662.4L1558.9 663.3L1559.4 665.7L1560.0 668.4L1560.6 670.0L1561.2 671.4L1561.7 674.3L1562.3 674.7L1562.9 677.2L1563.5 680.0L1564.0 680.6L1564.6 681.6L1565.2 679.8L1565.8 681.0L1566.3 679.6L1566.9 682.4L1567.5 680.8L1568.1 679.7L1568.6 680.9L1569.2 682.0L1569.8 678.7L1570.4 679.9L1570.9 683.2L1571.5 682.0L1572.1 681.8L1572.7 679.8L1573.2 684.1L1573.8 683.4L1574.4 683.0L1575.0 680.5L1575.5 682.8L1576.1 683.6L1576.7 681.6L1577.3 681.7L1577.8 681.4L1578.4 682.9L1579.0 681.7L1579.6 681.6L1580.1 680.1L1580.7 679.8L1581.3 683.3L1581.9 684.1L1582.4 683.1L1583.0 683.8L1583.6 681.1L1584.2 681.6L1584.7 681.9L1585.3 680.9L1585.9 682.9L1586.5 678.1L1587.0 678.3L1587.6 677.8L1588.2 676.7L1588.8 678.7L1589.3 675.1L1589.9 679.6L1590.5 679.5L1591.1 678.5L1591.6 679.5L1592.2 680.1L1592.8 676.7L1593.4 677.6L1593.9 677.8L1594.5 679.0L1595.1 678.6L1595.7 679.2L1596.2 681.6L1596.8 680.5L1597.4 682.7L1598.0 682.7L1598.5 681.1L1599.1 682.3L1599.7 682.0L1600.3 681.7L1600.8 683.4L1601.4 682.0L1602.0 682.2L1602.6 679.3L1603.1 682.7L1603.7 680.0L1604.3 681.4L1604.9 684.1L1605.4 684.3L1606.0 681.4L1606.6 680.2L1607.2 682.4L1607.7 681.3L1608.3 682.3L1608.9 680.0L1609.5 683.3L1610.0 683.9L1610.6 679.8L1611.2 680.7L1611.8 680.7L1612.3 682.6L1612.9 678.9L1613.5 681.8L1614.1 681.2L1614.6 680.4L1615.2 682.3L1615.8 678.7L1616.4 679.4L1616.9 680.1L1617.5 682.0L1618.1 680.5L1618.7 679.7L1619.2 681.3L1619.8 679.9L1620.4 679.4L1621.0 679.7L1621.5 680.3L1622.1 683.1L1622.7 677.7L1623.3 679.1L1623.8 678.0L1624.4 677.3L1625.0 679.1L1625.6 677.4L1626.1 676.5L1626.7 674.2L1627.3 672.7L1627.8 673.3L1628.4 671.5L1629.0 670.0L1629.6 670.7L1630.1 667.1L1630.7 666.7L1631.3 667.8L1631.9 665.7L1632.4 666.0L1633.0 663.3L1633.6 665.0L1634.2 662.7L1634.7 665.4L1635.3 664.6L1635.9 664.4L1636.5 666.2L1637.0 665.2L1637.6 664.5L1638.2 668.3L1638.8 667.6L1639.3 669.8L1639.9 669.4L1640.5 671.9L1641.1 670.2L1641.6 670.6L1642.2 671.3L1642.8 675.1L1643.4 672.2L1643.9 673.1L1644.5 674.2L1645.1 676.9L1645.7 677.6L1646.2 676.2L1646.8 678.6L1647.4 678.1L1648.0 679.3L1648.5 678.8L1649.1 676.2L1649.7 676.7L1650.3 675.0L1650.8 673.8L1651.4 670.3L1652.0 665.5L1652.6 660.5L1653.1 653.1L1653.7 648.1L1654.3 644.1L1654.9 644.5L1655.4 648.6L1656.0 650.9L1656.6 651.3L1657.2 647.7L1657.7 641.7L1658.3 637.5L1658.9 635.9L1659.5 636.9L1660.0 645.1L1660.6 657.0L1661.2 662.4L1661.8 664.6L1662.3 672.4L1662.9 675.5L1663.5 675.4L1664.1 681.2L1664.6 680.3L1665.2 680.4L1665.8 679.4L1666.4 680.6L1666.9 681.3L1667.5 681.0L1668.1 679.7L1668.7 681.0L1669.2 681.0L1669.8 681.3L1670.4 679.6L1671.0 681.4L1671.5 681.2L1672.1 681.5L1672.7 681.5L1673.3 679.4L1673.8 682.5L1674.4 682.4L1675.0 679.6L1675.6 681.3L1676.1 680.3L1676.7 680.9L1677.3 682.9L1677.9 682.2L1678.4 684.2L1679.0 681.7L1679.6 680.1L1680.2 681.7L1680.7 678.3L1681.3 684.0L1681.9 681.9L1682.5 682.2L1683.0 681.8L1683.6 680.5L1684.2 681.4L1684.8 680.5L1685.3 680.9L1685.9 682.0L1686.5 680.0L1687.1 683.8L1687.6 680.1L1688.2 682.7L1688.8 680.7L1689.4 679.9L1689.9 682.1L1690.5 681.8L1691.1 681.2L1691.7 681.4L1692.2 680.7L1692.8 682.1L1693.4 680.8L1694.0 681.5L1694.5 682.9L1695.1 679.7L1695.7 680.6L1696.3 680.5L1696.8 680.3L1697.4 679.5L1698.0 681.0L1698.6 681.5L1699.1 681.1L1699.7 679.1L1700.3 682.1L1700.9 682.1L1701.4 681.3L1702.0 679.8L1702.6 679.9L1703.2 683.7L1703.7 683.3L1704.3 681.6L1704.9 679.7L1705.5 682.5L1706.0 681.0L1706.6 682.9L1707.2 679.7L1707.8 681.0L1708.3 679.9L1708.9 681.0L1709.5 678.9L1710.1 680.7L1710.6 678.6L1711.2 677.5L1711.8 679.0L1712.4 678.1L1712.9 674.4L1713.5 676.5L1714.1 676.0L1714.7 675.4L1715.2 677.2L1715.8 672.9L1716.4 673.0L1717.0 670.1L1717.5 669.8L1718.1 670.5L1718.7 670.7L1719.3 670.4L1719.8 671.3L1720.4 671.4L1721.0 671.8L1721.6 670.4L1722.1 671.5L1722.7 670.4L1723.3 672.3L1723.9 673.1L1724.4 672.5L1725.0 669.5L1725.6 673.7L1726.2 678.6L1726.7 675.6L1727.3 675.3L1727.9 676.7L1728.5 678.4L1729.0 677.5L1729.6 676.8L1730.2 675.3L1730.8 676.5L1731.3 675.1L1731.9 676.9L1732.5 678.1L1733.1 677.1L1733.6 674.5L1734.2 673.7L1734.8 672.9L1735.4 675.2L1735.9 675.2L1736.5 675.4L1737.1 674.8L1737.7 672.7L1738.2 671.9L1738.8 676.2L1739.4 673.9L1740.0 678.0L1740.5 673.1L1741.1 675.0L1741.7 675.7L1742.3 677.9L1742.8 678.9L1743.4 677.6L1744.0 679.5L1744.6 677.2L1745.1 678.6L1745.7 677.8L1746.3 678.8L1746.8 678.8L1747.4 680.1L1748.0 684.4L1748.6 677.9L1749.1 679.5L1749.7 680.7L1750.3 679.8L1750.9 681.6L1751.4 678.2L1752.0 680.6L1752.6 678.4L1753.2 680.5L1753.7 679.5L1754.3 679.4L1754.9 678.1L1755.5 676.2L1756.0 676.8L1756.6 678.9L1757.2 677.0L1757.8 677.6L1758.3 673.9L1758.9 675.3L1759.5 674.3L1760.1 668.1L1760.6 669.4L1761.2 669.4L1761.8 663.5L1762.4 663.8L1762.9 661.0L1763.5 661.0L1764.1 658.7L1764.7 657.6L1765.2 657.5L1765.8 656.8L1766.4 655.8L1767.0 655.0L1767.5 657.9L1768.1 656.7L1768.7 657.5L1769.3 659.9L1769.8 663.7L1770.4 661.7L1771.0 666.6L1771.6 667.5L1772.1 668.3L1772.7 665.3L1773.3 663.6L1773.9 663.0L1774.4 660.5L1775.0 659.1L1775.6 653.8L1776.2 649.3L1776.7 643.8L1777.3 641.0L1777.9 637.1L1778.5 634.6L1779.0 629.8L1779.6 628.7L1780.2 626.5L1780.8 622.2L1781.3 620.7L1781.9 620.9L1782.5 621.6L1783.1 621.8L1783.6 625.8L1784.2 628.8L1784.8 633.4L1785.4 636.6L1785.9 640.5L1786.5 646.5L1787.1 649.4L1787.7 655.2L1788.2 657.9L1788.8 663.9L1789.4 661.7L1790.0 669.0L1790.5 671.2L1791.1 671.6L1791.7 673.6L1792.3 674.5L1792.8 676.9L1793.4 678.1L1794.0 676.4L1794.6 679.1L1795.1 676.4L1795.7 678.1L1796.3 678.4L1796.9 676.4L1797.4 678.7L1798.0 677.5L1798.6 679.7L1799.2 677.5L1799.7 676.4L1800.3 677.2L1800.9 679.1L1801.5 679.5L1802.0 679.7L1802.6 678.2L1803.2 680.4L1803.8 678.6L1804.3 679.1L1804.9 680.8L1805.5 679.3L1806.1 677.0L1806.6 680.5L1807.2 679.6L1807.8 679.1L1808.4 681.3L1808.9 678.7L1809.5 680.5L1810.1 679.8L1810.7 683.1L1811.2 677.1L1811.8 679.8L1812.4 680.0L1813.0 681.0L1813.5 678.9L1814.1 678.5L1814.7 681.2L1815.3 678.7L1815.8 679.5L1816.4 679.0L1817.0 679.4L1817.6 676.9L1818.1 677.8L1818.7 678.2L1819.3 678.1L1819.9 679.1L1820.4 677.8L1821.0 677.3L1821.6 675.7L1822.2 676.5L1822.7 672.9L1823.3 672.4L1823.9 669.1L1824.5 668.1L1825.0 669.0L1825.6 666.1L1826.2 662.0L1826.8 662.9L1827.3 661.3L1827.9 659.0L1828.5 660.1L1829.1 658.6L1829.6 658.5L1830.2 659.5L1830.8 657.3L1831.4 659.8L1831.9 658.5L1832.5 659.5L1833.1 662.9L1833.7 663.2L1834.2 663.7L1834.8 665.6L1835.4 667.5L1836.0 666.4L1836.5 670.1L1837.1 669.6L1837.7 667.8L1838.3 667.4L1838.8 667.7L1839.4 660.9L1840.0 659.5L1840.6 646.7L1841.1 638.2L1841.7 624.0L1842.3 619.7L1842.9 617.2L1843.4 621.9L1844.0 626.1L1844.6 627.4L1845.2 628.5L1845.7 620.1L1846.3 609.6L1846.9 605.2L1847.5 602.5L1848.0 615.1L1848.6 630.9L1849.2 641.7L1849.8 653.7L1850.3 660.2L1850.9 668.4L1851.5 671.1L1852.1 673.1L1852.6 675.8L1853.2 677.6L1853.8 677.2L1854.4 674.3L1854.9 677.6L1855.5 677.7L1856.1 676.1L1856.7 675.6L1857.2 677.4L1857.8 677.7L1858.4 678.2L1859.0 677.4L1859.5 678.6L1860.1 678.9L1860.7 678.1L1861.3 679.0L1861.8 677.7L1862.4 676.4L1863.0 678.4L1863.6 679.6L1864.1 681.9L1864.7 675.3L1865.3 677.3L1865.9 676.5L1866.4 677.7L1867.0 675.5L1867.6 675.8L1868.1 675.4L1868.7 670.8L1869.3 668.5L1869.9 667.1L1870.4 662.3L1871.0 656.1L1871.6 660.3L1872.2 657.7L1872.7 660.6L1873.3 660.3L1873.9 659.3L1874.5 656.6L1875.0 655.2L1875.6 651.2L1876.2 651.0L1876.8 655.1L1877.3 660.5L1877.9 662.3L1878.5 669.7L1879.1 670.3L1879.6 673.8L1880.2 675.5L1880.8 674.3L1881.4 674.4L1881.9 672.6L1882.5 671.7L1883.1 669.2L1883.7 670.5L1884.2 668.9L1884.8 665.3L1885.4 667.6L1886.0 668.2L1886.5 665.7L1887.1 666.0L1887.7 663.4L1888.3 661.8L1888.8 662.8L1889.4 661.9L1890.0 660.6L1890.6 663.4L1891.1 662.3L1891.7 661.4L1892.3 662.9L1892.9 662.8L1893.4 664.0L1894.0 665.3L1894.6 661.9L1895.2 660.3L1895.7 662.4L1896.3 662.0L1896.9 655.8L1897.5 652.7L1898.0 649.4L1898.6 648.0L1899.2 645.3L1899.8 642.1L1900.3 641.4L1900.9 637.5L1901.5 636.5L1902.1 634.8L1902.6 637.8L1903.2 637.2L1903.8 637.9L1904.4 636.1L1904.9 640.9L1905.5 642.2L1906.1 646.1L1906.7 649.6L1907.2 652.2L1907.8 656.1L1908.4 657.7L1909.0 662.2L1909.5 665.4L1910.1 666.5L1910.7 670.2L1911.3 673.4L1911.8 672.3L1912.4 672.8L1913.0 673.7L1913.6 675.8L1914.1 678.4L1914.7 676.7L1915.3 676.9L1915.9 675.4L1916.4 677.7L1917.0 678.2L1917.6 677.0L1918.2 677.6L1918.7 676.8L1919.3 678.7L1919.9 679.6L1920.5 678.3L1921.0 678.4L1921.6 677.8L1922.2 676.8L1922.8 676.5L1923.3 676.9L1923.9 677.4L1924.5 677.0L1925.1 678.0L1925.6 677.1L1926.2 677.3L1926.8 675.1L1927.4 671.6L1927.9 669.0L1928.5 662.2L1929.1 660.9L1929.7 651.6L1930.2 646.1L1930.8 646.1L1931.4 642.8L1932.0 645.9L1932.5 648.8L1933.1 648.0L1933.7 646.2L1934.3 641.7L1934.8 637.6L1935.4 635.1L1936.0 639.6L1936.6 645.1L1937.1 654.3L1937.7 662.1L1938.3 663.7L1938.9 669.6L1939.4 672.6L1940.0 671.3L1940.6 670.5L1941.2 675.4L1941.7 674.1L1942.3 675.6L1942.9 673.6L1943.5 671.9L1944.0 669.1L1944.6 666.6L1945.2 661.7L1945.8 659.1L1946.3 659.2L1946.9 658.1L1947.5 660.6L1948.1 661.1L1948.6 660.7L1949.2 658.3L1949.8 658.0L1950.4 653.1L1950.9 653.8L1951.5 653.0L1952.1 659.3L1952.7 663.9L1953.2 666.4L1953.8 668.0L1954.4 672.0L1955.0 673.5L1955.5 673.2L1956.1 673.0L1956.7 674.6L1957.3 672.3L1957.8 670.1L1958.4 668.9L1959.0 663.1L1959.6 655.7L1960.1 649.4L1960.7 638.3L1961.3 631.7L1961.9 625.1L1962.4 627.3L1963.0 632.3L1963.6 634.5L1964.2 634.5L1964.7 630.4L1965.3 624.0L1965.9 616.1L1966.5 614.4L1967.0 618.5L1967.6 631.8L1968.2 639.8L1968.8 652.7L1969.3 658.6L1969.9 666.5L1970.5 671.3L1971.1 670.3L1971.6 675.4L1972.2 672.3L1972.8 672.5L1973.4 673.6L1973.9 671.0L1974.5 672.8L1975.1 671.2L1975.7 666.5L1976.2 668.5L1976.8 670.1L1977.4 672.1L1978.0 670.1L1978.5 670.1L1979.1 671.0L1979.7 667.9L1980.3 669.3L1980.8 667.6L1981.4 672.1L1982.0 674.1L1982.6 671.9L1983.1 671.1L1983.7 672.4L1984.3 675.9L1984.9 673.3L1985.4 674.3L1986.0 669.1L1986.6 666.5L1987.1 663.4L1987.7 659.9L1988.3 653.0L1988.9 648.1L1989.4 648.9L1990.0 650.1L1990.6 652.8L1991.2 652.8L1991.7 651.0L1992.3 648.5L1992.9 640.9L1993.5 641.6L1994.0 643.5L1994.6 647.0L1995.2 651.2L1995.8 656.5L1996.3 665.4L1996.9 666.5L1997.5 669.1L1998.1 670.9L1998.6 670.3L1999.2 671.1L1999.8 672.7L2000.4 669.4L2000.9 671.9L2001.5 668.9L2002.1 667.8L2002.7 667.5L2003.2 666.1L2003.8 665.0L2004.4 662.9L2005.0 660.0L2005.5 661.5L2006.1 657.8L2006.7 655.7L2007.3 656.9L2007.8 655.7L2008.4 654.0L2009.0 653.7L2009.6 654.1L2010.1 655.8L2010.7 653.4L2011.3 652.2L2011.9 653.8L2012.4 656.2L2013.0 656.4L2013.6 657.1L2014.2 660.4L2014.7 662.0L2015.3 662.3L2015.9 664.4L2016.5 664.7L2017.0 666.2L2017.6 667.9L2018.2 667.7L2018.8 671.1L2019.3 671.6L2019.9 671.9L2020.5 673.6L2021.1 674.3L2021.6 673.8L2022.2 674.5L2022.8 674.7L2023.4 677.9L2023.9 674.2L2024.5 676.6L2025.1 678.1L2025.7 675.7L2026.2 676.0L2026.8 676.1L2027.4 675.1L2028.0 679.2L2028.5 677.4L2029.1 676.3L2029.7 676.9L2030.3 678.0L2030.8 677.4L2031.4 676.6L2032.0 678.5L2032.6 676.6L2033.1 677.2L2033.7 677.9L2034.3 676.7L2034.9 677.7L2035.4 676.7L2036.0 681.0L2036.6 676.8L2037.2 678.1L2037.7 675.9L2038.3 675.3L2038.9 676.3L2039.5 675.7L2040.0 675.2L2040.6 674.9L2041.2 675.3L2041.8 675.6L2042.3 674.4L2042.9 670.1L2043.5 670.5L2044.1 668.0L2044.6 662.3L2045.2 659.7L2045.8 657.3L2046.4 657.4L2046.9 652.2L2047.5 650.2L2048.1 651.0L2048.7 648.0L2049.2 647.3L2049.8 647.7L2050.4 646.8L2051.0 643.3L2051.5 645.5L2052.1 649.5L2052.7 648.9L2053.3 655.3L2053.8 656.8L2054.4 660.5L2055.0 663.6L2055.6 663.6L2056.1 667.4L2056.7 669.0L2057.3 672.4L2057.9 675.5L2058.4 674.2L2059.0 675.4L2059.6 673.3L2060.2 675.9L2060.7 676.4L2061.3 676.7L2061.9 678.0L2062.5 679.3L2063.0 677.5L2063.6 678.2L2064.2 675.7L2064.8 678.7L2065.3 678.0L2065.9 675.6L2066.5 678.5L2067.1 677.2L2067.6 679.4L2068.2 678.7L2068.8 678.2L2069.4 680.4L2069.9 677.9L2070.5 677.6L2071.1 678.0L2071.7 678.0L2072.2 676.4L2072.8 677.9L2073.4 677.1L2074.0 675.0L2074.5 672.5L2075.1 675.0L2075.7 674.0L2076.3 672.8L2076.8 673.1L2077.4 674.7L2078.0 673.1L2078.6 674.9L2079.1 671.9L2079.7 670.0L2080.3 670.3L2080.9 669.5L2081.4 671.3L2082.0 674.4L2082.6 674.0L2083.2 676.2L2083.7 678.6L2084.3 678.8L2084.9 676.8L2085.5 675.8L2086.0 679.2L2086.6 674.2L2087.2 672.0L2087.8 670.1L2088.3 672.4L2088.9 666.8L2089.5 667.0L2090.1 666.8L2090.6 669.3L2091.2 666.6L2091.8 668.9L2092.4 668.8L2092.9 669.0L2093.5 665.1L2094.1 664.6L2094.7 664.2L2095.2 667.8L2095.8 670.1L2096.4 670.8L2097.0 674.1L2097.5 672.8L2098.1 675.8L2098.7 675.0L2099.3 675.8L2099.8 677.5L2100.4 678.5L2101.0 674.9L2101.6 672.9L2102.1 670.7L2102.7 670.0L2103.3 666.8L2103.9 667.3L2104.4 668.3L2105.0 667.9L2105.6 667.3L2106.1 668.8L2106.7 665.9L2107.3 662.8L2107.9 665.1L2108.4 665.6L2109.0 665.9L2109.6 666.1L2110.2 664.7L2110.7 670.7L2111.3 674.4L2111.9 674.3L2112.5 677.5L2113.0 674.9L2113.6 676.7L2114.2 676.0L2114.8 675.4L2115.3 672.1L2115.9 672.2L2116.5 670.6L2117.1 667.4L2117.6 664.0L2118.2 664.0L2118.8 663.5L2119.4 666.2L2119.9 667.8L2120.5 666.9L2121.1 665.8L2121.7 663.3L2122.2 662.0L2122.8 658.4L2123.4 662.3L2124.0 665.8L2124.5 666.6L2125.1 670.7L2125.7 669.6L2126.3 672.8L2126.8 673.0L2127.4 673.9L2128.0 673.0L2128.6 674.8L2129.1 665.6L2129.7 664.9L2130.3 661.3L2130.9 655.7L2131.4 646.1L2132.0 636.6L2132.6 626.8L2133.2 622.5L2133.7 623.9L2134.3 630.9L2134.9 630.8L2135.5 635.3L2136.0 628.6L2136.6 619.2L2137.2 612.9L2137.8 609.6L2138.3 609.6L2138.9 616.7L2139.5 629.4L2140.1 633.5L2140.6 641.8L2141.2 646.9L2141.8 648.6L2142.4 655.7L2142.9 657.7L2143.5 658.9L2144.1 655.7L2144.7 654.1L2145.2 652.5L2145.8 652.5L2146.4 658.4L2147.0 661.9L2147.5 667.1L2148.1 669.2L2148.7 673.0L2149.3 672.1L2149.8 673.7L2150.4 676.7L2151.0 675.5L2151.6 675.6L2152.1 676.6L2152.7 674.4L2153.3 676.9L2153.9 677.4L2154.4 676.4L2155.0 675.3L2155.6 679.1L2156.2 677.2L2156.7 675.0L2157.3 675.2L2157.9 673.2L2158.5 672.0L2159.0 670.5L2159.6 670.3L2160.2 670.4L2160.8 669.6L2161.3 668.1L2161.9 670.1L2162.5 670.1L2163.1 668.1L2163.6 668.1L2164.2 668.5L2164.8 667.7L2165.4 667.2L2165.9 664.0L2166.5 664.6L2167.1 671.8L2167.7 670.6L2168.2 673.8L2168.8 673.4L2169.4 672.0L2170.0 675.8L2170.5 674.1L2171.1 674.6L2171.7 671.8L2172.3 667.0L2172.8 664.3L2173.4 660.3L2174.0 651.6L2174.6 646.2L2175.1 642.6L2175.7 638.1L2176.3 641.1L2176.9 644.5L2177.4 646.7L2178.0 643.6L2178.6 638.6L2179.2 634.8L2179.7 629.4L2180.3 631.5L2180.9 636.8L2181.5 643.6L2182.0 652.4L2182.6 658.5L2183.2 658.5L2183.8 661.6L2184.3 658.6L2184.9 653.5L2185.5 646.4L2186.1 638.3L2186.6 626.6L2187.2 619.2L2187.8 616.2L2188.4 620.9L2188.9 625.7L2189.5 626.5L2190.1 625.2L2190.7 620.0L2191.2 613.1L2191.8 605.3L2192.4 610.0L2193.0 617.8L2193.5 630.5L2194.1 643.0L2194.7 653.0L2195.3 660.0L2195.8 666.1L2196.4 669.8L2197.0 672.1L2197.6 675.3L2198.1 676.8L2198.7 675.5L2199.3 676.7L2199.9 674.8L2200.4 673.4L2201.0 676.2L2201.6 676.9L2202.2 678.7L2202.7 680.2L2203.3 677.5L2203.9 679.0L2204.5 678.9L2205.0 677.7L2205.6 678.7L2206.2 678.1L2206.8 679.8L2207.3 676.3L2207.9 674.6L2208.5 678.0L2209.1 679.1L2209.6 679.3L2210.2 677.1L2210.8 678.6L2211.4 677.0L2211.9 678.8L2212.5 676.9L2213.1 676.4L2213.7 679.1L2214.2 676.1L2214.8 675.8L2215.4 678.8L2216.0 677.8L2216.5 674.5L2217.1 679.1L2217.7 675.7L2218.3 676.6L2218.8 676.8L2219.4 679.3L2220.0 676.1L2220.6 676.9L2221.1 674.8L2221.7 674.9L2222.3 671.4L2222.9 672.2L2223.4 670.2L2224.0 668.4L2224.6 669.0L2225.2 668.9L2225.7 667.2L2226.3 665.4L2226.9 666.3L2227.4 663.5L2228.0 665.1L2228.6 665.2L2229.2 664.2L2229.7 664.1L2230.3 665.0L2230.9 664.9L2231.5 666.5L2232.0 669.1L2232.6 666.9L2233.2 672.5L2233.8 672.7L2234.3 673.5L2234.9 672.8L2235.5 674.4L2236.1 674.7L2236.6 676.9L2237.2 677.2L2237.8 678.2L2238.4 676.8L2238.9 674.1L2239.5 675.6L2240.1 676.3L2240.7 677.2L2241.2 674.5L2241.8 676.0L2242.4 676.1L2243.0 674.8L2243.5 674.8L2244.1 677.6L2244.7 673.9L2245.3 676.0L2245.8 673.1L2246.4 671.3L2247.0 672.6L2247.6 671.0L2248.1 671.3L2248.7 668.2L2249.3 671.5L2249.9 670.2L2250.4 672.5L2251.0 671.2L2251.6 670.9L2252.2 670.4L2252.7 672.5L2253.3 672.6L2253.9 672.8L2254.5 676.9L2255.0 674.8L2255.6 676.7L2256.2 677.9L2256.8 676.7L2257.3 677.3L2257.9 677.3L2258.5 678.0L2259.1 677.6L2259.6 677.5L2260.2 677.0L2260.8 676.1L2261.4 676.1L2261.9 675.8L2262.5 676.8L2263.1 678.1L2263.7 674.9L2264.2 675.1L2264.8 674.4L2265.4 675.2L2266.0 676.2L2266.5 673.7L2267.1 673.6L2267.7 668.8L2268.3 670.0L2268.8 668.7L2269.4 664.6L2270.0 660.0L2270.6 659.2L2271.1 654.5L2271.7 653.1L2272.3 646.4L2272.9 644.3L2273.4 642.3L2274.0 641.9L2274.6 638.6L2275.2 642.0L2275.7 640.1L2276.3 638.0L2276.9 637.5L2277.5 639.6L2278.0 641.9L2278.6 644.6L2279.2 649.4L2279.8 654.8L2280.3 658.2L2280.9 662.2L2281.5 665.3L2282.1 668.0L2282.6 668.8L2283.2 670.8L2283.8 673.6L2284.4 675.0L2284.9 674.4L2285.5 670.1L2286.1 673.2L2286.7 676.0L2287.2 677.8L2287.8 677.3L2288.4 675.5L2289.0 675.4L2289.5 675.3L2290.1 678.2L2290.7 676.1L2291.3 674.5L2291.8 676.9L2292.4 676.6L2293.0 672.6L2293.6 674.2L2294.1 676.1L2294.7 675.6L2295.3 672.1L2295.9 672.9L2296.4 672.7L2297.0 669.8L2297.6 664.6L2298.2 660.8L2298.7 655.2L2299.3 646.9L2299.9 636.8L2300.5 635.2L2301.0 630.7L2301.6 630.8L2302.2 635.7L2302.8 633.8L2303.3 634.6L2303.9 630.1L2304.5 626.5L2305.1 618.5L2305.6 618.9L2306.2 625.1L2306.8 632.3L2307.4 638.5L2307.9 646.4L2308.5 648.8L2309.1 652.9L2309.7 655.2L2310.2 655.4L2310.8 658.1L2311.4 658.8L2312.0 658.0L2312.5 657.2L2313.1 654.4L2313.7 653.1L2314.3 657.9L2314.8 661.2L2315.4 663.3L2316.0 665.3L2316.6 668.6L2317.1 670.3L2317.7 671.2L2318.3 671.7L2318.9 673.6L2319.4 673.6L2320.0 673.4L2320.6 670.8L2321.2 671.0L2321.7 671.0L2322.3 665.2L2322.9 659.7L2323.5 658.1L2324.0 649.2L2324.6 643.7L2325.2 644.6L2325.8 644.2L2326.3 647.1L2326.9 650.0L2327.5 646.6L2328.1 641.8L2328.6 640.0L2329.2 637.0L2329.8 634.9L2330.4 641.3L2330.9 650.4L2331.5 656.4L2332.1 663.1L2332.7 666.1L2333.2 668.3L2333.8 670.2L2334.4 671.5L2335.0 672.7L2335.5 669.1L2336.1 670.1L2336.7 672.4L2337.3 672.8L2337.8 670.3L2338.4 670.0L2339.0 667.0L2339.6 664.4L2340.1 663.6L2340.7 659.7L2341.3 654.8L2341.9 648.9L2342.4 645.3L2343.0 639.8L2343.6 634.8L2344.2 631.3L2344.7 628.7L2345.3 628.6"/>
</g>
<!-- legend -->
<rect x="616.8" y="41.8" width="1650.3" height="226.9" fill="#ffffff"/>
<rect x="611.5" y="37" width="1661.2" height="4.8" fill="#8c8c8c"/>
<rect x="611.5" y="268.7" width="1658.5" height="5.1" fill="#808080"/>
<rect x="611.5" y="41.8" width="2.6" height="226.9" fill="#a2a2a2"/>
<rect x="614.1" y="41.8" width="2.7" height="226.9" fill="#777777"/>
<rect x="2267.1" y="41.8" width="2.9" height="226.9" fill="#404040"/>
<rect x="2270" y="41.8" width="2.7" height="229" fill="#b0b0b0"/>
<g stroke-width="5.2" fill="none">
<line x1="728.4" y1="88.6" x2="864.8" y2="88.6" stroke="#00ff00"/>
<line x1="728.4" y1="162.1" x2="864.8" y2="162.1" stroke="#0000ff"/>
<line x1="728.4" y1="236.6" x2="864.8" y2="236.6" stroke="#ff0000"/>
</g>
<g class="sans" font-size="59.85" fill="#000" stroke="#000" stroke-width="0.8" stroke-linejoin="round">
<text x="879.5" y="109.3">Sample after ball milling, sintering and hot pressing</text>
<text x="879.5" y="182.8">Sample after ball milling and sintering</text>
<text x="879.5" y="257">Sample after ball milling</text>
</g>
<!-- tick labels -->
<g class="sans" font-size="69" fill="#000" stroke="#000" stroke-width="0.5" stroke-linejoin="round" transform="translate(0 1705.4) scale(1 1.035) translate(0 -1705.4)">
<text x="334.4" y="1705.4" text-anchor="middle">10</text><text x="621.9" y="1705.4" text-anchor="middle">20</text><text x="909.3" y="1705.4" text-anchor="middle">30</text><text x="1196.7" y="1705.4" text-anchor="middle">40</text><text x="1484.2" y="1705.4" text-anchor="middle">50</text><text x="1771.6" y="1705.4" text-anchor="middle">60</text><text x="2059.1" y="1705.4" text-anchor="middle">70</text><text x="2346.5" y="1705.4" text-anchor="middle">80</text>
</g>
<!-- axis titles -->
<text class="sans" font-size="84" fill="#000" stroke="#000" stroke-width="0.7" transform="translate(76.6 1427.2) rotate(-90)" x="0" y="0" textLength="1123" lengthAdjust="spacingAndGlyphs">Normalized reflections intensity</text>
<text class="sans" font-size="84.5" fill="#000" stroke="#000" stroke-width="0.9" x="1169.3" y="1839.6">2</text>
<text class="serif" font-size="83" fill="#000" x="1217" y="1839.6">θ</text>
<text class="serif" font-size="83" fill="#000" x="1277.8" y="1839.6">(</text>
<text class="serif" font-size="83" fill="#000" x="1304.8" y="1839.6">°</text>
<text class="serif" font-size="83" fill="#000" x="1336.5" y="1839.6">)</text>
</g>
</svg>
</body>
</html>
